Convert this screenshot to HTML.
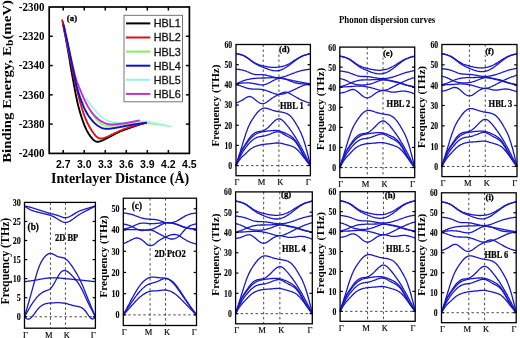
<!DOCTYPE html>
<html><head><meta charset="utf-8"><style>
html,body{margin:0;padding:0;background:#fff;}
body{width:520px;height:338px;overflow:hidden;}
svg{display:block;}
</style></head><body>
<svg width="520" height="338" viewBox="0 0 520 338">
<rect width="520" height="338" fill="#fff"/>
<path d="M91.3,111.7 L91.9,112.7 L92.5,113.7 L93.1,114.6 L93.7,115.6 L94.4,116.6 L95.0,117.5 L95.6,118.3 L96.2,119.2 L96.8,120.0 L97.4,120.7 L98.1,121.4 L98.7,122.0 L99.3,122.6 L99.9,123.1 L100.5,123.6 L101.2,124.0 L101.8,124.3 L102.4,124.6 L103.0,124.9 L103.6,125.1 L104.2,125.3 L104.9,125.5 L105.5,125.6 L106.1,125.7 L106.7,125.8 L107.3,125.9 L108.0,125.9 L108.6,126.0 L109.2,126.0 L109.8,126.0 L110.4,126.0 L111.1,125.9 L111.7,125.9 L112.3,125.9 L112.9,125.8 L113.5,125.8 L114.1,125.8 L114.8,125.7 L115.4,125.7 L116.0,125.6 L116.6,125.6 L117.2,125.5 L117.9,125.5 L118.5,125.4 L119.1,125.4 L119.7,125.3 L120.3,125.2 L120.9,125.2 L121.6,125.1 L122.2,125.1 L122.8,125.0 L123.4,124.9 L124.0,124.9 L124.7,124.8 L125.3,124.7 L125.9,124.7 L126.5,124.6 L127.1,124.5 L127.8,124.5 L128.4,124.4 L129.0,124.3 L129.6,124.2 L130.2,124.2 L130.8,124.1 L131.5,124.0 L132.1,124.0 L132.7,123.9 L133.3,123.8 L133.9,123.8 L134.6,123.7 L135.2,123.6 L135.8,123.6 L136.4,123.5 L137.0,123.4 L137.6,123.4 L138.3,123.3 L138.9,123.3 L139.5,123.2 L140.1,123.2 L140.7,123.2 L141.4,123.1 L142.0,123.1 L142.6,123.1 L143.2,123.1 L143.8,123.1 L144.5,123.1 L145.1,123.1 L145.7,123.1 L146.3,123.2 L146.9,123.2 L147.5,123.2 L148.2,123.3 L148.8,123.3 L149.4,123.4 L150.0,123.5 L150.6,123.5 L151.3,123.6 L151.9,123.6 L152.5,123.7 L153.1,123.8 L153.7,123.9 L154.3,123.9 L155.0,124.0 L155.6,124.1 L156.2,124.2 L156.8,124.3 L157.4,124.4 L158.1,124.4 L158.7,124.5 L159.3,124.6 L159.9,124.7 L160.5,124.8 L161.2,124.9 L161.8,125.0 L162.4,125.1 L163.0,125.2 L163.6,125.3 L164.2,125.3 L164.9,125.4" fill="none" stroke="#a0f070" stroke-width="1.9" stroke-linejoin="round" stroke-linecap="round"/>
<path d="M86.4,98.9 L87.1,99.9 L87.8,100.9 L88.5,101.8 L89.2,102.8 L89.9,103.7 L90.6,104.6 L91.3,105.6 L92.1,106.5 L92.8,107.4 L93.5,108.3 L94.2,109.2 L94.9,110.1 L95.6,110.9 L96.3,111.8 L97.0,112.6 L97.8,113.3 L98.5,114.1 L99.2,114.8 L99.9,115.5 L100.6,116.1 L101.3,116.7 L102.0,117.3 L102.7,117.8 L103.5,118.3 L104.2,118.8 L104.9,119.2 L105.6,119.6 L106.3,120.0 L107.0,120.3 L107.7,120.6 L108.4,120.9 L109.2,121.2 L109.9,121.4 L110.6,121.6 L111.3,121.8 L112.0,122.0 L112.7,122.2 L113.4,122.3 L114.2,122.4 L114.9,122.5 L115.6,122.6 L116.3,122.7 L117.0,122.8 L117.7,122.8 L118.4,122.9 L119.1,122.9 L119.9,122.9 L120.6,123.0 L121.3,123.0 L122.0,123.0 L122.7,123.0 L123.4,122.9 L124.1,122.9 L124.8,122.9 L125.6,122.8 L126.3,122.8 L127.0,122.7 L127.7,122.7 L128.4,122.6 L129.1,122.6 L129.8,122.5 L130.5,122.4 L131.3,122.3 L132.0,122.2 L132.7,122.2 L133.4,122.1 L134.1,122.0 L134.8,121.9 L135.5,121.8 L136.2,121.7 L137.0,121.6 L137.7,121.5 L138.4,121.5 L139.1,121.4 L139.8,121.4 L140.5,121.3 L141.2,121.3 L141.9,121.3 L142.7,121.4 L143.4,121.4 L144.1,121.4 L144.8,121.5 L145.5,121.6 L146.2,121.6 L146.9,121.7 L147.7,121.8 L148.4,121.9 L149.1,122.0 L149.8,122.1 L150.5,122.3 L151.2,122.4 L151.9,122.5 L152.6,122.6 L153.4,122.8 L154.1,122.9 L154.8,123.0 L155.5,123.2 L156.2,123.3 L156.9,123.5 L157.6,123.6 L158.3,123.8 L159.1,123.9 L159.8,124.1 L160.5,124.2 L161.2,124.4 L161.9,124.5 L162.6,124.7 L163.3,124.8 L164.0,125.0 L164.8,125.2 L165.5,125.3 L166.2,125.5 L166.9,125.6 L167.6,125.8 L168.3,126.0 L169.0,126.1 L169.7,126.3 L170.5,126.4 L171.2,126.6" fill="none" stroke="#a8f0f0" stroke-width="1.9" stroke-linejoin="round" stroke-linecap="round"/>
<path d="M62.9,22.4 L63.6,26.2 L64.3,30.0 L65.0,33.8 L65.7,37.6 L66.4,41.5 L67.1,45.4 L67.8,49.3 L68.5,53.3 L69.2,57.4 L69.9,61.4 L70.5,65.5 L71.2,69.5 L71.9,73.4 L72.6,77.3 L73.3,81.2 L74.0,85.0 L74.7,88.8 L75.4,92.5 L76.1,96.1 L76.8,99.5 L77.5,102.7 L78.2,105.6 L78.9,108.3 L79.6,110.8 L80.3,113.2 L81.0,115.5 L81.7,117.7 L82.4,119.8 L83.1,121.8 L83.8,123.7 L84.5,125.5 L85.2,127.1 L85.9,128.7 L86.6,130.1 L87.3,131.4 L88.0,132.6 L88.7,133.8 L89.4,134.9 L90.1,135.9 L90.8,136.8 L91.5,137.7 L92.2,138.6 L92.9,139.3 L93.6,140.0 L94.3,140.5 L95.0,141.0 L95.7,141.4 L96.4,141.6 L97.1,141.7 L97.8,141.8 L98.5,141.7 L99.2,141.6 L99.9,141.4 L100.6,141.1 L101.3,140.9 L102.0,140.6 L102.7,140.3 L103.4,140.0 L104.1,139.6 L104.8,139.3 L105.5,139.0 L106.1,138.6 L106.8,138.3 L107.5,137.9 L108.2,137.6 L108.9,137.2 L109.6,136.8 L110.3,136.5 L111.0,136.1 L111.7,135.7 L112.4,135.4 L113.1,135.0 L113.8,134.6 L114.5,134.2 L115.2,133.9 L115.9,133.5 L116.6,133.2 L117.3,132.8 L118.0,132.5 L118.7,132.1 L119.4,131.8 L120.1,131.5 L120.8,131.2 L121.5,130.9 L122.2,130.7 L122.9,130.4 L123.6,130.1 L124.3,129.9 L125.0,129.6 L125.7,129.4 L126.4,129.1 L127.1,128.9 L127.8,128.6 L128.5,128.4 L129.2,128.1 L129.9,127.9 L130.6,127.7 L131.3,127.4 L132.0,127.2 L132.7,126.9 L133.4,126.7 L134.1,126.5 L134.8,126.2 L135.5,126.0 L136.2,125.7 L136.9,125.5 L137.6,125.3 L138.3,125.1 L139.0,124.8 L139.7,124.6 L140.4,124.4 L141.1,124.2 L141.7,124.0 L142.4,123.8 L143.1,123.6 L143.8,123.4 L144.5,123.2 L145.2,123.0 L145.9,122.8" fill="none" stroke="#000000" stroke-width="1.9" stroke-linejoin="round" stroke-linecap="round"/>
<path d="M62.2,20.2 L62.9,23.4 L63.6,26.7 L64.3,30.0 L65.0,33.3 L65.7,36.6 L66.4,39.9 L67.1,43.3 L67.8,46.6 L68.5,50.0 L69.2,53.5 L69.9,56.9 L70.6,60.3 L71.3,63.8 L72.0,67.3 L72.7,70.7 L73.4,74.2 L74.1,77.5 L74.8,80.8 L75.5,83.9 L76.2,87.0 L77.0,90.0 L77.7,92.9 L78.4,95.6 L79.1,98.3 L79.8,100.9 L80.5,103.4 L81.2,105.8 L81.9,108.2 L82.6,110.4 L83.3,112.6 L84.0,114.6 L84.7,116.5 L85.4,118.3 L86.1,120.0 L86.8,121.5 L87.5,123.0 L88.2,124.4 L88.9,125.7 L89.6,127.0 L90.3,128.2 L91.0,129.3 L91.7,130.4 L92.4,131.5 L93.1,132.5 L93.8,133.5 L94.5,134.4 L95.3,135.3 L96.0,136.1 L96.7,136.7 L97.4,137.3 L98.1,137.8 L98.8,138.1 L99.5,138.4 L100.2,138.5 L100.9,138.5 L101.6,138.5 L102.3,138.4 L103.0,138.3 L103.7,138.1 L104.4,137.9 L105.1,137.6 L105.8,137.4 L106.5,137.1 L107.2,136.8 L107.9,136.5 L108.6,136.1 L109.3,135.8 L110.0,135.5 L110.7,135.1 L111.4,134.8 L112.1,134.4 L112.9,134.1 L113.6,133.8 L114.3,133.4 L115.0,133.1 L115.7,132.8 L116.4,132.5 L117.1,132.1 L117.8,131.8 L118.5,131.5 L119.2,131.2 L119.9,130.9 L120.6,130.6 L121.3,130.3 L122.0,130.0 L122.7,129.7 L123.4,129.4 L124.1,129.2 L124.8,128.9 L125.5,128.6 L126.2,128.3 L126.9,128.1 L127.6,127.8 L128.3,127.5 L129.0,127.3 L129.7,127.1 L130.5,126.8 L131.2,126.6 L131.9,126.4 L132.6,126.2 L133.3,126.0 L134.0,125.8 L134.7,125.6 L135.4,125.5 L136.1,125.3 L136.8,125.1 L137.5,124.9 L138.2,124.7 L138.9,124.6 L139.6,124.4 L140.3,124.2 L141.0,124.0 L141.7,123.9 L142.4,123.7 L143.1,123.5 L143.8,123.3 L144.5,123.2 L145.2,123.0 L145.9,122.8" fill="none" stroke="#dd1111" stroke-width="1.9" stroke-linejoin="round" stroke-linecap="round"/>
<path d="M64.3,27.5 L64.9,30.6 L65.5,33.6 L66.2,36.7 L66.8,39.7 L67.4,42.7 L68.0,45.7 L68.7,48.7 L69.3,51.6 L69.9,54.5 L70.5,57.3 L71.2,60.0 L71.8,62.7 L72.4,65.3 L73.1,67.9 L73.7,70.3 L74.3,72.7 L74.9,75.0 L75.6,77.2 L76.2,79.2 L76.8,81.2 L77.4,83.0 L78.1,84.7 L78.7,86.3 L79.3,87.8 L80.0,89.3 L80.6,90.8 L81.2,92.3 L81.8,93.7 L82.5,95.2 L83.1,96.6 L83.7,98.1 L84.3,99.4 L85.0,100.8 L85.6,102.1 L86.2,103.3 L86.9,104.5 L87.5,105.7 L88.1,106.8 L88.7,107.8 L89.4,108.9 L90.0,109.8 L90.6,110.8 L91.2,111.7 L91.9,112.5 L92.5,113.3 L93.1,114.1 L93.8,114.8 L94.4,115.5 L95.0,116.2 L95.6,116.8 L96.3,117.4 L96.9,118.0 L97.5,118.5 L98.1,119.0 L98.8,119.5 L99.4,120.0 L100.0,120.4 L100.7,120.9 L101.3,121.3 L101.9,121.6 L102.5,122.0 L103.2,122.3 L103.8,122.6 L104.4,122.9 L105.1,123.2 L105.7,123.4 L106.3,123.6 L106.9,123.8 L107.6,124.0 L108.2,124.1 L108.8,124.2 L109.4,124.3 L110.1,124.4 L110.7,124.5 L111.3,124.5 L112.0,124.5 L112.6,124.5 L113.2,124.5 L113.8,124.4 L114.5,124.4 L115.1,124.3 L115.7,124.3 L116.3,124.2 L117.0,124.2 L117.6,124.1 L118.2,124.0 L118.9,124.0 L119.5,123.9 L120.1,123.9 L120.7,123.8 L121.4,123.7 L122.0,123.6 L122.6,123.6 L123.2,123.5 L123.9,123.4 L124.5,123.3 L125.1,123.2 L125.8,123.1 L126.4,123.0 L127.0,122.9 L127.6,122.8 L128.3,122.7 L128.9,122.5 L129.5,122.4 L130.1,122.3 L130.8,122.2 L131.4,122.1 L132.0,121.9 L132.7,121.8 L133.3,121.7 L133.9,121.5 L134.5,121.4 L135.2,121.3 L135.8,121.1 L136.4,121.0 L137.0,120.9 L137.7,120.7 L138.3,120.6 L138.9,120.5" fill="none" stroke="#bb33cc" stroke-width="1.9" stroke-linejoin="round" stroke-linecap="round"/>
<path d="M63.6,25.3 L64.3,28.2 L65.0,31.1 L65.6,34.0 L66.3,37.0 L67.0,40.1 L67.7,43.2 L68.4,46.4 L69.1,49.7 L69.8,53.1 L70.5,56.5 L71.2,60.0 L71.9,63.4 L72.6,66.8 L73.3,70.1 L74.0,73.5 L74.6,76.8 L75.3,80.1 L76.0,83.2 L76.7,86.2 L77.4,88.9 L78.1,91.4 L78.8,93.6 L79.5,95.7 L80.2,97.7 L80.9,99.6 L81.6,101.4 L82.3,103.2 L83.0,105.0 L83.6,106.6 L84.3,108.2 L85.0,109.7 L85.7,111.1 L86.4,112.3 L87.1,113.5 L87.8,114.7 L88.5,115.7 L89.2,116.7 L89.9,117.7 L90.6,118.6 L91.3,119.4 L91.9,120.2 L92.6,121.0 L93.3,121.8 L94.0,122.5 L94.7,123.2 L95.4,123.8 L96.1,124.4 L96.8,125.0 L97.5,125.5 L98.2,126.0 L98.9,126.4 L99.6,126.8 L100.3,127.2 L100.9,127.5 L101.6,127.8 L102.3,128.1 L103.0,128.3 L103.7,128.5 L104.4,128.6 L105.1,128.7 L105.8,128.8 L106.5,128.8 L107.2,128.9 L107.9,128.8 L108.6,128.8 L109.3,128.8 L109.9,128.7 L110.6,128.6 L111.3,128.5 L112.0,128.4 L112.7,128.3 L113.4,128.2 L114.1,128.1 L114.8,128.0 L115.5,127.9 L116.2,127.7 L116.9,127.6 L117.6,127.5 L118.3,127.4 L118.9,127.3 L119.6,127.1 L120.3,127.0 L121.0,126.9 L121.7,126.7 L122.4,126.6 L123.1,126.5 L123.8,126.3 L124.5,126.2 L125.2,126.0 L125.9,125.9 L126.6,125.8 L127.2,125.6 L127.9,125.5 L128.6,125.4 L129.3,125.2 L130.0,125.1 L130.7,125.0 L131.4,124.9 L132.1,124.7 L132.8,124.6 L133.5,124.5 L134.2,124.4 L134.9,124.3 L135.6,124.2 L136.2,124.1 L136.9,124.0 L137.6,123.9 L138.3,123.8 L139.0,123.7 L139.7,123.6 L140.4,123.5 L141.1,123.4 L141.8,123.3 L142.5,123.2 L143.2,123.1 L143.9,123.1 L144.6,123.0 L145.2,122.9 L145.9,122.8" fill="none" stroke="#1111cc" stroke-width="1.9" stroke-linejoin="round" stroke-linecap="round"/>
<rect x="49.20" y="7.00" width="140.20" height="146.40" stroke="#000" stroke-width="1.7" fill="none"/>
<line x1="49.20" y1="36.28" x2="52.70" y2="36.28" stroke="#000" stroke-width="1.5"/>
<line x1="185.90" y1="36.28" x2="189.40" y2="36.28" stroke="#000" stroke-width="1.5"/>
<line x1="49.20" y1="65.56" x2="52.70" y2="65.56" stroke="#000" stroke-width="1.5"/>
<line x1="185.90" y1="65.56" x2="189.40" y2="65.56" stroke="#000" stroke-width="1.5"/>
<line x1="49.20" y1="94.84" x2="52.70" y2="94.84" stroke="#000" stroke-width="1.5"/>
<line x1="185.90" y1="94.84" x2="189.40" y2="94.84" stroke="#000" stroke-width="1.5"/>
<line x1="49.20" y1="124.12" x2="52.70" y2="124.12" stroke="#000" stroke-width="1.5"/>
<line x1="185.90" y1="124.12" x2="189.40" y2="124.12" stroke="#000" stroke-width="1.5"/>
<line x1="63.22" y1="153.40" x2="63.22" y2="149.90" stroke="#000" stroke-width="1.5"/>
<line x1="63.22" y1="7.00" x2="63.22" y2="10.50" stroke="#000" stroke-width="1.5"/>
<line x1="84.25" y1="153.40" x2="84.25" y2="149.90" stroke="#000" stroke-width="1.5"/>
<line x1="84.25" y1="7.00" x2="84.25" y2="10.50" stroke="#000" stroke-width="1.5"/>
<line x1="105.28" y1="153.40" x2="105.28" y2="149.90" stroke="#000" stroke-width="1.5"/>
<line x1="105.28" y1="7.00" x2="105.28" y2="10.50" stroke="#000" stroke-width="1.5"/>
<line x1="126.31" y1="153.40" x2="126.31" y2="149.90" stroke="#000" stroke-width="1.5"/>
<line x1="126.31" y1="7.00" x2="126.31" y2="10.50" stroke="#000" stroke-width="1.5"/>
<line x1="147.34" y1="153.40" x2="147.34" y2="149.90" stroke="#000" stroke-width="1.5"/>
<line x1="147.34" y1="7.00" x2="147.34" y2="10.50" stroke="#000" stroke-width="1.5"/>
<line x1="168.37" y1="153.40" x2="168.37" y2="149.90" stroke="#000" stroke-width="1.5"/>
<line x1="168.37" y1="7.00" x2="168.37" y2="10.50" stroke="#000" stroke-width="1.5"/>
<text transform="translate(44.40,10.90) scale(0.9,1)" font-family="'Liberation Serif', 'Times New Roman', serif" font-size="12.2" font-weight="bold" text-anchor="end" fill="#000">-2300</text>
<text transform="translate(44.40,40.18) scale(0.9,1)" font-family="'Liberation Serif', 'Times New Roman', serif" font-size="12.2" font-weight="bold" text-anchor="end" fill="#000">-2320</text>
<text transform="translate(44.40,69.46) scale(0.9,1)" font-family="'Liberation Serif', 'Times New Roman', serif" font-size="12.2" font-weight="bold" text-anchor="end" fill="#000">-2340</text>
<text transform="translate(44.40,98.74) scale(0.9,1)" font-family="'Liberation Serif', 'Times New Roman', serif" font-size="12.2" font-weight="bold" text-anchor="end" fill="#000">-2360</text>
<text transform="translate(44.40,128.02) scale(0.9,1)" font-family="'Liberation Serif', 'Times New Roman', serif" font-size="12.2" font-weight="bold" text-anchor="end" fill="#000">-2380</text>
<text transform="translate(44.40,157.30) scale(0.9,1)" font-family="'Liberation Serif', 'Times New Roman', serif" font-size="12.2" font-weight="bold" text-anchor="end" fill="#000">-2400</text>
<text transform="translate(63.22,168.30)" font-family="'Liberation Sans', Arial, sans-serif" font-size="10.5" font-weight="bold" text-anchor="middle" fill="#000">2.7</text>
<text transform="translate(84.25,168.30)" font-family="'Liberation Sans', Arial, sans-serif" font-size="10.5" font-weight="bold" text-anchor="middle" fill="#000">3.0</text>
<text transform="translate(105.28,168.30)" font-family="'Liberation Sans', Arial, sans-serif" font-size="10.5" font-weight="bold" text-anchor="middle" fill="#000">3.3</text>
<text transform="translate(126.31,168.30)" font-family="'Liberation Sans', Arial, sans-serif" font-size="10.5" font-weight="bold" text-anchor="middle" fill="#000">3.6</text>
<text transform="translate(147.34,168.30)" font-family="'Liberation Sans', Arial, sans-serif" font-size="10.5" font-weight="bold" text-anchor="middle" fill="#000">3.9</text>
<text transform="translate(168.37,168.30)" font-family="'Liberation Sans', Arial, sans-serif" font-size="10.5" font-weight="bold" text-anchor="middle" fill="#000">4.2</text>
<text transform="translate(189.40,168.30)" font-family="'Liberation Sans', Arial, sans-serif" font-size="10.5" font-weight="bold" text-anchor="middle" fill="#000">4.5</text>
<text transform="translate(51.00,182.50)" font-family="'Liberation Serif', 'Times New Roman', serif" font-size="14" font-weight="bold" text-anchor="start" fill="#000">Interlayer Distance (Å)</text>
<text transform="translate(11.0,162.8) rotate(-90) scale(1.1,1)" font-family="'Liberation Serif', 'Times New Roman', serif" font-size="13.5" font-weight="bold" fill="#000">Binding Energy, E<tspan font-size="10.5" dy="2.3">b</tspan><tspan dy="-2.3">(meV)</tspan></text>
<text transform="translate(66.80,21.20)" font-family="'Liberation Serif', 'Times New Roman', serif" font-size="8.8" font-weight="bold" text-anchor="start" fill="#000" stroke="#000" stroke-width="0.3">(a)</text>
<rect x="124.00" y="15.30" width="58.50" height="86.50" stroke="#666" stroke-width="0.9" fill="#fff"/>
<line x1="126.00" y1="23.40" x2="150.30" y2="23.40" stroke="#000000" stroke-width="2.0"/>
<text transform="translate(153.70,27.30)" font-family="'Liberation Sans', Arial, sans-serif" font-size="10.8" font-weight="normal" text-anchor="start" fill="#111" stroke="#111" stroke-width="0.3">HBL1</text>
<line x1="126.00" y1="37.50" x2="150.30" y2="37.50" stroke="#dd1111" stroke-width="2.0"/>
<text transform="translate(153.70,41.40)" font-family="'Liberation Sans', Arial, sans-serif" font-size="10.8" font-weight="normal" text-anchor="start" fill="#111" stroke="#111" stroke-width="0.3">HBL2</text>
<line x1="126.00" y1="51.60" x2="150.30" y2="51.60" stroke="#88ee55" stroke-width="2.0"/>
<text transform="translate(153.70,55.50)" font-family="'Liberation Sans', Arial, sans-serif" font-size="10.8" font-weight="normal" text-anchor="start" fill="#111" stroke="#111" stroke-width="0.3">HBL3</text>
<line x1="126.00" y1="65.70" x2="150.30" y2="65.70" stroke="#1111cc" stroke-width="2.0"/>
<text transform="translate(153.70,69.60)" font-family="'Liberation Sans', Arial, sans-serif" font-size="10.8" font-weight="normal" text-anchor="start" fill="#111" stroke="#111" stroke-width="0.3">HBL4</text>
<line x1="126.00" y1="79.80" x2="150.30" y2="79.80" stroke="#99eeee" stroke-width="2.0"/>
<text transform="translate(153.70,83.70)" font-family="'Liberation Sans', Arial, sans-serif" font-size="10.8" font-weight="normal" text-anchor="start" fill="#111" stroke="#111" stroke-width="0.3">HBL5</text>
<line x1="126.00" y1="93.90" x2="150.30" y2="93.90" stroke="#bb33cc" stroke-width="2.0"/>
<text transform="translate(153.70,97.80)" font-family="'Liberation Sans', Arial, sans-serif" font-size="10.8" font-weight="normal" text-anchor="start" fill="#111" stroke="#111" stroke-width="0.3">HBL6</text>
<line x1="50.45" y1="202.40" x2="50.45" y2="328.20" stroke="#333" stroke-width="0.9" stroke-dasharray="2.4,2.6"/>
<line x1="65.43" y1="202.40" x2="65.43" y2="328.20" stroke="#333" stroke-width="0.9" stroke-dasharray="2.4,2.6"/>
<line x1="24.50" y1="316.76" x2="95.40" y2="316.76" stroke="#333" stroke-width="0.9" stroke-dasharray="2.4,2.6"/>
<rect x="27.10" y="222.80" width="12.04" height="9.12" fill="#fff"/>
<path d="M24.5,206.0 L25.3,206.2 L26.1,206.3 L26.9,206.5 L27.7,206.7 L28.5,206.9 L29.3,207.0 L30.1,207.2 L30.9,207.4 L31.7,207.6 L32.5,207.8 L33.3,208.1 L34.1,208.3 L34.9,208.6 L35.7,208.8 L36.4,209.1 L37.2,209.3 L38.0,209.6 L38.8,209.8 L39.6,210.1 L40.4,210.4 L41.2,210.7 L42.0,210.9 L42.8,211.2 L43.6,211.5 L44.4,211.7 L45.2,212.0 L46.0,212.2 L46.8,212.5 L47.6,212.8 L48.4,213.0 L49.2,213.2 L50.0,213.4 L50.8,213.7 L51.6,213.8 L52.4,214.0 L53.2,214.2 L54.0,214.4 L54.8,214.6 L55.6,214.8 L56.4,215.0 L57.2,215.3 L58.0,215.5 L58.8,215.8 L59.6,216.1 L60.3,216.4 L61.1,216.7 L61.9,217.0 L62.7,217.3 L63.5,217.5 L64.3,217.6 L65.1,217.6 L65.9,217.6 L66.7,217.5 L67.5,217.3 L68.3,217.1 L69.1,216.8 L69.9,216.4 L70.7,216.0 L71.5,215.6 L72.3,215.1 L73.1,214.6 L73.9,214.1 L74.7,213.6 L75.5,213.1 L76.3,212.7 L77.1,212.2 L77.9,211.8 L78.7,211.4 L79.5,211.0 L80.3,210.7 L81.1,210.4 L81.9,210.1 L82.7,209.8 L83.5,209.5 L84.2,209.3 L85.0,209.0 L85.8,208.8 L86.6,208.6 L87.4,208.3 L88.2,208.1 L89.0,207.9 L89.8,207.6 L90.6,207.4 L91.4,207.2 L92.2,206.9 L93.0,206.7 L93.8,206.5 L94.6,206.3 L95.4,206.0" fill="none" stroke="#1818c8" stroke-width="1.3" stroke-linejoin="round"/>
<path d="M24.5,206.0 L25.3,206.6 L26.1,207.2 L26.9,207.7 L27.7,208.3 L28.5,208.8 L29.3,209.2 L30.1,209.6 L30.9,210.0 L31.7,210.3 L32.5,210.6 L33.3,210.9 L34.1,211.1 L34.9,211.4 L35.7,211.6 L36.4,211.8 L37.2,212.0 L38.0,212.2 L38.8,212.4 L39.6,212.6 L40.4,212.8 L41.2,213.0 L42.0,213.2 L42.8,213.4 L43.6,213.7 L44.4,213.9 L45.2,214.0 L46.0,214.2 L46.8,214.4 L47.6,214.6 L48.4,214.8 L49.2,215.0 L50.0,215.2 L50.8,215.5 L51.6,215.8 L52.4,216.1 L53.2,216.5 L54.0,216.9 L54.8,217.4 L55.6,217.8 L56.4,218.3 L57.2,218.8 L58.0,219.3 L58.8,219.7 L59.6,220.2 L60.3,220.7 L61.1,221.1 L61.9,221.5 L62.7,221.8 L63.5,222.1 L64.3,222.3 L65.1,222.4 L65.9,222.4 L66.7,222.3 L67.5,222.1 L68.3,221.8 L69.1,221.5 L69.9,221.1 L70.7,220.6 L71.5,220.1 L72.3,219.5 L73.1,219.0 L73.9,218.4 L74.7,217.8 L75.5,217.2 L76.3,216.6 L77.1,216.0 L77.9,215.5 L78.7,214.9 L79.5,214.4 L80.3,214.0 L81.1,213.5 L81.9,213.0 L82.7,212.6 L83.5,212.2 L84.2,211.8 L85.0,211.4 L85.8,211.0 L86.6,210.6 L87.4,210.2 L88.2,209.8 L89.0,209.4 L89.8,208.9 L90.6,208.5 L91.4,208.1 L92.2,207.7 L93.0,207.3 L93.8,206.9 L94.6,206.4 L95.4,206.0" fill="none" stroke="#1818c8" stroke-width="1.3" stroke-linejoin="round"/>
<path d="M24.5,316.8 L25.3,314.0 L26.1,311.3 L26.9,308.6 L27.7,305.8 L28.5,303.0 L29.3,300.2 L30.1,297.4 L30.9,294.6 L31.7,291.7 L32.5,288.8 L33.3,285.9 L34.1,283.0 L34.9,280.1 L35.7,277.3 L36.4,274.7 L37.2,272.1 L38.0,269.7 L38.8,267.5 L39.6,265.5 L40.4,263.7 L41.2,262.1 L42.0,260.7 L42.8,259.4 L43.6,258.2 L44.4,257.2 L45.2,256.3 L46.0,255.6 L46.8,254.9 L47.6,254.4 L48.4,253.9 L49.2,253.7 L50.0,253.5 L50.8,253.5 L51.6,253.6 L52.4,253.9 L53.2,254.2 L54.0,254.6 L54.8,255.0 L55.6,255.4 L56.4,255.9 L57.2,256.3 L58.0,256.6 L58.8,256.8 L59.6,257.0 L60.3,257.2 L61.1,257.4 L61.9,257.5 L62.7,257.7 L63.5,257.9 L64.3,258.2 L65.1,258.6 L65.9,259.2 L66.7,259.8 L67.5,260.5 L68.3,261.4 L69.1,262.3 L69.9,263.3 L70.7,264.3 L71.5,265.4 L72.3,266.6 L73.1,267.8 L73.9,269.0 L74.7,270.3 L75.5,271.6 L76.3,272.9 L77.1,274.3 L77.9,275.7 L78.7,277.2 L79.5,278.8 L80.3,280.4 L81.1,282.1 L81.9,283.9 L82.7,285.7 L83.5,287.6 L84.2,289.5 L85.0,291.5 L85.8,293.4 L86.6,295.4 L87.4,297.4 L88.2,299.4 L89.0,301.4 L89.8,303.3 L90.6,305.3 L91.4,307.2 L92.2,309.1 L93.0,311.1 L93.8,313.0 L94.6,314.9 L95.4,316.8" fill="none" stroke="#1818c8" stroke-width="1.3" stroke-linejoin="round"/>
<path d="M24.5,281.7 L25.3,281.6 L26.1,281.5 L26.9,281.4 L27.7,281.3 L28.5,281.2 L29.3,281.1 L30.1,280.9 L30.9,280.8 L31.7,280.7 L32.5,280.6 L33.3,280.5 L34.1,280.3 L34.9,280.2 L35.7,280.1 L36.4,279.9 L37.2,279.8 L38.0,279.7 L38.8,279.5 L39.6,279.4 L40.4,279.2 L41.2,279.1 L42.0,278.9 L42.8,278.8 L43.6,278.7 L44.4,278.5 L45.2,278.4 L46.0,278.3 L46.8,278.2 L47.6,278.1 L48.4,278.0 L49.2,278.0 L50.0,277.9 L50.8,277.9 L51.6,277.8 L52.4,277.8 L53.2,277.8 L54.0,277.8 L54.8,277.8 L55.6,277.8 L56.4,277.9 L57.2,277.9 L58.0,278.0 L58.8,278.0 L59.6,278.1 L60.3,278.2 L61.1,278.2 L61.9,278.3 L62.7,278.4 L63.5,278.5 L64.3,278.5 L65.1,278.6 L65.9,278.7 L66.7,278.8 L67.5,278.8 L68.3,278.9 L69.1,279.0 L69.9,279.1 L70.7,279.2 L71.5,279.2 L72.3,279.3 L73.1,279.4 L73.9,279.5 L74.7,279.5 L75.5,279.6 L76.3,279.7 L77.1,279.8 L77.9,279.8 L78.7,279.9 L79.5,280.0 L80.3,280.1 L81.1,280.2 L81.9,280.2 L82.7,280.3 L83.5,280.4 L84.2,280.5 L85.0,280.6 L85.8,280.6 L86.6,280.7 L87.4,280.8 L88.2,280.9 L89.0,281.0 L89.8,281.1 L90.6,281.2 L91.4,281.3 L92.2,281.3 L93.0,281.4 L93.8,281.5 L94.6,281.6 L95.4,281.7" fill="none" stroke="#1818c8" stroke-width="1.3" stroke-linejoin="round"/>
<path d="M24.5,316.8 L25.3,315.3 L26.1,313.9 L26.9,312.5 L27.7,311.1 L28.5,309.7 L29.3,308.3 L30.1,307.0 L30.9,305.7 L31.7,304.4 L32.5,303.2 L33.3,302.0 L34.1,300.9 L34.9,299.8 L35.7,298.8 L36.4,297.8 L37.2,296.9 L38.0,296.1 L38.8,295.3 L39.6,294.5 L40.4,293.9 L41.2,293.3 L42.0,292.7 L42.8,292.2 L43.6,291.8 L44.4,291.4 L45.2,291.0 L46.0,290.8 L46.8,290.5 L47.6,290.2 L48.4,289.9 L49.2,289.5 L50.0,289.0 L50.8,288.2 L51.6,287.3 L52.4,286.2 L53.2,285.0 L54.0,283.6 L54.8,282.2 L55.6,280.8 L56.4,279.3 L57.2,277.9 L58.0,276.5 L58.8,275.1 L59.6,273.9 L60.3,272.9 L61.1,272.0 L61.9,271.4 L62.7,270.9 L63.5,270.6 L64.3,270.5 L65.1,270.6 L65.9,270.8 L66.7,271.1 L67.5,271.6 L68.3,272.1 L69.1,272.8 L69.9,273.5 L70.7,274.2 L71.5,275.0 L72.3,275.9 L73.1,276.7 L73.9,277.6 L74.7,278.5 L75.5,279.5 L76.3,280.5 L77.1,281.5 L77.9,282.7 L78.7,283.9 L79.5,285.1 L80.3,286.5 L81.1,287.9 L81.9,289.4 L82.7,291.0 L83.5,292.6 L84.2,294.3 L85.0,296.0 L85.8,297.7 L86.6,299.5 L87.4,301.2 L88.2,302.9 L89.0,304.5 L89.8,306.1 L90.6,307.7 L91.4,309.3 L92.2,310.8 L93.0,312.3 L93.8,313.8 L94.6,315.3 L95.4,316.8" fill="none" stroke="#1818c8" stroke-width="1.3" stroke-linejoin="round"/>
<path d="M24.5,316.8 L25.3,317.6 L26.1,318.3 L26.9,318.8 L27.7,319.2 L28.5,319.2 L29.3,319.0 L30.1,318.5 L30.9,317.9 L31.7,317.1 L32.5,316.2 L33.3,315.3 L34.1,314.2 L34.9,313.1 L35.7,312.0 L36.4,310.9 L37.2,309.9 L38.0,309.0 L38.8,308.1 L39.6,307.3 L40.4,306.6 L41.2,306.0 L42.0,305.4 L42.8,304.9 L43.6,304.5 L44.4,304.2 L45.2,303.9 L46.0,303.6 L46.8,303.5 L47.6,303.3 L48.4,303.2 L49.2,303.1 L50.0,303.1 L50.8,303.0 L51.6,303.0 L52.4,302.9 L53.2,302.9 L54.0,302.8 L54.8,302.8 L55.6,302.7 L56.4,302.7 L57.2,302.7 L58.0,302.7 L58.8,302.7 L59.6,302.7 L60.3,302.8 L61.1,302.8 L61.9,302.9 L62.7,303.0 L63.5,303.1 L64.3,303.2 L65.1,303.4 L65.9,303.5 L66.7,303.7 L67.5,303.9 L68.3,304.1 L69.1,304.4 L69.9,304.6 L70.7,304.8 L71.5,305.0 L72.3,305.3 L73.1,305.5 L73.9,305.7 L74.7,305.9 L75.5,306.1 L76.3,306.2 L77.1,306.4 L77.9,306.5 L78.7,306.7 L79.5,306.9 L80.3,307.2 L81.1,307.5 L81.9,307.9 L82.7,308.4 L83.5,309.0 L84.2,309.7 L85.0,310.5 L85.8,311.5 L86.6,312.6 L87.4,313.8 L88.2,315.0 L89.0,316.2 L89.8,317.2 L90.6,318.1 L91.4,318.7 L92.2,319.0 L93.0,318.9 L93.8,318.4 L94.6,317.7 L95.4,316.8" fill="none" stroke="#1818c8" stroke-width="1.3" stroke-linejoin="round"/>
<rect x="24.50" y="202.40" width="70.90" height="125.80" stroke="#000" stroke-width="1.3" fill="none"/>
<line x1="24.50" y1="316.76" x2="27.30" y2="316.76" stroke="#000" stroke-width="1.2"/>
<line x1="92.60" y1="316.76" x2="95.40" y2="316.76" stroke="#000" stroke-width="1.2"/>
<text transform="translate(20.70,320.16) scale(0.85,1)" font-family="'Liberation Serif', 'Times New Roman', serif" font-size="9.5" font-weight="bold" text-anchor="end" fill="#000" stroke="#000" stroke-width="0.1">0</text>
<line x1="24.50" y1="297.70" x2="27.30" y2="297.70" stroke="#000" stroke-width="1.2"/>
<line x1="92.60" y1="297.70" x2="95.40" y2="297.70" stroke="#000" stroke-width="1.2"/>
<text transform="translate(20.70,301.10) scale(0.85,1)" font-family="'Liberation Serif', 'Times New Roman', serif" font-size="9.5" font-weight="bold" text-anchor="end" fill="#000" stroke="#000" stroke-width="0.1">5</text>
<line x1="24.50" y1="278.64" x2="27.30" y2="278.64" stroke="#000" stroke-width="1.2"/>
<line x1="92.60" y1="278.64" x2="95.40" y2="278.64" stroke="#000" stroke-width="1.2"/>
<text transform="translate(20.70,282.04) scale(0.85,1)" font-family="'Liberation Serif', 'Times New Roman', serif" font-size="9.5" font-weight="bold" text-anchor="end" fill="#000" stroke="#000" stroke-width="0.1">10</text>
<line x1="24.50" y1="259.58" x2="27.30" y2="259.58" stroke="#000" stroke-width="1.2"/>
<line x1="92.60" y1="259.58" x2="95.40" y2="259.58" stroke="#000" stroke-width="1.2"/>
<text transform="translate(20.70,262.98) scale(0.85,1)" font-family="'Liberation Serif', 'Times New Roman', serif" font-size="9.5" font-weight="bold" text-anchor="end" fill="#000" stroke="#000" stroke-width="0.1">15</text>
<line x1="24.50" y1="240.52" x2="27.30" y2="240.52" stroke="#000" stroke-width="1.2"/>
<line x1="92.60" y1="240.52" x2="95.40" y2="240.52" stroke="#000" stroke-width="1.2"/>
<text transform="translate(20.70,243.92) scale(0.85,1)" font-family="'Liberation Serif', 'Times New Roman', serif" font-size="9.5" font-weight="bold" text-anchor="end" fill="#000" stroke="#000" stroke-width="0.1">20</text>
<line x1="24.50" y1="221.46" x2="27.30" y2="221.46" stroke="#000" stroke-width="1.2"/>
<line x1="92.60" y1="221.46" x2="95.40" y2="221.46" stroke="#000" stroke-width="1.2"/>
<text transform="translate(20.70,224.86) scale(0.85,1)" font-family="'Liberation Serif', 'Times New Roman', serif" font-size="9.5" font-weight="bold" text-anchor="end" fill="#000" stroke="#000" stroke-width="0.1">25</text>
<text transform="translate(20.70,205.80) scale(0.85,1)" font-family="'Liberation Serif', 'Times New Roman', serif" font-size="9.5" font-weight="bold" text-anchor="end" fill="#000" stroke="#000" stroke-width="0.1">30</text>
<text transform="translate(25.50,337.50) scale(0.95,1)" font-family="'Liberation Serif', 'Times New Roman', serif" font-size="9.0" font-weight="normal" text-anchor="middle" fill="#000" stroke="#000" stroke-width="0.15">Γ</text>
<text transform="translate(48.85,337.50) scale(0.95,1)" font-family="'Liberation Serif', 'Times New Roman', serif" font-size="9.0" font-weight="normal" text-anchor="middle" fill="#000" stroke="#000" stroke-width="0.15">M</text>
<text transform="translate(66.93,337.50) scale(0.95,1)" font-family="'Liberation Serif', 'Times New Roman', serif" font-size="9.0" font-weight="normal" text-anchor="middle" fill="#000" stroke="#000" stroke-width="0.15">K</text>
<text transform="translate(93.10,337.50) scale(0.95,1)" font-family="'Liberation Serif', 'Times New Roman', serif" font-size="9.0" font-weight="normal" text-anchor="middle" fill="#000" stroke="#000" stroke-width="0.15">Γ</text>
<text transform="translate(8.50,261.08) rotate(-90)" font-family="'Liberation Serif', 'Times New Roman', serif" font-size="11.8" font-weight="bold" text-anchor="middle" fill="#000">Frequency (THz)</text>
<text transform="translate(27.60,230.00) scale(0.95,1)" font-family="'Liberation Serif', 'Times New Roman', serif" font-size="9.6" font-weight="bold" text-anchor="start" fill="#000" stroke="#000" stroke-width="0.3">(b)</text>
<text transform="translate(55.00,240.60) scale(0.88,1)" font-family="'Liberation Serif', 'Times New Roman', serif" font-size="9.6" font-weight="bold" text-anchor="start" fill="#000" stroke="#000" stroke-width="0.25">2D BP</text>
<line x1="150.09" y1="198.20" x2="150.09" y2="325.50" stroke="#333" stroke-width="0.9" stroke-dasharray="2.4,2.6"/>
<line x1="165.55" y1="198.20" x2="165.55" y2="325.50" stroke="#333" stroke-width="0.9" stroke-dasharray="2.4,2.6"/>
<line x1="123.30" y1="314.89" x2="196.50" y2="314.89" stroke="#333" stroke-width="0.9" stroke-dasharray="2.4,2.6"/>
<rect x="131.30" y="201.40" width="12.04" height="9.12" fill="#fff"/>
<path d="M123.3,212.8 L124.1,213.0 L124.9,213.1 L125.8,213.2 L126.6,213.3 L127.4,213.5 L128.2,213.6 L129.1,213.8 L129.9,214.0 L130.7,214.2 L131.5,214.4 L132.3,214.6 L133.2,214.9 L134.0,215.2 L134.8,215.5 L135.6,215.8 L136.5,216.1 L137.3,216.4 L138.1,216.7 L138.9,217.0 L139.7,217.3 L140.6,217.6 L141.4,217.9 L142.2,218.1 L143.0,218.3 L143.9,218.5 L144.7,218.6 L145.5,218.8 L146.3,218.9 L147.2,219.0 L148.0,219.1 L148.8,219.1 L149.6,219.2 L150.4,219.2 L151.3,219.3 L152.1,219.3 L152.9,219.3 L153.7,219.4 L154.6,219.5 L155.4,219.6 L156.2,219.7 L157.0,219.8 L157.8,220.0 L158.7,220.2 L159.5,220.5 L160.3,220.8 L161.1,221.1 L162.0,221.4 L162.8,221.7 L163.6,222.0 L164.4,222.3 L165.2,222.5 L166.1,222.7 L166.9,222.8 L167.7,222.9 L168.5,223.0 L169.4,223.0 L170.2,222.9 L171.0,222.8 L171.8,222.7 L172.6,222.5 L173.5,222.3 L174.3,222.0 L175.1,221.7 L175.9,221.4 L176.8,221.0 L177.6,220.6 L178.4,220.1 L179.2,219.6 L180.1,219.1 L180.9,218.6 L181.7,218.1 L182.5,217.6 L183.3,217.1 L184.2,216.6 L185.0,216.1 L185.8,215.7 L186.6,215.3 L187.5,215.0 L188.3,214.6 L189.1,214.4 L189.9,214.1 L190.7,213.9 L191.6,213.7 L192.4,213.6 L193.2,213.4 L194.0,213.3 L194.9,213.2 L195.7,213.1 L196.5,213.1" fill="none" stroke="#1818c8" stroke-width="1.3" stroke-linejoin="round"/>
<path d="M123.3,223.9 L124.1,224.1 L124.9,224.3 L125.8,224.5 L126.6,224.7 L127.4,224.9 L128.2,225.2 L129.1,225.4 L129.9,225.7 L130.7,226.0 L131.5,226.4 L132.3,226.8 L133.2,227.2 L134.0,227.6 L134.8,228.0 L135.6,228.5 L136.5,228.9 L137.3,229.3 L138.1,229.7 L138.9,230.0 L139.7,230.2 L140.6,230.4 L141.4,230.5 L142.2,230.5 L143.0,230.5 L143.9,230.4 L144.7,230.3 L145.5,230.1 L146.3,230.0 L147.2,229.9 L148.0,229.8 L148.8,229.8 L149.6,229.8 L150.4,229.9 L151.3,230.0 L152.1,230.3 L152.9,230.6 L153.7,230.9 L154.6,231.3 L155.4,231.8 L156.2,232.2 L157.0,232.7 L157.8,233.1 L158.7,233.6 L159.5,234.0 L160.3,234.4 L161.1,234.9 L162.0,235.3 L162.8,235.7 L163.6,236.1 L164.4,236.5 L165.2,236.9 L166.1,237.3 L166.9,237.7 L167.7,238.0 L168.5,238.3 L169.4,238.6 L170.2,238.8 L171.0,239.0 L171.8,239.0 L172.6,239.0 L173.5,238.9 L174.3,238.8 L175.1,238.5 L175.9,238.2 L176.8,237.7 L177.6,237.2 L178.4,236.6 L179.2,235.9 L180.1,235.2 L180.9,234.3 L181.7,233.4 L182.5,232.4 L183.3,231.5 L184.2,230.5 L185.0,229.6 L185.8,228.8 L186.6,228.0 L187.5,227.3 L188.3,226.7 L189.1,226.2 L189.9,225.8 L190.7,225.4 L191.6,225.1 L192.4,224.8 L193.2,224.6 L194.0,224.4 L194.9,224.2 L195.7,224.0 L196.5,223.9" fill="none" stroke="#1818c8" stroke-width="1.3" stroke-linejoin="round"/>
<path d="M123.3,229.4 L124.1,229.2 L124.9,229.0 L125.8,228.7 L126.6,228.5 L127.4,228.3 L128.2,228.0 L129.1,227.7 L129.9,227.5 L130.7,227.2 L131.5,226.9 L132.3,226.5 L133.2,226.2 L134.0,225.8 L134.8,225.4 L135.6,225.0 L136.5,224.7 L137.3,224.3 L138.1,224.0 L138.9,223.7 L139.7,223.5 L140.6,223.3 L141.4,223.2 L142.2,223.1 L143.0,223.1 L143.9,223.1 L144.7,223.1 L145.5,223.2 L146.3,223.3 L147.2,223.4 L148.0,223.5 L148.8,223.6 L149.6,223.6 L150.4,223.7 L151.3,223.7 L152.1,223.7 L152.9,223.7 L153.7,223.6 L154.6,223.6 L155.4,223.5 L156.2,223.4 L157.0,223.3 L157.8,223.3 L158.7,223.2 L159.5,223.1 L160.3,223.0 L161.1,222.9 L162.0,222.8 L162.8,222.7 L163.6,222.7 L164.4,222.6 L165.2,222.6 L166.1,222.6 L166.9,222.6 L167.7,222.6 L168.5,222.7 L169.4,222.7 L170.2,222.8 L171.0,222.9 L171.8,223.0 L172.6,223.2 L173.5,223.4 L174.3,223.5 L175.1,223.7 L175.9,224.0 L176.8,224.2 L177.6,224.5 L178.4,224.7 L179.2,225.0 L180.1,225.3 L180.9,225.6 L181.7,226.0 L182.5,226.3 L183.3,226.6 L184.2,226.9 L185.0,227.2 L185.8,227.4 L186.6,227.6 L187.5,227.9 L188.3,228.1 L189.1,228.2 L189.9,228.4 L190.7,228.5 L191.6,228.6 L192.4,228.7 L193.2,228.8 L194.0,228.9 L194.9,229.0 L195.7,229.1 L196.5,229.2" fill="none" stroke="#1818c8" stroke-width="1.3" stroke-linejoin="round"/>
<path d="M123.3,229.4 L124.1,229.4 L124.9,229.4 L125.8,229.5 L126.6,229.5 L127.4,229.5 L128.2,229.5 L129.1,229.5 L129.9,229.6 L130.7,229.6 L131.5,229.6 L132.3,229.6 L133.2,229.6 L134.0,229.6 L134.8,229.6 L135.6,229.6 L136.5,229.6 L137.3,229.7 L138.1,229.7 L138.9,229.7 L139.7,229.7 L140.6,229.8 L141.4,229.9 L142.2,229.9 L143.0,230.0 L143.9,230.0 L144.7,230.1 L145.5,230.1 L146.3,230.2 L147.2,230.2 L148.0,230.1 L148.8,230.0 L149.6,229.9 L150.4,229.7 L151.3,229.5 L152.1,229.2 L152.9,228.9 L153.7,228.6 L154.6,228.2 L155.4,227.8 L156.2,227.4 L157.0,226.9 L157.8,226.5 L158.7,226.1 L159.5,225.6 L160.3,225.2 L161.1,224.7 L162.0,224.3 L162.8,224.0 L163.6,223.6 L164.4,223.3 L165.2,223.1 L166.1,222.9 L166.9,222.8 L167.7,222.7 L168.5,222.7 L169.4,222.7 L170.2,222.8 L171.0,222.9 L171.8,223.1 L172.6,223.3 L173.5,223.5 L174.3,223.7 L175.1,224.0 L175.9,224.3 L176.8,224.6 L177.6,224.9 L178.4,225.2 L179.2,225.5 L180.1,225.8 L180.9,226.2 L181.7,226.5 L182.5,226.8 L183.3,227.1 L184.2,227.3 L185.0,227.6 L185.8,227.8 L186.6,228.1 L187.5,228.2 L188.3,228.4 L189.1,228.5 L189.9,228.7 L190.7,228.8 L191.6,228.8 L192.4,228.9 L193.2,229.0 L194.0,229.0 L194.9,229.1 L195.7,229.1 L196.5,229.2" fill="none" stroke="#1818c8" stroke-width="1.3" stroke-linejoin="round"/>
<path d="M123.3,243.8 L124.1,243.4 L124.9,243.0 L125.8,242.6 L126.6,242.2 L127.4,241.8 L128.2,241.4 L129.1,241.0 L129.9,240.6 L130.7,240.2 L131.5,239.8 L132.3,239.4 L133.2,239.0 L134.0,238.6 L134.8,238.4 L135.6,238.2 L136.5,238.0 L137.3,238.0 L138.1,238.1 L138.9,238.3 L139.7,238.7 L140.6,239.1 L141.4,239.6 L142.2,240.2 L143.0,240.8 L143.9,241.5 L144.7,242.3 L145.5,243.0 L146.3,243.7 L147.2,244.4 L148.0,244.9 L148.8,245.4 L149.6,245.6 L150.4,245.7 L151.3,245.7 L152.1,245.4 L152.9,245.1 L153.7,244.6 L154.6,244.0 L155.4,243.4 L156.2,242.7 L157.0,242.0 L157.8,241.4 L158.7,240.8 L159.5,240.2 L160.3,239.7 L161.1,239.2 L162.0,238.8 L162.8,238.3 L163.6,237.9 L164.4,237.5 L165.2,237.2 L166.1,236.8 L166.9,236.4 L167.7,236.1 L168.5,235.7 L169.4,235.4 L170.2,235.1 L171.0,234.9 L171.8,234.7 L172.6,234.6 L173.5,234.5 L174.3,234.4 L175.1,234.5 L175.9,234.6 L176.8,234.8 L177.6,235.0 L178.4,235.4 L179.2,235.8 L180.1,236.3 L180.9,236.8 L181.7,237.4 L182.5,237.9 L183.3,238.5 L184.2,239.0 L185.0,239.5 L185.8,240.0 L186.6,240.5 L187.5,240.9 L188.3,241.3 L189.1,241.7 L189.9,242.0 L190.7,242.4 L191.6,242.7 L192.4,242.9 L193.2,243.2 L194.0,243.4 L194.9,243.6 L195.7,243.8 L196.5,244.0" fill="none" stroke="#1818c8" stroke-width="1.3" stroke-linejoin="round"/>
<path d="M123.3,314.9 L124.1,313.3 L124.9,311.8 L125.8,310.2 L126.6,308.7 L127.4,307.1 L128.2,305.6 L129.1,304.0 L129.9,302.5 L130.7,300.9 L131.5,299.4 L132.3,297.9 L133.2,296.4 L134.0,294.9 L134.8,293.5 L135.6,292.1 L136.5,290.7 L137.3,289.4 L138.1,288.1 L138.9,286.9 L139.7,285.8 L140.6,284.7 L141.4,283.7 L142.2,282.8 L143.0,281.9 L143.9,281.1 L144.7,280.4 L145.5,279.7 L146.3,279.1 L147.2,278.6 L148.0,278.1 L148.8,277.8 L149.6,277.5 L150.4,277.3 L151.3,277.1 L152.1,277.1 L152.9,277.1 L153.7,277.1 L154.6,277.2 L155.4,277.2 L156.2,277.4 L157.0,277.5 L157.8,277.6 L158.7,277.7 L159.5,277.7 L160.3,277.8 L161.1,277.9 L162.0,277.9 L162.8,278.0 L163.6,278.1 L164.4,278.2 L165.2,278.3 L166.1,278.5 L166.9,278.7 L167.7,278.9 L168.5,279.2 L169.4,279.6 L170.2,280.0 L171.0,280.4 L171.8,281.0 L172.6,281.6 L173.5,282.4 L174.3,283.2 L175.1,284.1 L175.9,285.1 L176.8,286.2 L177.6,287.3 L178.4,288.5 L179.2,289.7 L180.1,290.9 L180.9,292.2 L181.7,293.4 L182.5,294.7 L183.3,296.0 L184.2,297.2 L185.0,298.5 L185.8,299.7 L186.6,300.9 L187.5,302.2 L188.3,303.4 L189.1,304.6 L189.9,305.8 L190.7,306.9 L191.6,308.1 L192.4,309.3 L193.2,310.4 L194.0,311.5 L194.9,312.6 L195.7,313.8 L196.5,314.9" fill="none" stroke="#1818c8" stroke-width="1.3" stroke-linejoin="round"/>
<path d="M123.3,314.9 L124.1,313.6 L124.9,312.4 L125.8,311.1 L126.6,309.9 L127.4,308.7 L128.2,307.4 L129.1,306.2 L129.9,305.0 L130.7,303.7 L131.5,302.5 L132.3,301.3 L133.2,300.1 L134.0,299.0 L134.8,297.8 L135.6,296.7 L136.5,295.6 L137.3,294.5 L138.1,293.5 L138.9,292.5 L139.7,291.5 L140.6,290.6 L141.4,289.7 L142.2,288.9 L143.0,288.1 L143.9,287.4 L144.7,286.7 L145.5,286.1 L146.3,285.5 L147.2,285.0 L148.0,284.6 L148.8,284.2 L149.6,283.9 L150.4,283.6 L151.3,283.3 L152.1,283.1 L152.9,282.9 L153.7,282.6 L154.6,282.4 L155.4,282.2 L156.2,281.9 L157.0,281.6 L157.8,281.3 L158.7,280.9 L159.5,280.5 L160.3,280.1 L161.1,279.7 L162.0,279.3 L162.8,278.9 L163.6,278.7 L164.4,278.5 L165.2,278.4 L166.1,278.4 L166.9,278.6 L167.7,278.9 L168.5,279.3 L169.4,279.8 L170.2,280.4 L171.0,281.0 L171.8,281.8 L172.6,282.6 L173.5,283.5 L174.3,284.4 L175.1,285.4 L175.9,286.4 L176.8,287.5 L177.6,288.6 L178.4,289.8 L179.2,290.9 L180.1,292.1 L180.9,293.3 L181.7,294.5 L182.5,295.7 L183.3,296.9 L184.2,298.1 L185.0,299.3 L185.8,300.5 L186.6,301.7 L187.5,302.9 L188.3,304.1 L189.1,305.2 L189.9,306.4 L190.7,307.5 L191.6,308.6 L192.4,309.6 L193.2,310.7 L194.0,311.8 L194.9,312.8 L195.7,313.9 L196.5,314.9" fill="none" stroke="#1818c8" stroke-width="1.3" stroke-linejoin="round"/>
<path d="M123.3,314.9 L124.1,314.0 L124.9,313.1 L125.8,312.2 L126.6,311.3 L127.4,310.4 L128.2,309.5 L129.1,308.6 L129.9,307.7 L130.7,306.7 L131.5,305.8 L132.3,304.9 L133.2,304.0 L134.0,303.1 L134.8,302.2 L135.6,301.3 L136.5,300.5 L137.3,299.6 L138.1,298.8 L138.9,298.0 L139.7,297.3 L140.6,296.6 L141.4,295.9 L142.2,295.3 L143.0,294.7 L143.9,294.1 L144.7,293.6 L145.5,293.1 L146.3,292.7 L147.2,292.3 L148.0,292.0 L148.8,291.7 L149.6,291.5 L150.4,291.3 L151.3,291.1 L152.1,291.0 L152.9,290.9 L153.7,290.9 L154.6,290.9 L155.4,290.8 L156.2,290.8 L157.0,290.8 L157.8,290.7 L158.7,290.6 L159.5,290.5 L160.3,290.4 L161.1,290.3 L162.0,290.2 L162.8,290.1 L163.6,290.1 L164.4,290.0 L165.2,290.1 L166.1,290.1 L166.9,290.2 L167.7,290.4 L168.5,290.6 L169.4,290.8 L170.2,291.2 L171.0,291.5 L171.8,291.9 L172.6,292.4 L173.5,292.9 L174.3,293.4 L175.1,294.0 L175.9,294.6 L176.8,295.3 L177.6,296.0 L178.4,296.7 L179.2,297.5 L180.1,298.3 L180.9,299.1 L181.7,299.9 L182.5,300.7 L183.3,301.6 L184.2,302.4 L185.0,303.3 L185.8,304.1 L186.6,305.0 L187.5,305.9 L188.3,306.7 L189.1,307.6 L189.9,308.4 L190.7,309.3 L191.6,310.1 L192.4,310.9 L193.2,311.7 L194.0,312.5 L194.9,313.3 L195.7,314.1 L196.5,314.9" fill="none" stroke="#1818c8" stroke-width="1.3" stroke-linejoin="round"/>
<rect x="123.30" y="198.20" width="73.20" height="127.30" stroke="#000" stroke-width="1.3" fill="none"/>
<line x1="123.30" y1="314.89" x2="126.10" y2="314.89" stroke="#000" stroke-width="1.2"/>
<line x1="193.70" y1="314.89" x2="196.50" y2="314.89" stroke="#000" stroke-width="1.2"/>
<text transform="translate(119.50,318.29) scale(0.85,1)" font-family="'Liberation Serif', 'Times New Roman', serif" font-size="9.5" font-weight="bold" text-anchor="end" fill="#000" stroke="#000" stroke-width="0.1">0</text>
<line x1="123.30" y1="293.68" x2="126.10" y2="293.68" stroke="#000" stroke-width="1.2"/>
<line x1="193.70" y1="293.68" x2="196.50" y2="293.68" stroke="#000" stroke-width="1.2"/>
<text transform="translate(119.50,297.07) scale(0.85,1)" font-family="'Liberation Serif', 'Times New Roman', serif" font-size="9.5" font-weight="bold" text-anchor="end" fill="#000" stroke="#000" stroke-width="0.1">10</text>
<line x1="123.30" y1="272.46" x2="126.10" y2="272.46" stroke="#000" stroke-width="1.2"/>
<line x1="193.70" y1="272.46" x2="196.50" y2="272.46" stroke="#000" stroke-width="1.2"/>
<text transform="translate(119.50,275.86) scale(0.85,1)" font-family="'Liberation Serif', 'Times New Roman', serif" font-size="9.5" font-weight="bold" text-anchor="end" fill="#000" stroke="#000" stroke-width="0.1">20</text>
<line x1="123.30" y1="251.24" x2="126.10" y2="251.24" stroke="#000" stroke-width="1.2"/>
<line x1="193.70" y1="251.24" x2="196.50" y2="251.24" stroke="#000" stroke-width="1.2"/>
<text transform="translate(119.50,254.64) scale(0.85,1)" font-family="'Liberation Serif', 'Times New Roman', serif" font-size="9.5" font-weight="bold" text-anchor="end" fill="#000" stroke="#000" stroke-width="0.1">30</text>
<line x1="123.30" y1="230.02" x2="126.10" y2="230.02" stroke="#000" stroke-width="1.2"/>
<line x1="193.70" y1="230.02" x2="196.50" y2="230.02" stroke="#000" stroke-width="1.2"/>
<text transform="translate(119.50,233.42) scale(0.85,1)" font-family="'Liberation Serif', 'Times New Roman', serif" font-size="9.5" font-weight="bold" text-anchor="end" fill="#000" stroke="#000" stroke-width="0.1">40</text>
<line x1="123.30" y1="208.81" x2="126.10" y2="208.81" stroke="#000" stroke-width="1.2"/>
<line x1="193.70" y1="208.81" x2="196.50" y2="208.81" stroke="#000" stroke-width="1.2"/>
<text transform="translate(119.50,212.21) scale(0.85,1)" font-family="'Liberation Serif', 'Times New Roman', serif" font-size="9.5" font-weight="bold" text-anchor="end" fill="#000" stroke="#000" stroke-width="0.1">50</text>
<text transform="translate(124.30,334.80) scale(0.95,1)" font-family="'Liberation Serif', 'Times New Roman', serif" font-size="9.0" font-weight="normal" text-anchor="middle" fill="#000" stroke="#000" stroke-width="0.15">Γ</text>
<text transform="translate(148.49,334.80) scale(0.95,1)" font-family="'Liberation Serif', 'Times New Roman', serif" font-size="9.0" font-weight="normal" text-anchor="middle" fill="#000" stroke="#000" stroke-width="0.15">M</text>
<text transform="translate(167.05,334.80) scale(0.95,1)" font-family="'Liberation Serif', 'Times New Roman', serif" font-size="9.0" font-weight="normal" text-anchor="middle" fill="#000" stroke="#000" stroke-width="0.15">K</text>
<text transform="translate(194.20,334.80) scale(0.95,1)" font-family="'Liberation Serif', 'Times New Roman', serif" font-size="9.0" font-weight="normal" text-anchor="middle" fill="#000" stroke="#000" stroke-width="0.15">Γ</text>
<text transform="translate(107.30,256.55) rotate(-90)" font-family="'Liberation Serif', 'Times New Roman', serif" font-size="11.2" font-weight="bold" text-anchor="middle" fill="#000">Frequency (THz)</text>
<text transform="translate(131.80,208.60) scale(0.95,1)" font-family="'Liberation Serif', 'Times New Roman', serif" font-size="9.6" font-weight="bold" text-anchor="start" fill="#000" stroke="#000" stroke-width="0.3">(c)</text>
<text transform="translate(154.50,257.40) scale(0.88,1)" font-family="'Liberation Serif', 'Times New Roman', serif" font-size="9.6" font-weight="bold" text-anchor="start" fill="#000" stroke="#000" stroke-width="0.25">2D PtO2</text>
<line x1="263.23" y1="44.50" x2="263.23" y2="175.70" stroke="#333" stroke-width="0.9" stroke-dasharray="2.4,2.6"/>
<line x1="278.95" y1="44.50" x2="278.95" y2="175.70" stroke="#333" stroke-width="0.9" stroke-dasharray="2.4,2.6"/>
<line x1="236.00" y1="165.61" x2="310.40" y2="165.61" stroke="#333" stroke-width="0.9" stroke-dasharray="2.4,2.6"/>
<rect x="278.40" y="45.10" width="11.58" height="8.74" fill="#fff"/>
<path d="M236.0,53.6 L236.8,53.7 L237.7,53.9 L238.5,54.1 L239.3,54.2 L240.2,54.4 L241.0,54.7 L241.9,54.9 L242.7,55.2 L243.5,55.5 L244.4,55.9 L245.2,56.3 L246.0,56.8 L246.9,57.4 L247.7,57.9 L248.5,58.5 L249.4,59.1 L250.2,59.7 L251.0,60.3 L251.9,60.9 L252.7,61.5 L253.6,62.0 L254.4,62.5 L255.2,63.0 L256.1,63.5 L256.9,63.8 L257.7,64.2 L258.6,64.5 L259.4,64.8 L260.2,65.1 L261.1,65.3 L261.9,65.6 L262.8,65.8 L263.6,66.0 L264.4,66.2 L265.3,66.4 L266.1,66.5 L266.9,66.7 L267.8,66.8 L268.6,67.0 L269.4,67.1 L270.3,67.2 L271.1,67.3 L271.9,67.3 L272.8,67.4 L273.6,67.4 L274.5,67.4 L275.3,67.4 L276.1,67.4 L277.0,67.3 L277.8,67.2 L278.6,67.1 L279.5,67.0 L280.3,66.9 L281.1,66.7 L282.0,66.5 L282.8,66.3 L283.6,66.0 L284.5,65.8 L285.3,65.5 L286.2,65.1 L287.0,64.8 L287.8,64.4 L288.7,64.0 L289.5,63.5 L290.3,63.0 L291.2,62.5 L292.0,62.0 L292.8,61.5 L293.7,60.9 L294.5,60.4 L295.4,59.8 L296.2,59.3 L297.0,58.7 L297.9,58.2 L298.7,57.7 L299.5,57.3 L300.4,56.8 L301.2,56.4 L302.0,56.1 L302.9,55.7 L303.7,55.4 L304.5,55.1 L305.4,54.9 L306.2,54.6 L307.1,54.4 L307.9,54.2 L308.7,54.0 L309.6,53.8 L310.4,53.6" fill="none" stroke="#1818c8" stroke-width="1.3" stroke-linejoin="round"/>
<path d="M236.0,53.6 L236.8,53.7 L237.7,53.9 L238.5,54.1 L239.3,54.3 L240.2,54.5 L241.0,54.8 L241.9,55.0 L242.7,55.4 L243.5,55.7 L244.4,56.1 L245.2,56.6 L246.0,57.1 L246.9,57.6 L247.7,58.2 L248.5,58.8 L249.4,59.4 L250.2,60.1 L251.0,60.7 L251.9,61.4 L252.7,62.0 L253.6,62.6 L254.4,63.1 L255.2,63.7 L256.1,64.1 L256.9,64.6 L257.7,65.0 L258.6,65.4 L259.4,65.8 L260.2,66.1 L261.1,66.5 L261.9,66.8 L262.8,67.1 L263.6,67.4 L264.4,67.8 L265.3,68.1 L266.1,68.4 L266.9,68.7 L267.8,69.1 L268.6,69.3 L269.4,69.6 L270.3,69.9 L271.1,70.1 L271.9,70.3 L272.8,70.5 L273.6,70.6 L274.5,70.7 L275.3,70.8 L276.1,70.8 L277.0,70.8 L277.8,70.7 L278.6,70.6 L279.5,70.4 L280.3,70.2 L281.1,69.9 L282.0,69.6 L282.8,69.2 L283.6,68.8 L284.5,68.3 L285.3,67.8 L286.2,67.3 L287.0,66.7 L287.8,66.1 L288.7,65.6 L289.5,64.9 L290.3,64.3 L291.2,63.7 L292.0,63.0 L292.8,62.4 L293.7,61.7 L294.5,61.1 L295.4,60.5 L296.2,59.9 L297.0,59.3 L297.9,58.7 L298.7,58.2 L299.5,57.7 L300.4,57.2 L301.2,56.8 L302.0,56.4 L302.9,56.0 L303.7,55.7 L304.5,55.4 L305.4,55.1 L306.2,54.8 L307.1,54.5 L307.9,54.3 L308.7,54.0 L309.6,53.8 L310.4,53.6" fill="none" stroke="#1818c8" stroke-width="1.3" stroke-linejoin="round"/>
<path d="M236.0,69.1 L236.8,69.2 L237.7,69.3 L238.5,69.4 L239.3,69.5 L240.2,69.6 L241.0,69.8 L241.9,69.9 L242.7,70.1 L243.5,70.3 L244.4,70.6 L245.2,70.8 L246.0,71.1 L246.9,71.5 L247.7,71.8 L248.5,72.2 L249.4,72.6 L250.2,72.9 L251.0,73.3 L251.9,73.6 L252.7,73.9 L253.6,74.1 L254.4,74.3 L255.2,74.5 L256.1,74.6 L256.9,74.7 L257.7,74.7 L258.6,74.7 L259.4,74.7 L260.2,74.7 L261.1,74.7 L261.9,74.7 L262.8,74.7 L263.6,74.8 L264.4,74.9 L265.3,75.0 L266.1,75.2 L266.9,75.4 L267.8,75.6 L268.6,75.8 L269.4,76.0 L270.3,76.2 L271.1,76.4 L271.9,76.6 L272.8,76.8 L273.6,77.0 L274.5,77.2 L275.3,77.3 L276.1,77.5 L277.0,77.6 L277.8,77.6 L278.6,77.6 L279.5,77.6 L280.3,77.5 L281.1,77.4 L282.0,77.2 L282.8,77.0 L283.6,76.8 L284.5,76.5 L285.3,76.3 L286.2,76.0 L287.0,75.7 L287.8,75.3 L288.7,75.0 L289.5,74.7 L290.3,74.3 L291.2,74.0 L292.0,73.7 L292.8,73.4 L293.7,73.1 L294.5,72.8 L295.4,72.5 L296.2,72.2 L297.0,71.9 L297.9,71.7 L298.7,71.4 L299.5,71.2 L300.4,70.9 L301.2,70.7 L302.0,70.5 L302.9,70.4 L303.7,70.2 L304.5,70.0 L305.4,69.9 L306.2,69.7 L307.1,69.6 L307.9,69.5 L308.7,69.4 L309.6,69.2 L310.4,69.1" fill="none" stroke="#1818c8" stroke-width="1.3" stroke-linejoin="round"/>
<path d="M236.0,83.9 L236.8,83.5 L237.7,83.1 L238.5,82.7 L239.3,82.4 L240.2,82.0 L241.0,81.7 L241.9,81.3 L242.7,81.0 L243.5,80.7 L244.4,80.4 L245.2,80.1 L246.0,79.9 L246.9,79.7 L247.7,79.5 L248.5,79.3 L249.4,79.1 L250.2,79.0 L251.0,78.8 L251.9,78.7 L252.7,78.6 L253.6,78.5 L254.4,78.4 L255.2,78.4 L256.1,78.3 L256.9,78.2 L257.7,78.2 L258.6,78.2 L259.4,78.1 L260.2,78.1 L261.1,78.1 L261.9,78.0 L262.8,78.0 L263.6,78.0 L264.4,78.0 L265.3,77.9 L266.1,77.9 L266.9,77.9 L267.8,77.8 L268.6,77.8 L269.4,77.8 L270.3,77.8 L271.1,77.7 L271.9,77.7 L272.8,77.7 L273.6,77.7 L274.5,77.8 L275.3,77.8 L276.1,77.8 L277.0,77.9 L277.8,77.9 L278.6,78.0 L279.5,78.1 L280.3,78.2 L281.1,78.3 L282.0,78.4 L282.8,78.5 L283.6,78.7 L284.5,78.8 L285.3,79.0 L286.2,79.1 L287.0,79.3 L287.8,79.5 L288.7,79.7 L289.5,79.8 L290.3,80.0 L291.2,80.2 L292.0,80.4 L292.8,80.6 L293.7,80.8 L294.5,80.9 L295.4,81.1 L296.2,81.3 L297.0,81.4 L297.9,81.6 L298.7,81.8 L299.5,81.9 L300.4,82.1 L301.2,82.2 L302.0,82.4 L302.9,82.6 L303.7,82.7 L304.5,82.8 L305.4,83.0 L306.2,83.1 L307.1,83.3 L307.9,83.4 L308.7,83.6 L309.6,83.7 L310.4,83.9" fill="none" stroke="#1818c8" stroke-width="1.3" stroke-linejoin="round"/>
<path d="M236.0,83.9 L236.8,83.7 L237.7,83.6 L238.5,83.5 L239.3,83.4 L240.2,83.3 L241.0,83.2 L241.9,83.1 L242.7,83.0 L243.5,82.9 L244.4,82.9 L245.2,82.8 L246.0,82.8 L246.9,82.8 L247.7,82.8 L248.5,82.9 L249.4,82.9 L250.2,83.0 L251.0,83.1 L251.9,83.2 L252.7,83.3 L253.6,83.5 L254.4,83.6 L255.2,83.8 L256.1,84.0 L256.9,84.2 L257.7,84.4 L258.6,84.5 L259.4,84.7 L260.2,84.8 L261.1,84.9 L261.9,84.9 L262.8,84.9 L263.6,84.8 L264.4,84.7 L265.3,84.4 L266.1,84.2 L266.9,83.8 L267.8,83.5 L268.6,83.1 L269.4,82.7 L270.3,82.2 L271.1,81.8 L271.9,81.3 L272.8,80.8 L273.6,80.4 L274.5,80.0 L275.3,79.6 L276.1,79.2 L277.0,78.9 L277.8,78.7 L278.6,78.5 L279.5,78.3 L280.3,78.3 L281.1,78.3 L282.0,78.4 L282.8,78.5 L283.6,78.7 L284.5,78.9 L285.3,79.1 L286.2,79.4 L287.0,79.7 L287.8,80.0 L288.7,80.4 L289.5,80.7 L290.3,81.1 L291.2,81.4 L292.0,81.7 L292.8,82.0 L293.7,82.3 L294.5,82.6 L295.4,82.8 L296.2,83.0 L297.0,83.2 L297.9,83.4 L298.7,83.5 L299.5,83.6 L300.4,83.7 L301.2,83.8 L302.0,83.9 L302.9,83.9 L303.7,83.9 L304.5,84.0 L305.4,84.0 L306.2,84.0 L307.1,83.9 L307.9,83.9 L308.7,83.9 L309.6,83.9 L310.4,83.9" fill="none" stroke="#1818c8" stroke-width="1.3" stroke-linejoin="round"/>
<path d="M236.0,83.9 L236.8,84.2 L237.7,84.6 L238.5,84.9 L239.3,85.3 L240.2,85.6 L241.0,86.0 L241.9,86.3 L242.7,86.6 L243.5,86.9 L244.4,87.2 L245.2,87.5 L246.0,87.8 L246.9,88.0 L247.7,88.3 L248.5,88.5 L249.4,88.6 L250.2,88.8 L251.0,88.9 L251.9,89.0 L252.7,89.1 L253.6,89.1 L254.4,89.2 L255.2,89.2 L256.1,89.2 L256.9,89.2 L257.7,89.2 L258.6,89.2 L259.4,89.3 L260.2,89.3 L261.1,89.4 L261.9,89.5 L262.8,89.6 L263.6,89.8 L264.4,90.0 L265.3,90.2 L266.1,90.5 L266.9,90.8 L267.8,91.1 L268.6,91.4 L269.4,91.7 L270.3,92.1 L271.1,92.4 L271.9,92.7 L272.8,93.0 L273.6,93.3 L274.5,93.6 L275.3,93.8 L276.1,94.0 L277.0,94.2 L277.8,94.3 L278.6,94.3 L279.5,94.4 L280.3,94.3 L281.1,94.2 L282.0,94.1 L282.8,94.0 L283.6,93.8 L284.5,93.5 L285.3,93.3 L286.2,93.0 L287.0,92.7 L287.8,92.4 L288.7,92.1 L289.5,91.8 L290.3,91.4 L291.2,91.0 L292.0,90.7 L292.8,90.3 L293.7,89.9 L294.5,89.5 L295.4,89.1 L296.2,88.7 L297.0,88.3 L297.9,87.8 L298.7,87.4 L299.5,87.1 L300.4,86.7 L301.2,86.3 L302.0,86.0 L302.9,85.7 L303.7,85.4 L304.5,85.2 L305.4,84.9 L306.2,84.7 L307.1,84.5 L307.9,84.4 L308.7,84.2 L309.6,84.0 L310.4,83.9" fill="none" stroke="#1818c8" stroke-width="1.3" stroke-linejoin="round"/>
<path d="M236.0,103.0 L236.8,102.7 L237.7,102.3 L238.5,102.0 L239.3,101.6 L240.2,101.2 L241.0,100.8 L241.9,100.3 L242.7,99.9 L243.5,99.4 L244.4,98.8 L245.2,98.3 L246.0,97.8 L246.9,97.3 L247.7,96.9 L248.5,96.7 L249.4,96.5 L250.2,96.6 L251.0,96.8 L251.9,97.2 L252.7,97.7 L253.6,98.3 L254.4,99.0 L255.2,99.7 L256.1,100.4 L256.9,101.1 L257.7,101.7 L258.6,102.3 L259.4,102.8 L260.2,103.2 L261.1,103.5 L261.9,103.6 L262.8,103.7 L263.6,103.6 L264.4,103.4 L265.3,103.0 L266.1,102.5 L266.9,102.0 L267.8,101.4 L268.6,100.8 L269.4,100.2 L270.3,99.5 L271.1,98.9 L271.9,98.3 L272.8,97.8 L273.6,97.2 L274.5,96.8 L275.3,96.3 L276.1,95.8 L277.0,95.4 L277.8,95.0 L278.6,94.5 L279.5,94.1 L280.3,93.7 L281.1,93.3 L282.0,92.9 L282.8,92.6 L283.6,92.3 L284.5,92.2 L285.3,92.1 L286.2,92.2 L287.0,92.4 L287.8,92.6 L288.7,92.9 L289.5,93.3 L290.3,93.7 L291.2,94.2 L292.0,94.7 L292.8,95.2 L293.7,95.7 L294.5,96.2 L295.4,96.7 L296.2,97.2 L297.0,97.7 L297.9,98.1 L298.7,98.6 L299.5,99.1 L300.4,99.5 L301.2,99.9 L302.0,100.3 L302.9,100.6 L303.7,100.9 L304.5,101.2 L305.4,101.5 L306.2,101.8 L307.1,102.1 L307.9,102.3 L308.7,102.6 L309.6,102.8 L310.4,103.0" fill="none" stroke="#1818c8" stroke-width="1.3" stroke-linejoin="round"/>
<path d="M236.0,165.6 L236.8,162.9 L237.7,160.1 L238.5,157.4 L239.3,154.6 L240.2,151.9 L241.0,149.2 L241.9,146.4 L242.7,143.6 L243.5,140.9 L244.4,138.2 L245.2,135.6 L246.0,133.1 L246.9,130.8 L247.7,128.6 L248.5,126.6 L249.4,124.8 L250.2,123.1 L251.0,121.6 L251.9,120.2 L252.7,118.8 L253.6,117.6 L254.4,116.4 L255.2,115.2 L256.1,114.1 L256.9,113.0 L257.7,112.1 L258.6,111.2 L259.4,110.4 L260.2,109.7 L261.1,109.2 L261.9,108.7 L262.8,108.4 L263.6,108.2 L264.4,108.1 L265.3,108.1 L266.1,108.2 L266.9,108.4 L267.8,108.6 L268.6,108.9 L269.4,109.2 L270.3,109.5 L271.1,109.7 L271.9,110.0 L272.8,110.3 L273.6,110.5 L274.5,110.8 L275.3,111.0 L276.1,111.2 L277.0,111.4 L277.8,111.5 L278.6,111.7 L279.5,111.8 L280.3,111.9 L281.1,112.0 L282.0,112.2 L282.8,112.3 L283.6,112.5 L284.5,112.7 L285.3,113.0 L286.2,113.3 L287.0,113.7 L287.8,114.1 L288.7,114.7 L289.5,115.3 L290.3,116.0 L291.2,116.9 L292.0,117.9 L292.8,118.9 L293.7,120.1 L294.5,121.4 L295.4,122.7 L296.2,124.1 L297.0,125.5 L297.9,126.9 L298.7,128.4 L299.5,130.0 L300.4,131.7 L301.2,133.5 L302.0,135.5 L302.9,137.7 L303.7,140.1 L304.5,142.8 L305.4,145.6 L306.2,148.6 L307.1,151.8 L307.9,155.1 L308.7,158.5 L309.6,162.1 L310.4,165.6" fill="none" stroke="#1818c8" stroke-width="1.3" stroke-linejoin="round"/>
<path d="M236.0,165.6 L236.8,163.1 L237.7,160.5 L238.5,158.1 L239.3,155.8 L240.2,153.7 L241.0,151.8 L241.9,150.0 L242.7,148.5 L243.5,147.1 L244.4,145.8 L245.2,144.5 L246.0,143.2 L246.9,141.9 L247.7,140.6 L248.5,139.4 L249.4,138.2 L250.2,137.1 L251.0,136.1 L251.9,135.3 L252.7,134.5 L253.6,133.8 L254.4,133.2 L255.2,132.7 L256.1,132.3 L256.9,132.0 L257.7,131.8 L258.6,131.6 L259.4,131.5 L260.2,131.4 L261.1,131.2 L261.9,131.1 L262.8,130.9 L263.6,130.5 L264.4,130.1 L265.3,129.7 L266.1,129.1 L266.9,128.4 L267.8,127.7 L268.6,127.0 L269.4,126.2 L270.3,125.3 L271.1,124.5 L271.9,123.6 L272.8,122.7 L273.6,121.9 L274.5,121.1 L275.3,120.4 L276.1,119.8 L277.0,119.3 L277.8,119.0 L278.6,118.8 L279.5,118.8 L280.3,119.0 L281.1,119.4 L282.0,120.0 L282.8,120.7 L283.6,121.4 L284.5,122.3 L285.3,123.3 L286.2,124.3 L287.0,125.3 L287.8,126.3 L288.7,127.4 L289.5,128.5 L290.3,129.7 L291.2,130.8 L292.0,132.0 L292.8,133.3 L293.7,134.5 L294.5,135.8 L295.4,137.2 L296.2,138.5 L297.0,139.9 L297.9,141.3 L298.7,142.8 L299.5,144.3 L300.4,145.8 L301.2,147.3 L302.0,148.9 L302.9,150.5 L303.7,152.1 L304.5,153.8 L305.4,155.4 L306.2,157.1 L307.1,158.8 L307.9,160.5 L308.7,162.2 L309.6,163.9 L310.4,165.6" fill="none" stroke="#1818c8" stroke-width="1.3" stroke-linejoin="round"/>
<path d="M236.0,165.6 L236.8,163.2 L237.7,160.8 L238.5,158.5 L239.3,156.3 L240.2,154.2 L241.0,152.4 L241.9,150.8 L242.7,149.3 L243.5,147.9 L244.4,146.7 L245.2,145.5 L246.0,144.3 L246.9,143.1 L247.7,142.0 L248.5,140.9 L249.4,139.9 L250.2,138.9 L251.0,138.0 L251.9,137.1 L252.7,136.4 L253.6,135.7 L254.4,135.0 L255.2,134.5 L256.1,134.0 L256.9,133.5 L257.7,133.2 L258.6,132.8 L259.4,132.6 L260.2,132.3 L261.1,132.1 L261.9,131.9 L262.8,131.8 L263.6,131.6 L264.4,131.5 L265.3,131.4 L266.1,131.2 L266.9,131.1 L267.8,131.0 L268.6,130.9 L269.4,130.8 L270.3,130.8 L271.1,130.7 L271.9,130.6 L272.8,130.6 L273.6,130.5 L274.5,130.5 L275.3,130.5 L276.1,130.5 L277.0,130.6 L277.8,130.7 L278.6,130.8 L279.5,131.0 L280.3,131.2 L281.1,131.5 L282.0,131.8 L282.8,132.1 L283.6,132.4 L284.5,132.8 L285.3,133.2 L286.2,133.6 L287.0,134.0 L287.8,134.4 L288.7,134.8 L289.5,135.3 L290.3,135.8 L291.2,136.4 L292.0,137.1 L292.8,137.8 L293.7,138.6 L294.5,139.5 L295.4,140.6 L296.2,141.7 L297.0,142.9 L297.9,144.3 L298.7,145.7 L299.5,147.2 L300.4,148.8 L301.2,150.3 L302.0,151.9 L302.9,153.5 L303.7,155.0 L304.5,156.5 L305.4,157.9 L306.2,159.3 L307.1,160.6 L307.9,161.9 L308.7,163.1 L309.6,164.4 L310.4,165.6" fill="none" stroke="#1818c8" stroke-width="1.3" stroke-linejoin="round"/>
<path d="M236.0,165.6 L236.8,163.7 L237.7,161.8 L238.5,160.0 L239.3,158.2 L240.2,156.5 L241.0,154.9 L241.9,153.4 L242.7,152.0 L243.5,150.7 L244.4,149.5 L245.2,148.3 L246.0,147.2 L246.9,146.1 L247.7,145.0 L248.5,144.1 L249.4,143.1 L250.2,142.3 L251.0,141.4 L251.9,140.7 L252.7,139.9 L253.6,139.3 L254.4,138.7 L255.2,138.2 L256.1,137.8 L256.9,137.4 L257.7,137.1 L258.6,136.9 L259.4,136.7 L260.2,136.6 L261.1,136.5 L261.9,136.3 L262.8,136.2 L263.6,136.1 L264.4,135.9 L265.3,135.7 L266.1,135.5 L266.9,135.2 L267.8,134.9 L268.6,134.6 L269.4,134.3 L270.3,134.0 L271.1,133.7 L271.9,133.3 L272.8,133.0 L273.6,132.7 L274.5,132.4 L275.3,132.1 L276.1,131.9 L277.0,131.8 L277.8,131.8 L278.6,131.8 L279.5,132.0 L280.3,132.3 L281.1,132.7 L282.0,133.1 L282.8,133.6 L283.6,134.1 L284.5,134.6 L285.3,135.1 L286.2,135.6 L287.0,136.0 L287.8,136.5 L288.7,136.9 L289.5,137.3 L290.3,137.8 L291.2,138.3 L292.0,138.8 L292.8,139.4 L293.7,140.1 L294.5,140.9 L295.4,141.9 L296.2,142.9 L297.0,144.1 L297.9,145.4 L298.7,146.8 L299.5,148.2 L300.4,149.8 L301.2,151.3 L302.0,152.8 L302.9,154.4 L303.7,155.9 L304.5,157.3 L305.4,158.6 L306.2,159.9 L307.1,161.1 L307.9,162.3 L308.7,163.4 L309.6,164.5 L310.4,165.6" fill="none" stroke="#1818c8" stroke-width="1.3" stroke-linejoin="round"/>
<path d="M236.0,165.6 L236.8,164.2 L237.7,162.8 L238.5,161.4 L239.3,160.2 L240.2,159.0 L241.0,157.9 L241.9,157.0 L242.7,156.2 L243.5,155.4 L244.4,154.7 L245.2,153.9 L246.0,153.2 L246.9,152.4 L247.7,151.6 L248.5,150.8 L249.4,150.1 L250.2,149.4 L251.0,148.7 L251.9,148.2 L252.7,147.7 L253.6,147.2 L254.4,146.8 L255.2,146.5 L256.1,146.2 L256.9,145.9 L257.7,145.6 L258.6,145.4 L259.4,145.2 L260.2,145.0 L261.1,144.8 L261.9,144.6 L262.8,144.5 L263.6,144.4 L264.4,144.3 L265.3,144.2 L266.1,144.1 L266.9,144.0 L267.8,143.9 L268.6,143.8 L269.4,143.8 L270.3,143.7 L271.1,143.6 L271.9,143.5 L272.8,143.4 L273.6,143.3 L274.5,143.2 L275.3,143.1 L276.1,143.0 L277.0,143.0 L277.8,142.9 L278.6,143.0 L279.5,143.1 L280.3,143.2 L281.1,143.3 L282.0,143.5 L282.8,143.7 L283.6,144.0 L284.5,144.2 L285.3,144.4 L286.2,144.6 L287.0,144.8 L287.8,145.0 L288.7,145.2 L289.5,145.5 L290.3,145.7 L291.2,146.0 L292.0,146.3 L292.8,146.6 L293.7,147.0 L294.5,147.5 L295.4,148.1 L296.2,148.7 L297.0,149.4 L297.9,150.3 L298.7,151.1 L299.5,152.1 L300.4,153.1 L301.2,154.1 L302.0,155.1 L302.9,156.2 L303.7,157.3 L304.5,158.4 L305.4,159.4 L306.2,160.5 L307.1,161.5 L307.9,162.5 L308.7,163.6 L309.6,164.6 L310.4,165.6" fill="none" stroke="#1818c8" stroke-width="1.3" stroke-linejoin="round"/>
<rect x="236.00" y="44.50" width="74.40" height="131.20" stroke="#000" stroke-width="1.3" fill="none"/>
<line x1="236.00" y1="165.61" x2="238.80" y2="165.61" stroke="#000" stroke-width="1.2"/>
<line x1="307.60" y1="165.61" x2="310.40" y2="165.61" stroke="#000" stroke-width="1.2"/>
<text transform="translate(232.20,169.01) scale(0.82,1)" font-family="'Liberation Serif', 'Times New Roman', serif" font-size="9.4" font-weight="bold" text-anchor="end" fill="#000" stroke="#000" stroke-width="0.1">0</text>
<line x1="236.00" y1="145.42" x2="238.80" y2="145.42" stroke="#000" stroke-width="1.2"/>
<line x1="307.60" y1="145.42" x2="310.40" y2="145.42" stroke="#000" stroke-width="1.2"/>
<text transform="translate(232.20,148.82) scale(0.82,1)" font-family="'Liberation Serif', 'Times New Roman', serif" font-size="9.4" font-weight="bold" text-anchor="end" fill="#000" stroke="#000" stroke-width="0.1">10</text>
<line x1="236.00" y1="125.24" x2="238.80" y2="125.24" stroke="#000" stroke-width="1.2"/>
<line x1="307.60" y1="125.24" x2="310.40" y2="125.24" stroke="#000" stroke-width="1.2"/>
<text transform="translate(232.20,128.64) scale(0.82,1)" font-family="'Liberation Serif', 'Times New Roman', serif" font-size="9.4" font-weight="bold" text-anchor="end" fill="#000" stroke="#000" stroke-width="0.1">20</text>
<line x1="236.00" y1="105.05" x2="238.80" y2="105.05" stroke="#000" stroke-width="1.2"/>
<line x1="307.60" y1="105.05" x2="310.40" y2="105.05" stroke="#000" stroke-width="1.2"/>
<text transform="translate(232.20,108.45) scale(0.82,1)" font-family="'Liberation Serif', 'Times New Roman', serif" font-size="9.4" font-weight="bold" text-anchor="end" fill="#000" stroke="#000" stroke-width="0.1">30</text>
<line x1="236.00" y1="84.87" x2="238.80" y2="84.87" stroke="#000" stroke-width="1.2"/>
<line x1="307.60" y1="84.87" x2="310.40" y2="84.87" stroke="#000" stroke-width="1.2"/>
<text transform="translate(232.20,88.27) scale(0.82,1)" font-family="'Liberation Serif', 'Times New Roman', serif" font-size="9.4" font-weight="bold" text-anchor="end" fill="#000" stroke="#000" stroke-width="0.1">40</text>
<line x1="236.00" y1="64.68" x2="238.80" y2="64.68" stroke="#000" stroke-width="1.2"/>
<line x1="307.60" y1="64.68" x2="310.40" y2="64.68" stroke="#000" stroke-width="1.2"/>
<text transform="translate(232.20,68.08) scale(0.82,1)" font-family="'Liberation Serif', 'Times New Roman', serif" font-size="9.4" font-weight="bold" text-anchor="end" fill="#000" stroke="#000" stroke-width="0.1">50</text>
<text transform="translate(232.20,47.90) scale(0.82,1)" font-family="'Liberation Serif', 'Times New Roman', serif" font-size="9.4" font-weight="bold" text-anchor="end" fill="#000" stroke="#000" stroke-width="0.1">60</text>
<text transform="translate(237.00,185.00) scale(0.95,1)" font-family="'Liberation Serif', 'Times New Roman', serif" font-size="9.0" font-weight="normal" text-anchor="middle" fill="#000" stroke="#000" stroke-width="0.15">Γ</text>
<text transform="translate(261.63,185.00) scale(0.95,1)" font-family="'Liberation Serif', 'Times New Roman', serif" font-size="9.0" font-weight="normal" text-anchor="middle" fill="#000" stroke="#000" stroke-width="0.15">M</text>
<text transform="translate(280.45,185.00) scale(0.95,1)" font-family="'Liberation Serif', 'Times New Roman', serif" font-size="9.0" font-weight="normal" text-anchor="middle" fill="#000" stroke="#000" stroke-width="0.15">K</text>
<text transform="translate(308.10,185.00) scale(0.95,1)" font-family="'Liberation Serif', 'Times New Roman', serif" font-size="9.0" font-weight="normal" text-anchor="middle" fill="#000" stroke="#000" stroke-width="0.15">Γ</text>
<text transform="translate(219.30,105.55) rotate(-90)" font-family="'Liberation Serif', 'Times New Roman', serif" font-size="11.2" font-weight="bold" text-anchor="middle" fill="#000">Frequency (THz)</text>
<text transform="translate(278.90,52.00) scale(0.95,1)" font-family="'Liberation Serif', 'Times New Roman', serif" font-size="9.2" font-weight="bold" text-anchor="start" fill="#000" stroke="#000" stroke-width="0.3">(d)</text>
<text transform="translate(280.00,108.80) scale(0.88,1)" font-family="'Liberation Serif', 'Times New Roman', serif" font-size="9.6" font-weight="bold" text-anchor="start" fill="#000" stroke="#000" stroke-width="0.25">HBL 1</text>
<line x1="367.22" y1="47.10" x2="367.22" y2="177.60" stroke="#333" stroke-width="0.9" stroke-dasharray="2.4,2.6"/>
<line x1="383.03" y1="47.10" x2="383.03" y2="177.60" stroke="#333" stroke-width="0.9" stroke-dasharray="2.4,2.6"/>
<line x1="339.80" y1="167.56" x2="414.70" y2="167.56" stroke="#333" stroke-width="0.9" stroke-dasharray="2.4,2.6"/>
<rect x="382.40" y="49.10" width="11.58" height="8.74" fill="#fff"/>
<path d="M339.8,56.1 L340.6,56.3 L341.5,56.4 L342.3,56.6 L343.2,56.8 L344.0,57.0 L344.8,57.2 L345.7,57.5 L346.5,57.8 L347.4,58.1 L348.2,58.5 L349.1,58.9 L349.9,59.4 L350.7,59.9 L351.6,60.4 L352.4,61.0 L353.3,61.6 L354.1,62.2 L354.9,62.8 L355.8,63.4 L356.6,64.0 L357.5,64.5 L358.3,65.0 L359.2,65.5 L360.0,65.9 L360.8,66.3 L361.7,66.7 L362.5,67.0 L363.4,67.3 L364.2,67.6 L365.0,67.8 L365.9,68.0 L366.7,68.3 L367.6,68.5 L368.4,68.7 L369.3,68.9 L370.1,69.1 L370.9,69.3 L371.8,69.4 L372.6,69.6 L373.5,69.7 L374.3,69.9 L375.1,70.0 L376.0,70.1 L376.8,70.2 L377.7,70.2 L378.5,70.3 L379.4,70.3 L380.2,70.3 L381.0,70.2 L381.9,70.1 L382.7,70.0 L383.6,69.9 L384.4,69.7 L385.2,69.5 L386.1,69.3 L386.9,69.1 L387.8,68.8 L388.6,68.5 L389.5,68.1 L390.3,67.7 L391.1,67.4 L392.0,66.9 L392.8,66.5 L393.7,66.0 L394.5,65.5 L395.3,65.0 L396.2,64.5 L397.0,63.9 L397.9,63.4 L398.7,62.8 L399.6,62.3 L400.4,61.7 L401.2,61.2 L402.1,60.7 L402.9,60.2 L403.8,59.8 L404.6,59.4 L405.4,59.0 L406.3,58.6 L407.1,58.3 L408.0,58.0 L408.8,57.7 L409.7,57.4 L410.5,57.2 L411.3,57.0 L412.2,56.7 L413.0,56.5 L413.9,56.3 L414.7,56.1" fill="none" stroke="#1818c8" stroke-width="1.3" stroke-linejoin="round"/>
<path d="M339.8,56.1 L340.6,56.3 L341.5,56.5 L342.3,56.7 L343.2,56.9 L344.0,57.2 L344.8,57.4 L345.7,57.7 L346.5,58.1 L347.4,58.4 L348.2,58.8 L349.1,59.3 L349.9,59.8 L350.7,60.4 L351.6,61.0 L352.4,61.6 L353.3,62.2 L354.1,62.9 L354.9,63.5 L355.8,64.2 L356.6,64.8 L357.5,65.4 L358.3,66.0 L359.2,66.6 L360.0,67.1 L360.8,67.6 L361.7,68.1 L362.5,68.5 L363.4,68.9 L364.2,69.3 L365.0,69.7 L365.9,70.0 L366.7,70.4 L367.6,70.7 L368.4,71.1 L369.3,71.4 L370.1,71.7 L370.9,72.1 L371.8,72.4 L372.6,72.6 L373.5,72.9 L374.3,73.1 L375.1,73.3 L376.0,73.5 L376.8,73.7 L377.7,73.8 L378.5,73.9 L379.4,73.9 L380.2,73.9 L381.0,73.9 L381.9,73.8 L382.7,73.7 L383.6,73.5 L384.4,73.2 L385.2,73.0 L386.1,72.6 L386.9,72.3 L387.8,71.8 L388.6,71.4 L389.5,70.9 L390.3,70.4 L391.1,69.8 L392.0,69.3 L392.8,68.7 L393.7,68.0 L394.5,67.4 L395.3,66.7 L396.2,66.1 L397.0,65.4 L397.9,64.7 L398.7,64.1 L399.6,63.4 L400.4,62.8 L401.2,62.1 L402.1,61.5 L402.9,61.0 L403.8,60.4 L404.6,59.9 L405.4,59.5 L406.3,59.0 L407.1,58.7 L408.0,58.3 L408.8,58.0 L409.7,57.7 L410.5,57.4 L411.3,57.1 L412.2,56.9 L413.0,56.6 L413.9,56.4 L414.7,56.1" fill="none" stroke="#1818c8" stroke-width="1.3" stroke-linejoin="round"/>
<path d="M339.8,71.0 L340.6,71.1 L341.5,71.2 L342.3,71.3 L343.2,71.4 L344.0,71.5 L344.8,71.7 L345.7,71.8 L346.5,72.0 L347.4,72.2 L348.2,72.4 L349.1,72.7 L349.9,73.0 L350.7,73.3 L351.6,73.6 L352.4,73.9 L353.3,74.3 L354.1,74.6 L354.9,74.9 L355.8,75.2 L356.6,75.5 L357.5,75.8 L358.3,76.0 L359.2,76.1 L360.0,76.3 L360.8,76.3 L361.7,76.4 L362.5,76.5 L363.4,76.5 L364.2,76.5 L365.0,76.5 L365.9,76.5 L366.7,76.6 L367.6,76.6 L368.4,76.7 L369.3,76.8 L370.1,76.9 L370.9,77.0 L371.8,77.2 L372.6,77.3 L373.5,77.5 L374.3,77.6 L375.1,77.8 L376.0,77.9 L376.8,78.0 L377.7,78.2 L378.5,78.3 L379.4,78.4 L380.2,78.5 L381.0,78.6 L381.9,78.6 L382.7,78.6 L383.6,78.6 L384.4,78.6 L385.2,78.5 L386.1,78.4 L386.9,78.3 L387.8,78.2 L388.6,78.0 L389.5,77.9 L390.3,77.7 L391.1,77.5 L392.0,77.3 L392.8,77.0 L393.7,76.8 L394.5,76.5 L395.3,76.2 L396.2,75.9 L397.0,75.6 L397.9,75.4 L398.7,75.0 L399.6,74.7 L400.4,74.4 L401.2,74.1 L402.1,73.8 L402.9,73.5 L403.8,73.3 L404.6,73.0 L405.4,72.7 L406.3,72.5 L407.1,72.2 L408.0,72.0 L408.8,71.8 L409.7,71.6 L410.5,71.4 L411.3,71.2 L412.2,71.1 L413.0,70.9 L413.9,70.7 L414.7,70.6" fill="none" stroke="#1818c8" stroke-width="1.3" stroke-linejoin="round"/>
<path d="M339.8,78.4 L340.6,78.6 L341.5,78.9 L342.3,79.1 L343.2,79.3 L344.0,79.6 L344.8,79.9 L345.7,80.3 L346.5,80.7 L347.4,81.1 L348.2,81.5 L349.1,82.0 L349.9,82.4 L350.7,82.8 L351.6,83.1 L352.4,83.4 L353.3,83.7 L354.1,84.0 L354.9,84.2 L355.8,84.4 L356.6,84.6 L357.5,84.7 L358.3,84.8 L359.2,84.9 L360.0,85.0 L360.8,85.0 L361.7,85.1 L362.5,85.1 L363.4,85.0 L364.2,85.0 L365.0,84.9 L365.9,84.8 L366.7,84.7 L367.6,84.6 L368.4,84.4 L369.3,84.2 L370.1,84.0 L370.9,83.8 L371.8,83.6 L372.6,83.3 L373.5,83.0 L374.3,82.7 L375.1,82.4 L376.0,82.0 L376.8,81.7 L377.7,81.4 L378.5,81.0 L379.4,80.7 L380.2,80.5 L381.0,80.2 L381.9,80.0 L382.7,79.9 L383.6,79.8 L384.4,79.8 L385.2,79.8 L386.1,79.8 L386.9,79.9 L387.8,80.1 L388.6,80.2 L389.5,80.4 L390.3,80.5 L391.1,80.7 L392.0,80.9 L392.8,81.0 L393.7,81.2 L394.5,81.3 L395.3,81.5 L396.2,81.7 L397.0,81.9 L397.9,82.1 L398.7,82.3 L399.6,82.6 L400.4,82.8 L401.2,83.1 L402.1,83.4 L402.9,83.7 L403.8,84.0 L404.6,84.3 L405.4,84.6 L406.3,84.8 L407.1,85.1 L408.0,85.3 L408.8,85.5 L409.7,85.7 L410.5,85.9 L411.3,86.1 L412.2,86.3 L413.0,86.5 L413.9,86.7 L414.7,86.9" fill="none" stroke="#1818c8" stroke-width="1.3" stroke-linejoin="round"/>
<path d="M339.8,86.9 L340.6,86.6 L341.5,86.4 L342.3,86.1 L343.2,85.9 L344.0,85.6 L344.8,85.3 L345.7,85.0 L346.5,84.7 L347.4,84.3 L348.2,84.0 L349.1,83.6 L349.9,83.2 L350.7,82.9 L351.6,82.6 L352.4,82.2 L353.3,81.9 L354.1,81.6 L354.9,81.3 L355.8,81.1 L356.6,80.9 L357.5,80.6 L358.3,80.5 L359.2,80.3 L360.0,80.2 L360.8,80.1 L361.7,80.0 L362.5,80.0 L363.4,79.9 L364.2,79.9 L365.0,79.9 L365.9,79.8 L366.7,79.8 L367.6,79.8 L368.4,79.8 L369.3,79.8 L370.1,79.8 L370.9,79.8 L371.8,79.7 L372.6,79.7 L373.5,79.7 L374.3,79.7 L375.1,79.6 L376.0,79.6 L376.8,79.6 L377.7,79.5 L378.5,79.5 L379.4,79.5 L380.2,79.5 L381.0,79.5 L381.9,79.5 L382.7,79.6 L383.6,79.7 L384.4,79.8 L385.2,79.9 L386.1,80.1 L386.9,80.2 L387.8,80.4 L388.6,80.6 L389.5,80.7 L390.3,80.9 L391.1,81.1 L392.0,81.3 L392.8,81.5 L393.7,81.7 L394.5,81.8 L395.3,82.0 L396.2,82.2 L397.0,82.5 L397.9,82.7 L398.7,82.9 L399.6,83.2 L400.4,83.4 L401.2,83.7 L402.1,84.0 L402.9,84.2 L403.8,84.5 L404.6,84.7 L405.4,85.0 L406.3,85.2 L407.1,85.4 L408.0,85.6 L408.8,85.8 L409.7,86.0 L410.5,86.1 L411.3,86.3 L412.2,86.4 L413.0,86.6 L413.9,86.7 L414.7,86.9" fill="none" stroke="#1818c8" stroke-width="1.3" stroke-linejoin="round"/>
<path d="M339.8,86.9 L340.6,86.8 L341.5,86.8 L342.3,86.8 L343.2,86.8 L344.0,86.8 L344.8,86.8 L345.7,86.8 L346.5,86.8 L347.4,86.7 L348.2,86.7 L349.1,86.6 L349.9,86.6 L350.7,86.5 L351.6,86.5 L352.4,86.4 L353.3,86.3 L354.1,86.3 L354.9,86.2 L355.8,86.1 L356.6,86.1 L357.5,86.1 L358.3,86.1 L359.2,86.0 L360.0,86.1 L360.8,86.1 L361.7,86.1 L362.5,86.2 L363.4,86.3 L364.2,86.4 L365.0,86.5 L365.9,86.6 L366.7,86.8 L367.6,86.9 L368.4,87.1 L369.3,87.3 L370.1,87.5 L370.9,87.7 L371.8,87.9 L372.6,88.2 L373.5,88.4 L374.3,88.6 L375.1,88.9 L376.0,89.2 L376.8,89.4 L377.7,89.7 L378.5,89.9 L379.4,90.1 L380.2,90.3 L381.0,90.4 L381.9,90.5 L382.7,90.5 L383.6,90.4 L384.4,90.3 L385.2,90.1 L386.1,89.9 L386.9,89.6 L387.8,89.3 L388.6,89.0 L389.5,88.6 L390.3,88.2 L391.1,87.8 L392.0,87.4 L392.8,86.9 L393.7,86.5 L394.5,86.1 L395.3,85.6 L396.2,85.2 L397.0,84.8 L397.9,84.4 L398.7,83.9 L399.6,83.5 L400.4,83.1 L401.2,82.7 L402.1,82.3 L402.9,81.9 L403.8,81.5 L404.6,81.1 L405.4,80.8 L406.3,80.4 L407.1,80.1 L408.0,79.7 L408.8,79.4 L409.7,79.1 L410.5,78.8 L411.3,78.5 L412.2,78.2 L413.0,78.0 L413.9,77.7 L414.7,77.4" fill="none" stroke="#1818c8" stroke-width="1.3" stroke-linejoin="round"/>
<path d="M339.8,93.3 L340.6,93.1 L341.5,92.9 L342.3,92.7 L343.2,92.5 L344.0,92.3 L344.8,92.1 L345.7,91.8 L346.5,91.5 L347.4,91.1 L348.2,90.8 L349.1,90.4 L349.9,90.1 L350.7,89.8 L351.6,89.6 L352.4,89.5 L353.3,89.5 L354.1,89.7 L354.9,90.0 L355.8,90.4 L356.6,91.0 L357.5,91.6 L358.3,92.3 L359.2,93.0 L360.0,93.8 L360.8,94.5 L361.7,95.3 L362.5,95.9 L363.4,96.5 L364.2,97.0 L365.0,97.4 L365.9,97.7 L366.7,97.9 L367.6,97.9 L368.4,97.7 L369.3,97.4 L370.1,97.0 L370.9,96.6 L371.8,96.0 L372.6,95.4 L373.5,94.8 L374.3,94.2 L375.1,93.6 L376.0,93.0 L376.8,92.5 L377.7,92.0 L378.5,91.6 L379.4,91.3 L380.2,91.0 L381.0,90.7 L381.9,90.6 L382.7,90.5 L383.6,90.5 L384.4,90.5 L385.2,90.6 L386.1,90.8 L386.9,91.0 L387.8,91.2 L388.6,91.4 L389.5,91.6 L390.3,91.8 L391.1,92.0 L392.0,92.1 L392.8,92.1 L393.7,92.1 L394.5,92.1 L395.3,92.0 L396.2,91.9 L397.0,91.8 L397.9,91.7 L398.7,91.6 L399.6,91.4 L400.4,91.3 L401.2,91.2 L402.1,91.1 L402.9,91.1 L403.8,91.1 L404.6,91.1 L405.4,91.2 L406.3,91.3 L407.1,91.5 L408.0,91.7 L408.8,91.9 L409.7,92.1 L410.5,92.4 L411.3,92.7 L412.2,92.9 L413.0,93.3 L413.9,93.6 L414.7,93.9" fill="none" stroke="#1818c8" stroke-width="1.3" stroke-linejoin="round"/>
<path d="M339.8,167.6 L340.6,164.8 L341.5,162.1 L342.3,159.4 L343.2,156.7 L344.0,153.9 L344.8,151.2 L345.7,148.5 L346.5,145.7 L347.4,143.0 L348.2,140.3 L349.1,137.7 L349.9,135.3 L350.7,132.9 L351.6,130.7 L352.4,128.7 L353.3,126.9 L354.1,125.3 L354.9,123.8 L355.8,122.4 L356.6,121.0 L357.5,119.8 L358.3,118.6 L359.2,117.4 L360.0,116.3 L360.8,115.3 L361.7,114.3 L362.5,113.4 L363.4,112.6 L364.2,112.0 L365.0,111.4 L365.9,111.0 L366.7,110.7 L367.6,110.5 L368.4,110.4 L369.3,110.4 L370.1,110.5 L370.9,110.6 L371.8,110.9 L372.6,111.1 L373.5,111.4 L374.3,111.7 L375.1,112.0 L376.0,112.3 L376.8,112.5 L377.7,112.8 L378.5,113.0 L379.4,113.2 L380.2,113.4 L381.0,113.6 L381.9,113.8 L382.7,113.9 L383.6,114.0 L384.4,114.2 L385.2,114.3 L386.1,114.4 L386.9,114.6 L387.8,114.7 L388.6,114.9 L389.5,115.2 L390.3,115.5 L391.1,115.9 L392.0,116.3 L392.8,116.9 L393.7,117.5 L394.5,118.3 L395.3,119.1 L396.2,120.1 L397.0,121.1 L397.9,122.3 L398.7,123.6 L399.6,124.9 L400.4,126.2 L401.2,127.7 L402.1,129.1 L402.9,130.6 L403.8,132.2 L404.6,133.8 L405.4,135.6 L406.3,137.6 L407.1,139.8 L408.0,142.2 L408.8,144.8 L409.7,147.6 L410.5,150.6 L411.3,153.8 L412.2,157.1 L413.0,160.5 L413.9,164.0 L414.7,167.6" fill="none" stroke="#1818c8" stroke-width="1.3" stroke-linejoin="round"/>
<path d="M339.8,167.6 L340.6,165.0 L341.5,162.5 L342.3,160.1 L343.2,157.8 L344.0,155.7 L344.8,153.8 L345.7,152.1 L346.5,150.5 L347.4,149.1 L348.2,147.8 L349.1,146.5 L349.9,145.2 L350.7,144.0 L351.6,142.7 L352.4,141.5 L353.3,140.3 L354.1,139.3 L354.9,138.3 L355.8,137.4 L356.6,136.6 L357.5,135.9 L358.3,135.3 L359.2,134.8 L360.0,134.4 L360.8,134.1 L361.7,133.9 L362.5,133.7 L363.4,133.6 L364.2,133.5 L365.0,133.4 L365.9,133.2 L366.7,133.0 L367.6,132.7 L368.4,132.3 L369.3,131.8 L370.1,131.2 L370.9,130.6 L371.8,129.9 L372.6,129.1 L373.5,128.3 L374.3,127.5 L375.1,126.7 L376.0,125.8 L376.8,124.9 L377.7,124.1 L378.5,123.3 L379.4,122.6 L380.2,122.0 L381.0,121.5 L381.9,121.2 L382.7,121.0 L383.6,121.0 L384.4,121.2 L385.2,121.6 L386.1,122.2 L386.9,122.9 L387.8,123.6 L388.6,124.5 L389.5,125.4 L390.3,126.4 L391.1,127.5 L392.0,128.5 L392.8,129.6 L393.7,130.7 L394.5,131.8 L395.3,133.0 L396.2,134.2 L397.0,135.4 L397.9,136.6 L398.7,137.9 L399.6,139.3 L400.4,140.6 L401.2,142.0 L402.1,143.4 L402.9,144.9 L403.8,146.3 L404.6,147.9 L405.4,149.4 L406.3,150.9 L407.1,152.5 L408.0,154.1 L408.8,155.8 L409.7,157.4 L410.5,159.1 L411.3,160.8 L412.2,162.5 L413.0,164.2 L413.9,165.9 L414.7,167.6" fill="none" stroke="#1818c8" stroke-width="1.3" stroke-linejoin="round"/>
<path d="M339.8,167.6 L340.6,165.1 L341.5,162.8 L342.3,160.5 L343.2,158.3 L344.0,156.3 L344.8,154.4 L345.7,152.8 L346.5,151.3 L347.4,150.0 L348.2,148.7 L349.1,147.5 L349.9,146.4 L350.7,145.2 L351.6,144.1 L352.4,143.0 L353.3,142.0 L354.1,141.0 L354.9,140.1 L355.8,139.2 L356.6,138.5 L357.5,137.8 L358.3,137.2 L359.2,136.6 L360.0,136.1 L360.8,135.7 L361.7,135.3 L362.5,135.0 L363.4,134.7 L364.2,134.5 L365.0,134.3 L365.9,134.1 L366.7,133.9 L367.6,133.8 L368.4,133.6 L369.3,133.5 L370.1,133.4 L370.9,133.3 L371.8,133.2 L372.6,133.1 L373.5,133.0 L374.3,132.9 L375.1,132.8 L376.0,132.7 L376.8,132.7 L377.7,132.7 L378.5,132.6 L379.4,132.6 L380.2,132.7 L381.0,132.7 L381.9,132.8 L382.7,133.0 L383.6,133.1 L384.4,133.4 L385.2,133.6 L386.1,133.9 L386.9,134.2 L387.8,134.6 L388.6,134.9 L389.5,135.3 L390.3,135.7 L391.1,136.1 L392.0,136.5 L392.8,136.9 L393.7,137.4 L394.5,137.9 L395.3,138.5 L396.2,139.2 L397.0,139.9 L397.9,140.7 L398.7,141.6 L399.6,142.6 L400.4,143.8 L401.2,145.0 L402.1,146.4 L402.9,147.8 L403.8,149.3 L404.6,150.8 L405.4,152.4 L406.3,153.9 L407.1,155.5 L408.0,157.0 L408.8,158.5 L409.7,159.9 L410.5,161.3 L411.3,162.6 L412.2,163.8 L413.0,165.1 L413.9,166.3 L414.7,167.6" fill="none" stroke="#1818c8" stroke-width="1.3" stroke-linejoin="round"/>
<path d="M339.8,167.6 L340.6,165.7 L341.5,163.8 L342.3,162.0 L343.2,160.2 L344.0,158.5 L344.8,156.9 L345.7,155.4 L346.5,154.0 L347.4,152.7 L348.2,151.5 L349.1,150.3 L349.9,149.2 L350.7,148.1 L351.6,147.1 L352.4,146.1 L353.3,145.2 L354.1,144.3 L354.9,143.5 L355.8,142.7 L356.6,142.0 L357.5,141.4 L358.3,140.8 L359.2,140.3 L360.0,139.9 L360.8,139.5 L361.7,139.2 L362.5,139.0 L363.4,138.8 L364.2,138.7 L365.0,138.6 L365.9,138.5 L366.7,138.3 L367.6,138.2 L368.4,138.0 L369.3,137.8 L370.1,137.6 L370.9,137.3 L371.8,137.0 L372.6,136.8 L373.5,136.4 L374.3,136.1 L375.1,135.8 L376.0,135.4 L376.8,135.1 L377.7,134.8 L378.5,134.5 L379.4,134.3 L380.2,134.1 L381.0,134.0 L381.9,133.9 L382.7,134.0 L383.6,134.2 L384.4,134.4 L385.2,134.8 L386.1,135.2 L386.9,135.7 L387.8,136.2 L388.6,136.7 L389.5,137.2 L390.3,137.7 L391.1,138.1 L392.0,138.6 L392.8,139.0 L393.7,139.4 L394.5,139.9 L395.3,140.4 L396.2,140.9 L397.0,141.5 L397.9,142.2 L398.7,143.0 L399.6,143.9 L400.4,145.0 L401.2,146.1 L402.1,147.4 L402.9,148.8 L403.8,150.3 L404.6,151.8 L405.4,153.3 L406.3,154.9 L407.1,156.4 L408.0,157.9 L408.8,159.3 L409.7,160.6 L410.5,161.9 L411.3,163.1 L412.2,164.2 L413.0,165.4 L413.9,166.5 L414.7,167.6" fill="none" stroke="#1818c8" stroke-width="1.3" stroke-linejoin="round"/>
<path d="M339.8,167.6 L340.6,166.1 L341.5,164.6 L342.3,163.1 L343.2,161.7 L344.0,160.5 L344.8,159.3 L345.7,158.2 L346.5,157.2 L347.4,156.3 L348.2,155.4 L349.1,154.5 L349.9,153.6 L350.7,152.7 L351.6,151.8 L352.4,150.9 L353.3,150.1 L354.1,149.3 L354.9,148.5 L355.8,147.9 L356.6,147.3 L357.5,146.7 L358.3,146.3 L359.2,145.8 L360.0,145.5 L360.8,145.1 L361.7,144.8 L362.5,144.6 L363.4,144.4 L364.2,144.2 L365.0,144.0 L365.9,143.9 L366.7,143.7 L367.6,143.6 L368.4,143.5 L369.3,143.5 L370.1,143.4 L370.9,143.4 L371.8,143.3 L372.6,143.2 L373.5,143.2 L374.3,143.1 L375.1,143.1 L376.0,143.0 L376.8,142.9 L377.7,142.8 L378.5,142.7 L379.4,142.6 L380.2,142.6 L381.0,142.6 L381.9,142.6 L382.7,142.6 L383.6,142.7 L384.4,142.9 L385.2,143.1 L386.1,143.3 L386.9,143.5 L387.8,143.7 L388.6,144.0 L389.5,144.2 L390.3,144.5 L391.1,144.7 L392.0,145.0 L392.8,145.2 L393.7,145.5 L394.5,145.8 L395.3,146.1 L396.2,146.4 L397.0,146.8 L397.9,147.3 L398.7,147.8 L399.6,148.5 L400.4,149.2 L401.2,150.0 L402.1,150.8 L402.9,151.8 L403.8,152.8 L404.6,153.9 L405.4,155.0 L406.3,156.1 L407.1,157.3 L408.0,158.4 L408.8,159.6 L409.7,160.7 L410.5,161.9 L411.3,163.0 L412.2,164.2 L413.0,165.3 L413.9,166.4 L414.7,167.6" fill="none" stroke="#1818c8" stroke-width="1.3" stroke-linejoin="round"/>
<rect x="339.80" y="47.10" width="74.90" height="130.50" stroke="#000" stroke-width="1.3" fill="none"/>
<line x1="339.80" y1="167.56" x2="342.60" y2="167.56" stroke="#000" stroke-width="1.2"/>
<line x1="411.90" y1="167.56" x2="414.70" y2="167.56" stroke="#000" stroke-width="1.2"/>
<text transform="translate(336.00,170.96) scale(0.82,1)" font-family="'Liberation Serif', 'Times New Roman', serif" font-size="9.4" font-weight="bold" text-anchor="end" fill="#000" stroke="#000" stroke-width="0.1">0</text>
<line x1="339.80" y1="147.48" x2="342.60" y2="147.48" stroke="#000" stroke-width="1.2"/>
<line x1="411.90" y1="147.48" x2="414.70" y2="147.48" stroke="#000" stroke-width="1.2"/>
<text transform="translate(336.00,150.88) scale(0.82,1)" font-family="'Liberation Serif', 'Times New Roman', serif" font-size="9.4" font-weight="bold" text-anchor="end" fill="#000" stroke="#000" stroke-width="0.1">10</text>
<line x1="339.80" y1="127.41" x2="342.60" y2="127.41" stroke="#000" stroke-width="1.2"/>
<line x1="411.90" y1="127.41" x2="414.70" y2="127.41" stroke="#000" stroke-width="1.2"/>
<text transform="translate(336.00,130.81) scale(0.82,1)" font-family="'Liberation Serif', 'Times New Roman', serif" font-size="9.4" font-weight="bold" text-anchor="end" fill="#000" stroke="#000" stroke-width="0.1">20</text>
<line x1="339.80" y1="107.33" x2="342.60" y2="107.33" stroke="#000" stroke-width="1.2"/>
<line x1="411.90" y1="107.33" x2="414.70" y2="107.33" stroke="#000" stroke-width="1.2"/>
<text transform="translate(336.00,110.73) scale(0.82,1)" font-family="'Liberation Serif', 'Times New Roman', serif" font-size="9.4" font-weight="bold" text-anchor="end" fill="#000" stroke="#000" stroke-width="0.1">30</text>
<line x1="339.80" y1="87.25" x2="342.60" y2="87.25" stroke="#000" stroke-width="1.2"/>
<line x1="411.90" y1="87.25" x2="414.70" y2="87.25" stroke="#000" stroke-width="1.2"/>
<text transform="translate(336.00,90.65) scale(0.82,1)" font-family="'Liberation Serif', 'Times New Roman', serif" font-size="9.4" font-weight="bold" text-anchor="end" fill="#000" stroke="#000" stroke-width="0.1">40</text>
<line x1="339.80" y1="67.18" x2="342.60" y2="67.18" stroke="#000" stroke-width="1.2"/>
<line x1="411.90" y1="67.18" x2="414.70" y2="67.18" stroke="#000" stroke-width="1.2"/>
<text transform="translate(336.00,70.58) scale(0.82,1)" font-family="'Liberation Serif', 'Times New Roman', serif" font-size="9.4" font-weight="bold" text-anchor="end" fill="#000" stroke="#000" stroke-width="0.1">50</text>
<text transform="translate(336.00,50.50) scale(0.82,1)" font-family="'Liberation Serif', 'Times New Roman', serif" font-size="9.4" font-weight="bold" text-anchor="end" fill="#000" stroke="#000" stroke-width="0.1">60</text>
<text transform="translate(340.80,186.90) scale(0.95,1)" font-family="'Liberation Serif', 'Times New Roman', serif" font-size="9.0" font-weight="normal" text-anchor="middle" fill="#000" stroke="#000" stroke-width="0.15">Γ</text>
<text transform="translate(365.62,186.90) scale(0.95,1)" font-family="'Liberation Serif', 'Times New Roman', serif" font-size="9.0" font-weight="normal" text-anchor="middle" fill="#000" stroke="#000" stroke-width="0.15">M</text>
<text transform="translate(384.53,186.90) scale(0.95,1)" font-family="'Liberation Serif', 'Times New Roman', serif" font-size="9.0" font-weight="normal" text-anchor="middle" fill="#000" stroke="#000" stroke-width="0.15">K</text>
<text transform="translate(412.40,186.90) scale(0.95,1)" font-family="'Liberation Serif', 'Times New Roman', serif" font-size="9.0" font-weight="normal" text-anchor="middle" fill="#000" stroke="#000" stroke-width="0.15">Γ</text>
<text transform="translate(323.80,108.83) rotate(-90)" font-family="'Liberation Serif', 'Times New Roman', serif" font-size="11.2" font-weight="bold" text-anchor="middle" fill="#000">Frequency (THz)</text>
<text transform="translate(382.90,56.00) scale(0.95,1)" font-family="'Liberation Serif', 'Times New Roman', serif" font-size="9.2" font-weight="bold" text-anchor="start" fill="#000" stroke="#000" stroke-width="0.3">(e)</text>
<text transform="translate(386.60,106.60) scale(0.88,1)" font-family="'Liberation Serif', 'Times New Roman', serif" font-size="9.6" font-weight="bold" text-anchor="start" fill="#000" stroke="#000" stroke-width="0.25">HBL 2</text>
<line x1="469.39" y1="44.50" x2="469.39" y2="176.60" stroke="#333" stroke-width="0.9" stroke-dasharray="2.4,2.6"/>
<line x1="485.25" y1="44.50" x2="485.25" y2="176.60" stroke="#333" stroke-width="0.9" stroke-dasharray="2.4,2.6"/>
<line x1="441.90" y1="166.44" x2="517.00" y2="166.44" stroke="#333" stroke-width="0.9" stroke-dasharray="2.4,2.6"/>
<rect x="484.70" y="46.60" width="11.58" height="8.74" fill="#fff"/>
<path d="M441.9,53.6 L442.7,53.8 L443.6,54.0 L444.4,54.1 L445.3,54.3 L446.1,54.5 L447.0,54.7 L447.8,55.0 L448.7,55.3 L449.5,55.6 L450.3,56.0 L451.2,56.4 L452.0,56.9 L452.9,57.4 L453.7,58.0 L454.6,58.6 L455.4,59.2 L456.2,59.8 L457.1,60.4 L457.9,61.0 L458.8,61.6 L459.6,62.1 L460.5,62.7 L461.3,63.1 L462.2,63.6 L463.0,64.0 L463.8,64.3 L464.7,64.6 L465.5,64.9 L466.4,65.2 L467.2,65.5 L468.1,65.7 L468.9,65.9 L469.7,66.1 L470.6,66.3 L471.4,66.6 L472.3,66.7 L473.1,66.9 L474.0,67.1 L474.8,67.3 L475.7,67.4 L476.5,67.6 L477.3,67.7 L478.2,67.8 L479.0,67.9 L479.9,67.9 L480.7,67.9 L481.6,68.0 L482.4,67.9 L483.2,67.9 L484.1,67.8 L484.9,67.7 L485.8,67.6 L486.6,67.4 L487.5,67.2 L488.3,67.0 L489.2,66.7 L490.0,66.4 L490.8,66.1 L491.7,65.8 L492.5,65.4 L493.4,65.0 L494.2,64.6 L495.1,64.1 L495.9,63.6 L496.7,63.1 L497.6,62.6 L498.4,62.1 L499.3,61.5 L500.1,61.0 L501.0,60.4 L501.8,59.9 L502.7,59.3 L503.5,58.8 L504.3,58.3 L505.2,57.8 L506.0,57.3 L506.9,56.9 L507.7,56.5 L508.6,56.2 L509.4,55.8 L510.2,55.5 L511.1,55.2 L511.9,55.0 L512.8,54.7 L513.6,54.5 L514.5,54.3 L515.3,54.1 L516.2,53.8 L517.0,53.6" fill="none" stroke="#1818c8" stroke-width="1.3" stroke-linejoin="round"/>
<path d="M441.9,53.6 L442.7,53.8 L443.6,54.0 L444.4,54.2 L445.3,54.5 L446.1,54.7 L447.0,55.0 L447.8,55.3 L448.7,55.6 L449.5,56.0 L450.3,56.4 L451.2,56.8 L452.0,57.4 L452.9,57.9 L453.7,58.5 L454.6,59.2 L455.4,59.8 L456.2,60.5 L457.1,61.1 L457.9,61.8 L458.8,62.4 L459.6,63.1 L460.5,63.7 L461.3,64.2 L462.2,64.8 L463.0,65.2 L463.8,65.7 L464.7,66.1 L465.5,66.6 L466.4,67.0 L467.2,67.3 L468.1,67.7 L468.9,68.1 L469.7,68.4 L470.6,68.8 L471.4,69.1 L472.3,69.4 L473.1,69.8 L474.0,70.1 L474.8,70.3 L475.7,70.6 L476.5,70.9 L477.3,71.1 L478.2,71.3 L479.0,71.4 L479.9,71.5 L480.7,71.6 L481.6,71.7 L482.4,71.7 L483.2,71.6 L484.1,71.5 L484.9,71.4 L485.8,71.2 L486.6,71.0 L487.5,70.7 L488.3,70.3 L489.2,70.0 L490.0,69.5 L490.8,69.1 L491.7,68.6 L492.5,68.1 L493.4,67.5 L494.2,66.9 L495.1,66.3 L495.9,65.7 L496.7,65.0 L497.6,64.4 L498.4,63.7 L499.3,63.0 L500.1,62.3 L501.0,61.7 L501.8,61.0 L502.7,60.3 L503.5,59.7 L504.3,59.1 L505.2,58.5 L506.0,58.0 L506.9,57.5 L507.7,57.0 L508.6,56.6 L509.4,56.2 L510.2,55.8 L511.1,55.5 L511.9,55.2 L512.8,54.9 L513.6,54.6 L514.5,54.4 L515.3,54.1 L516.2,53.9 L517.0,53.6" fill="none" stroke="#1818c8" stroke-width="1.3" stroke-linejoin="round"/>
<path d="M441.9,68.7 L442.7,68.8 L443.6,68.9 L444.4,69.0 L445.3,69.1 L446.1,69.2 L447.0,69.4 L447.8,69.5 L448.7,69.7 L449.5,69.9 L450.3,70.1 L451.2,70.4 L452.0,70.7 L452.9,71.0 L453.7,71.3 L454.6,71.7 L455.4,72.0 L456.2,72.3 L457.1,72.7 L457.9,73.0 L458.8,73.3 L459.6,73.5 L460.5,73.7 L461.3,73.9 L462.2,74.0 L463.0,74.1 L463.8,74.2 L464.7,74.2 L465.5,74.2 L466.4,74.3 L467.2,74.3 L468.1,74.3 L468.9,74.3 L469.7,74.4 L470.6,74.5 L471.4,74.6 L472.3,74.7 L473.1,74.8 L474.0,74.9 L474.8,75.1 L475.7,75.2 L476.5,75.4 L477.3,75.5 L478.2,75.7 L479.0,75.8 L479.9,76.0 L480.7,76.1 L481.6,76.2 L482.4,76.3 L483.2,76.3 L484.1,76.4 L484.9,76.4 L485.8,76.4 L486.6,76.4 L487.5,76.3 L488.3,76.2 L489.2,76.1 L490.0,76.0 L490.8,75.8 L491.7,75.6 L492.5,75.5 L493.4,75.2 L494.2,75.0 L495.1,74.8 L495.9,74.5 L496.7,74.3 L497.6,74.0 L498.4,73.7 L499.3,73.4 L500.1,73.1 L501.0,72.8 L501.8,72.5 L502.7,72.2 L503.5,71.9 L504.3,71.6 L505.2,71.3 L506.0,71.0 L506.9,70.7 L507.7,70.4 L508.6,70.2 L509.4,69.9 L510.2,69.7 L511.1,69.5 L511.9,69.3 L512.8,69.1 L513.6,68.9 L514.5,68.8 L515.3,68.6 L516.2,68.4 L517.0,68.3" fill="none" stroke="#1818c8" stroke-width="1.3" stroke-linejoin="round"/>
<path d="M441.9,76.2 L442.7,76.4 L443.6,76.6 L444.4,76.9 L445.3,77.1 L446.1,77.4 L447.0,77.7 L447.8,78.1 L448.7,78.5 L449.5,78.9 L450.3,79.4 L451.2,79.8 L452.0,80.2 L452.9,80.6 L453.7,81.0 L454.6,81.3 L455.4,81.6 L456.2,81.8 L457.1,82.1 L457.9,82.3 L458.8,82.4 L459.6,82.6 L460.5,82.7 L461.3,82.8 L462.2,82.8 L463.0,82.9 L463.8,82.9 L464.7,82.9 L465.5,82.9 L466.4,82.9 L467.2,82.8 L468.1,82.7 L468.9,82.6 L469.7,82.4 L470.6,82.3 L471.4,82.1 L472.3,81.9 L473.1,81.7 L474.0,81.4 L474.8,81.1 L475.7,80.8 L476.5,80.5 L477.3,80.2 L478.2,79.9 L479.0,79.5 L479.9,79.2 L480.7,78.9 L481.6,78.5 L482.4,78.3 L483.2,78.0 L484.1,77.8 L484.9,77.7 L485.8,77.6 L486.6,77.6 L487.5,77.6 L488.3,77.6 L489.2,77.7 L490.0,77.9 L490.8,78.0 L491.7,78.2 L492.5,78.4 L493.4,78.5 L494.2,78.7 L495.1,78.8 L495.9,79.0 L496.7,79.1 L497.6,79.3 L498.4,79.5 L499.3,79.7 L500.1,79.9 L501.0,80.2 L501.8,80.4 L502.7,80.7 L503.5,81.0 L504.3,81.3 L505.2,81.6 L506.0,81.9 L506.9,82.1 L507.7,82.4 L508.6,82.7 L509.4,82.9 L510.2,83.2 L511.1,83.4 L511.9,83.6 L512.8,83.8 L513.6,84.0 L514.5,84.2 L515.3,84.4 L516.2,84.6 L517.0,84.7" fill="none" stroke="#1818c8" stroke-width="1.3" stroke-linejoin="round"/>
<path d="M441.9,84.7 L442.7,84.5 L443.6,84.3 L444.4,84.0 L445.3,83.8 L446.1,83.5 L447.0,83.2 L447.8,82.9 L448.7,82.5 L449.5,82.2 L450.3,81.8 L451.2,81.5 L452.0,81.1 L452.9,80.7 L453.7,80.4 L454.6,80.1 L455.4,79.7 L456.2,79.4 L457.1,79.2 L457.9,78.9 L458.8,78.7 L459.6,78.5 L460.5,78.3 L461.3,78.1 L462.2,78.0 L463.0,77.9 L463.8,77.8 L464.7,77.8 L465.5,77.7 L466.4,77.7 L467.2,77.7 L468.1,77.6 L468.9,77.6 L469.7,77.6 L470.6,77.6 L471.4,77.6 L472.3,77.6 L473.1,77.6 L474.0,77.5 L474.8,77.5 L475.7,77.5 L476.5,77.4 L477.3,77.4 L478.2,77.4 L479.0,77.3 L479.9,77.3 L480.7,77.3 L481.6,77.3 L482.4,77.3 L483.2,77.3 L484.1,77.3 L484.9,77.4 L485.8,77.5 L486.6,77.6 L487.5,77.7 L488.3,77.9 L489.2,78.0 L490.0,78.2 L490.8,78.4 L491.7,78.6 L492.5,78.7 L493.4,78.9 L494.2,79.1 L495.1,79.3 L495.9,79.5 L496.7,79.7 L497.6,79.9 L498.4,80.1 L499.3,80.3 L500.1,80.5 L501.0,80.8 L501.8,81.0 L502.7,81.3 L503.5,81.5 L504.3,81.8 L505.2,82.1 L506.0,82.3 L506.9,82.6 L507.7,82.8 L508.6,83.1 L509.4,83.3 L510.2,83.5 L511.1,83.7 L511.9,83.8 L512.8,84.0 L513.6,84.2 L514.5,84.3 L515.3,84.5 L516.2,84.6 L517.0,84.7" fill="none" stroke="#1818c8" stroke-width="1.3" stroke-linejoin="round"/>
<path d="M441.9,84.7 L442.7,84.7 L443.6,84.7 L444.4,84.7 L445.3,84.7 L446.1,84.7 L447.0,84.7 L447.8,84.7 L448.7,84.6 L449.5,84.6 L450.3,84.6 L451.2,84.5 L452.0,84.5 L452.9,84.4 L453.7,84.3 L454.6,84.3 L455.4,84.2 L456.2,84.1 L457.1,84.1 L457.9,84.0 L458.8,84.0 L459.6,83.9 L460.5,83.9 L461.3,83.9 L462.2,83.9 L463.0,84.0 L463.8,84.0 L464.7,84.1 L465.5,84.2 L466.4,84.3 L467.2,84.4 L468.1,84.5 L468.9,84.6 L469.7,84.8 L470.6,85.0 L471.4,85.2 L472.3,85.4 L473.1,85.6 L474.0,85.8 L474.8,86.1 L475.7,86.3 L476.5,86.6 L477.3,86.8 L478.2,87.1 L479.0,87.3 L479.9,87.6 L480.7,87.8 L481.6,88.0 L482.4,88.2 L483.2,88.3 L484.1,88.4 L484.9,88.4 L485.8,88.4 L486.6,88.2 L487.5,88.1 L488.3,87.8 L489.2,87.5 L490.0,87.2 L490.8,86.9 L491.7,86.5 L492.5,86.1 L493.4,85.7 L494.2,85.2 L495.1,84.8 L495.9,84.4 L496.7,84.0 L497.6,83.5 L498.4,83.1 L499.3,82.7 L500.1,82.2 L501.0,81.8 L501.8,81.4 L502.7,80.9 L503.5,80.5 L504.3,80.1 L505.2,79.7 L506.0,79.3 L506.9,78.9 L507.7,78.6 L508.6,78.2 L509.4,77.9 L510.2,77.5 L511.1,77.2 L511.9,76.9 L512.8,76.6 L513.6,76.3 L514.5,76.0 L515.3,75.7 L516.2,75.5 L517.0,75.2" fill="none" stroke="#1818c8" stroke-width="1.3" stroke-linejoin="round"/>
<path d="M441.9,91.2 L442.7,91.1 L443.6,90.9 L444.4,90.7 L445.3,90.5 L446.1,90.3 L447.0,90.0 L447.8,89.7 L448.7,89.4 L449.5,89.1 L450.3,88.7 L451.2,88.4 L452.0,88.0 L452.9,87.7 L453.7,87.5 L454.6,87.4 L455.4,87.5 L456.2,87.6 L457.1,87.9 L457.9,88.4 L458.8,88.9 L459.6,89.6 L460.5,90.3 L461.3,91.0 L462.2,91.8 L463.0,92.5 L463.8,93.2 L464.7,93.9 L465.5,94.5 L466.4,95.0 L467.2,95.4 L468.1,95.7 L468.9,95.9 L469.7,95.9 L470.6,95.7 L471.4,95.5 L472.3,95.1 L473.1,94.6 L474.0,94.0 L474.8,93.4 L475.7,92.8 L476.5,92.2 L477.3,91.5 L478.2,91.0 L479.0,90.5 L479.9,90.0 L480.7,89.6 L481.6,89.2 L482.4,88.9 L483.2,88.7 L484.1,88.5 L484.9,88.4 L485.8,88.4 L486.6,88.5 L487.5,88.6 L488.3,88.7 L489.2,88.9 L490.0,89.2 L490.8,89.4 L491.7,89.6 L492.5,89.8 L493.4,89.9 L494.2,90.0 L495.1,90.1 L495.9,90.1 L496.7,90.1 L497.6,90.0 L498.4,89.9 L499.3,89.8 L500.1,89.6 L501.0,89.5 L501.8,89.4 L502.7,89.2 L503.5,89.1 L504.3,89.1 L505.2,89.0 L506.0,89.0 L506.9,89.1 L507.7,89.1 L508.6,89.3 L509.4,89.4 L510.2,89.6 L511.1,89.8 L511.9,90.1 L512.8,90.3 L513.6,90.6 L514.5,90.9 L515.3,91.2 L516.2,91.5 L517.0,91.9" fill="none" stroke="#1818c8" stroke-width="1.3" stroke-linejoin="round"/>
<path d="M441.9,166.4 L442.7,163.7 L443.6,160.9 L444.4,158.2 L445.3,155.4 L446.1,152.6 L447.0,149.9 L447.8,147.1 L448.7,144.3 L449.5,141.6 L450.3,138.9 L451.2,136.3 L452.0,133.7 L452.9,131.4 L453.7,129.2 L454.6,127.1 L455.4,125.3 L456.2,123.6 L457.1,122.1 L457.9,120.7 L458.8,119.3 L459.6,118.1 L460.5,116.8 L461.3,115.7 L462.2,114.5 L463.0,113.5 L463.8,112.5 L464.7,111.6 L465.5,110.9 L466.4,110.2 L467.2,109.6 L468.1,109.2 L468.9,108.9 L469.7,108.6 L470.6,108.6 L471.4,108.6 L472.3,108.7 L473.1,108.8 L474.0,109.0 L474.8,109.3 L475.7,109.6 L476.5,109.9 L477.3,110.2 L478.2,110.5 L479.0,110.7 L479.9,111.0 L480.7,111.2 L481.6,111.4 L482.4,111.6 L483.2,111.8 L484.1,112.0 L484.9,112.1 L485.8,112.3 L486.6,112.4 L487.5,112.5 L488.3,112.6 L489.2,112.8 L490.0,113.0 L490.8,113.2 L491.7,113.4 L492.5,113.8 L493.4,114.1 L494.2,114.6 L495.1,115.1 L495.9,115.8 L496.7,116.5 L497.6,117.4 L498.4,118.4 L499.3,119.5 L500.1,120.6 L501.0,121.9 L501.8,123.2 L502.7,124.6 L503.5,126.0 L504.3,127.5 L505.2,129.0 L506.0,130.6 L506.9,132.3 L507.7,134.1 L508.6,136.1 L509.4,138.4 L510.2,140.8 L511.1,143.4 L511.9,146.3 L512.8,149.3 L513.6,152.5 L514.5,155.8 L515.3,159.3 L516.2,162.9 L517.0,166.4" fill="none" stroke="#1818c8" stroke-width="1.3" stroke-linejoin="round"/>
<path d="M441.9,166.4 L442.7,163.9 L443.6,161.3 L444.4,158.9 L445.3,156.6 L446.1,154.4 L447.0,152.5 L447.8,150.8 L448.7,149.2 L449.5,147.8 L450.3,146.4 L451.2,145.1 L452.0,143.8 L452.9,142.5 L453.7,141.3 L454.6,140.1 L455.4,138.9 L456.2,137.8 L457.1,136.8 L457.9,135.9 L458.8,135.1 L459.6,134.4 L460.5,133.8 L461.3,133.3 L462.2,132.9 L463.0,132.6 L463.8,132.4 L464.7,132.2 L465.5,132.1 L466.4,132.0 L467.2,131.8 L468.1,131.7 L468.9,131.4 L469.7,131.1 L470.6,130.7 L471.4,130.2 L472.3,129.7 L473.1,129.0 L474.0,128.3 L474.8,127.6 L475.7,126.7 L476.5,125.9 L477.3,125.0 L478.2,124.1 L479.0,123.3 L479.9,122.4 L480.7,121.6 L481.6,120.9 L482.4,120.3 L483.2,119.8 L484.1,119.5 L484.9,119.3 L485.8,119.3 L486.6,119.6 L487.5,120.0 L488.3,120.5 L489.2,121.2 L490.0,122.0 L490.8,122.9 L491.7,123.8 L492.5,124.8 L493.4,125.8 L494.2,126.9 L495.1,128.0 L495.9,129.1 L496.7,130.3 L497.6,131.4 L498.4,132.6 L499.3,133.9 L500.1,135.1 L501.0,136.5 L501.8,137.8 L502.7,139.2 L503.5,140.6 L504.3,142.0 L505.2,143.5 L506.0,145.0 L506.9,146.5 L507.7,148.0 L508.6,149.6 L509.4,151.2 L510.2,152.9 L511.1,154.5 L511.9,156.2 L512.8,157.9 L513.6,159.6 L514.5,161.3 L515.3,163.0 L516.2,164.7 L517.0,166.4" fill="none" stroke="#1818c8" stroke-width="1.3" stroke-linejoin="round"/>
<path d="M441.9,166.4 L442.7,164.0 L443.6,161.6 L444.4,159.3 L445.3,157.0 L446.1,155.0 L447.0,153.1 L447.8,151.5 L448.7,150.0 L449.5,148.6 L450.3,147.4 L451.2,146.2 L452.0,145.0 L452.9,143.8 L453.7,142.7 L454.6,141.6 L455.4,140.5 L456.2,139.5 L457.1,138.6 L457.9,137.8 L458.8,137.0 L459.6,136.3 L460.5,135.7 L461.3,135.1 L462.2,134.6 L463.0,134.1 L463.8,133.8 L464.7,133.4 L465.5,133.2 L466.4,132.9 L467.2,132.7 L468.1,132.5 L468.9,132.4 L469.7,132.2 L470.6,132.1 L471.4,132.0 L472.3,131.8 L473.1,131.7 L474.0,131.6 L474.8,131.5 L475.7,131.4 L476.5,131.3 L477.3,131.3 L478.2,131.2 L479.0,131.1 L479.9,131.1 L480.7,131.1 L481.6,131.1 L482.4,131.1 L483.2,131.2 L484.1,131.3 L484.9,131.4 L485.8,131.6 L486.6,131.8 L487.5,132.1 L488.3,132.4 L489.2,132.7 L490.0,133.0 L490.8,133.4 L491.7,133.8 L492.5,134.2 L493.4,134.6 L494.2,135.0 L495.1,135.4 L495.9,135.9 L496.7,136.5 L497.6,137.1 L498.4,137.7 L499.3,138.5 L500.1,139.3 L501.0,140.2 L501.8,141.2 L502.7,142.4 L503.5,143.6 L504.3,145.0 L505.2,146.4 L506.0,147.9 L506.9,149.5 L507.7,151.1 L508.6,152.7 L509.4,154.2 L510.2,155.8 L511.1,157.3 L511.9,158.7 L512.8,160.1 L513.6,161.4 L514.5,162.7 L515.3,163.9 L516.2,165.2 L517.0,166.4" fill="none" stroke="#1818c8" stroke-width="1.3" stroke-linejoin="round"/>
<path d="M441.9,166.4 L442.7,164.5 L443.6,162.6 L444.4,160.8 L445.3,159.0 L446.1,157.3 L447.0,155.7 L447.8,154.2 L448.7,152.8 L449.5,151.4 L450.3,150.2 L451.2,149.0 L452.0,147.9 L452.9,146.8 L453.7,145.7 L454.6,144.7 L455.4,143.8 L456.2,142.9 L457.1,142.1 L457.9,141.3 L458.8,140.6 L459.6,139.9 L460.5,139.4 L461.3,138.8 L462.2,138.4 L463.0,138.0 L463.8,137.8 L464.7,137.5 L465.5,137.4 L466.4,137.2 L467.2,137.1 L468.1,137.0 L468.9,136.8 L469.7,136.7 L470.6,136.5 L471.4,136.3 L472.3,136.1 L473.1,135.8 L474.0,135.5 L474.8,135.2 L475.7,134.9 L476.5,134.6 L477.3,134.3 L478.2,133.9 L479.0,133.6 L479.9,133.3 L480.7,133.0 L481.6,132.7 L482.4,132.5 L483.2,132.4 L484.1,132.4 L484.9,132.4 L485.8,132.6 L486.6,132.9 L487.5,133.3 L488.3,133.7 L489.2,134.2 L490.0,134.7 L490.8,135.2 L491.7,135.7 L492.5,136.2 L493.4,136.7 L494.2,137.1 L495.1,137.5 L495.9,138.0 L496.7,138.4 L497.6,138.9 L498.4,139.5 L499.3,140.1 L500.1,140.8 L501.0,141.6 L501.8,142.5 L502.7,143.6 L503.5,144.8 L504.3,146.1 L505.2,147.5 L506.0,149.0 L506.9,150.5 L507.7,152.0 L508.6,153.6 L509.4,155.1 L510.2,156.6 L511.1,158.0 L511.9,159.4 L512.8,160.7 L513.6,161.9 L514.5,163.1 L515.3,164.2 L516.2,165.3 L517.0,166.4" fill="none" stroke="#1818c8" stroke-width="1.3" stroke-linejoin="round"/>
<path d="M441.9,166.4 L442.7,164.9 L443.6,163.4 L444.4,161.9 L445.3,160.6 L446.1,159.3 L447.0,158.1 L447.8,157.0 L448.7,156.0 L449.5,155.1 L450.3,154.2 L451.2,153.3 L452.0,152.3 L452.9,151.4 L453.7,150.5 L454.6,149.6 L455.4,148.8 L456.2,147.9 L457.1,147.2 L457.9,146.5 L458.8,145.9 L459.6,145.4 L460.5,144.9 L461.3,144.5 L462.2,144.1 L463.0,143.7 L463.8,143.4 L464.7,143.2 L465.5,142.9 L466.4,142.8 L467.2,142.6 L468.1,142.4 L468.9,142.3 L469.7,142.2 L470.6,142.1 L471.4,142.1 L472.3,142.0 L473.1,141.9 L474.0,141.9 L474.8,141.8 L475.7,141.8 L476.5,141.7 L477.3,141.6 L478.2,141.5 L479.0,141.5 L479.9,141.4 L480.7,141.3 L481.6,141.2 L482.4,141.2 L483.2,141.1 L484.1,141.2 L484.9,141.2 L485.8,141.3 L486.6,141.4 L487.5,141.6 L488.3,141.8 L489.2,142.1 L490.0,142.3 L490.8,142.6 L491.7,142.8 L492.5,143.1 L493.4,143.3 L494.2,143.6 L495.1,143.8 L495.9,144.1 L496.7,144.4 L497.6,144.7 L498.4,145.0 L499.3,145.5 L500.1,145.9 L501.0,146.5 L501.8,147.1 L502.7,147.8 L503.5,148.6 L504.3,149.5 L505.2,150.5 L506.0,151.5 L506.9,152.6 L507.7,153.7 L508.6,154.8 L509.4,156.0 L510.2,157.2 L511.1,158.4 L511.9,159.5 L512.8,160.7 L513.6,161.8 L514.5,163.0 L515.3,164.1 L516.2,165.3 L517.0,166.4" fill="none" stroke="#1818c8" stroke-width="1.3" stroke-linejoin="round"/>
<rect x="441.90" y="44.50" width="75.10" height="132.10" stroke="#000" stroke-width="1.3" fill="none"/>
<line x1="441.90" y1="166.44" x2="444.70" y2="166.44" stroke="#000" stroke-width="1.2"/>
<line x1="514.20" y1="166.44" x2="517.00" y2="166.44" stroke="#000" stroke-width="1.2"/>
<text transform="translate(438.10,169.84) scale(0.82,1)" font-family="'Liberation Serif', 'Times New Roman', serif" font-size="9.4" font-weight="bold" text-anchor="end" fill="#000" stroke="#000" stroke-width="0.1">0</text>
<line x1="441.90" y1="146.12" x2="444.70" y2="146.12" stroke="#000" stroke-width="1.2"/>
<line x1="514.20" y1="146.12" x2="517.00" y2="146.12" stroke="#000" stroke-width="1.2"/>
<text transform="translate(438.10,149.52) scale(0.82,1)" font-family="'Liberation Serif', 'Times New Roman', serif" font-size="9.4" font-weight="bold" text-anchor="end" fill="#000" stroke="#000" stroke-width="0.1">10</text>
<line x1="441.90" y1="125.79" x2="444.70" y2="125.79" stroke="#000" stroke-width="1.2"/>
<line x1="514.20" y1="125.79" x2="517.00" y2="125.79" stroke="#000" stroke-width="1.2"/>
<text transform="translate(438.10,129.19) scale(0.82,1)" font-family="'Liberation Serif', 'Times New Roman', serif" font-size="9.4" font-weight="bold" text-anchor="end" fill="#000" stroke="#000" stroke-width="0.1">20</text>
<line x1="441.90" y1="105.47" x2="444.70" y2="105.47" stroke="#000" stroke-width="1.2"/>
<line x1="514.20" y1="105.47" x2="517.00" y2="105.47" stroke="#000" stroke-width="1.2"/>
<text transform="translate(438.10,108.87) scale(0.82,1)" font-family="'Liberation Serif', 'Times New Roman', serif" font-size="9.4" font-weight="bold" text-anchor="end" fill="#000" stroke="#000" stroke-width="0.1">30</text>
<line x1="441.90" y1="85.15" x2="444.70" y2="85.15" stroke="#000" stroke-width="1.2"/>
<line x1="514.20" y1="85.15" x2="517.00" y2="85.15" stroke="#000" stroke-width="1.2"/>
<text transform="translate(438.10,88.55) scale(0.82,1)" font-family="'Liberation Serif', 'Times New Roman', serif" font-size="9.4" font-weight="bold" text-anchor="end" fill="#000" stroke="#000" stroke-width="0.1">40</text>
<line x1="441.90" y1="64.82" x2="444.70" y2="64.82" stroke="#000" stroke-width="1.2"/>
<line x1="514.20" y1="64.82" x2="517.00" y2="64.82" stroke="#000" stroke-width="1.2"/>
<text transform="translate(438.10,68.22) scale(0.82,1)" font-family="'Liberation Serif', 'Times New Roman', serif" font-size="9.4" font-weight="bold" text-anchor="end" fill="#000" stroke="#000" stroke-width="0.1">50</text>
<text transform="translate(438.10,47.90) scale(0.82,1)" font-family="'Liberation Serif', 'Times New Roman', serif" font-size="9.4" font-weight="bold" text-anchor="end" fill="#000" stroke="#000" stroke-width="0.1">60</text>
<text transform="translate(442.90,185.90) scale(0.95,1)" font-family="'Liberation Serif', 'Times New Roman', serif" font-size="9.0" font-weight="normal" text-anchor="middle" fill="#000" stroke="#000" stroke-width="0.15">Γ</text>
<text transform="translate(467.79,185.90) scale(0.95,1)" font-family="'Liberation Serif', 'Times New Roman', serif" font-size="9.0" font-weight="normal" text-anchor="middle" fill="#000" stroke="#000" stroke-width="0.15">M</text>
<text transform="translate(486.75,185.90) scale(0.95,1)" font-family="'Liberation Serif', 'Times New Roman', serif" font-size="9.0" font-weight="normal" text-anchor="middle" fill="#000" stroke="#000" stroke-width="0.15">K</text>
<text transform="translate(514.70,185.90) scale(0.95,1)" font-family="'Liberation Serif', 'Times New Roman', serif" font-size="9.0" font-weight="normal" text-anchor="middle" fill="#000" stroke="#000" stroke-width="0.15">Γ</text>
<text transform="translate(425.20,106.97) rotate(-90)" font-family="'Liberation Serif', 'Times New Roman', serif" font-size="11.2" font-weight="bold" text-anchor="middle" fill="#000">Frequency (THz)</text>
<text transform="translate(485.20,53.50) scale(0.95,1)" font-family="'Liberation Serif', 'Times New Roman', serif" font-size="9.2" font-weight="bold" text-anchor="start" fill="#000" stroke="#000" stroke-width="0.3">(f)</text>
<text transform="translate(488.60,106.50) scale(0.88,1)" font-family="'Liberation Serif', 'Times New Roman', serif" font-size="9.6" font-weight="bold" text-anchor="start" fill="#000" stroke="#000" stroke-width="0.25">HBL 3</text>
<line x1="263.67" y1="191.90" x2="263.67" y2="323.80" stroke="#333" stroke-width="0.9" stroke-dasharray="2.4,2.6"/>
<line x1="279.87" y1="191.90" x2="279.87" y2="323.80" stroke="#333" stroke-width="0.9" stroke-dasharray="2.4,2.6"/>
<line x1="235.60" y1="313.65" x2="312.30" y2="313.65" stroke="#333" stroke-width="0.9" stroke-dasharray="2.4,2.6"/>
<rect x="280.50" y="190.50" width="11.58" height="8.74" fill="#fff"/>
<path d="M235.6,201.0 L236.5,201.2 L237.3,201.3 L238.2,201.5 L239.0,201.7 L239.9,201.9 L240.8,202.1 L241.6,202.4 L242.5,202.7 L243.4,203.0 L244.2,203.4 L245.1,203.8 L245.9,204.3 L246.8,204.8 L247.7,205.4 L248.5,206.0 L249.4,206.6 L250.3,207.2 L251.1,207.8 L252.0,208.4 L252.8,209.0 L253.7,209.5 L254.6,210.0 L255.4,210.5 L256.3,210.9 L257.1,211.3 L258.0,211.7 L258.9,212.0 L259.7,212.3 L260.6,212.6 L261.5,212.8 L262.3,213.1 L263.2,213.3 L264.0,213.5 L264.9,213.7 L265.8,213.9 L266.6,214.1 L267.5,214.3 L268.3,214.5 L269.2,214.6 L270.1,214.8 L270.9,214.9 L271.8,215.0 L272.7,215.1 L273.5,215.2 L274.4,215.3 L275.2,215.3 L276.1,215.3 L277.0,215.3 L277.8,215.3 L278.7,215.2 L279.6,215.1 L280.4,214.9 L281.3,214.8 L282.1,214.6 L283.0,214.4 L283.9,214.1 L284.7,213.8 L285.6,213.5 L286.4,213.1 L287.3,212.8 L288.2,212.4 L289.0,211.9 L289.9,211.5 L290.8,211.0 L291.6,210.5 L292.5,210.0 L293.3,209.5 L294.2,208.9 L295.1,208.3 L295.9,207.8 L296.8,207.2 L297.6,206.7 L298.5,206.2 L299.4,205.7 L300.2,205.2 L301.1,204.7 L302.0,204.3 L302.8,203.9 L303.7,203.5 L304.5,203.2 L305.4,202.9 L306.3,202.6 L307.1,202.4 L308.0,202.1 L308.9,201.9 L309.7,201.7 L310.6,201.4 L311.4,201.2 L312.3,201.0" fill="none" stroke="#1818c8" stroke-width="1.3" stroke-linejoin="round"/>
<path d="M235.6,201.0 L236.5,201.2 L237.3,201.4 L238.2,201.6 L239.0,201.8 L239.9,202.1 L240.8,202.3 L241.6,202.6 L242.5,203.0 L243.4,203.3 L244.2,203.8 L245.1,204.2 L245.9,204.8 L246.8,205.3 L247.7,205.9 L248.5,206.5 L249.4,207.2 L250.3,207.8 L251.1,208.5 L252.0,209.2 L252.8,209.8 L253.7,210.4 L254.6,211.0 L255.4,211.6 L256.3,212.1 L257.1,212.6 L258.0,213.1 L258.9,213.5 L259.7,213.9 L260.6,214.3 L261.5,214.7 L262.3,215.1 L263.2,215.4 L264.0,215.8 L264.9,216.1 L265.8,216.5 L266.6,216.8 L267.5,217.1 L268.3,217.4 L269.2,217.7 L270.1,218.0 L270.9,218.2 L271.8,218.4 L272.7,218.6 L273.5,218.8 L274.4,218.9 L275.2,219.0 L276.1,219.0 L277.0,219.0 L277.8,219.0 L278.7,218.9 L279.6,218.8 L280.4,218.6 L281.3,218.3 L282.1,218.0 L283.0,217.7 L283.9,217.3 L284.7,216.9 L285.6,216.4 L286.4,216.0 L287.3,215.4 L288.2,214.9 L289.0,214.3 L289.9,213.7 L290.8,213.1 L291.6,212.4 L292.5,211.7 L293.3,211.1 L294.2,210.4 L295.1,209.7 L295.9,209.0 L296.8,208.4 L297.6,207.7 L298.5,207.1 L299.4,206.5 L300.2,205.9 L301.1,205.4 L302.0,204.9 L302.8,204.4 L303.7,204.0 L304.5,203.6 L305.4,203.2 L306.3,202.9 L307.1,202.6 L308.0,202.3 L308.9,202.0 L309.7,201.8 L310.6,201.5 L311.4,201.3 L312.3,201.0" fill="none" stroke="#1818c8" stroke-width="1.3" stroke-linejoin="round"/>
<path d="M235.6,216.0 L236.5,216.1 L237.3,216.2 L238.2,216.3 L239.0,216.5 L239.9,216.6 L240.8,216.7 L241.6,216.9 L242.5,217.1 L243.4,217.3 L244.2,217.5 L245.1,217.8 L245.9,218.0 L246.8,218.4 L247.7,218.7 L248.5,219.0 L249.4,219.4 L250.3,219.7 L251.1,220.0 L252.0,220.3 L252.8,220.6 L253.7,220.9 L254.6,221.1 L255.4,221.2 L256.3,221.4 L257.1,221.5 L258.0,221.5 L258.9,221.6 L259.7,221.6 L260.6,221.6 L261.5,221.6 L262.3,221.7 L263.2,221.7 L264.0,221.8 L264.9,221.8 L265.8,221.9 L266.6,222.0 L267.5,222.2 L268.3,222.3 L269.2,222.4 L270.1,222.6 L270.9,222.7 L271.8,222.9 L272.7,223.0 L273.5,223.2 L274.4,223.3 L275.2,223.4 L276.1,223.5 L277.0,223.6 L277.8,223.7 L278.7,223.7 L279.6,223.8 L280.4,223.8 L281.3,223.7 L282.1,223.7 L283.0,223.6 L283.9,223.5 L284.7,223.3 L285.6,223.2 L286.4,223.0 L287.3,222.8 L288.2,222.6 L289.0,222.4 L289.9,222.1 L290.8,221.9 L291.6,221.6 L292.5,221.3 L293.3,221.0 L294.2,220.8 L295.1,220.5 L295.9,220.1 L296.8,219.8 L297.6,219.5 L298.5,219.2 L299.4,218.9 L300.2,218.6 L301.1,218.3 L302.0,218.1 L302.8,217.8 L303.7,217.5 L304.5,217.3 L305.4,217.1 L306.3,216.9 L307.1,216.7 L308.0,216.5 L308.9,216.3 L309.7,216.1 L310.6,216.0 L311.4,215.8 L312.3,215.6" fill="none" stroke="#1818c8" stroke-width="1.3" stroke-linejoin="round"/>
<path d="M235.6,223.6 L236.5,223.8 L237.3,224.0 L238.2,224.2 L239.0,224.5 L239.9,224.8 L240.8,225.1 L241.6,225.5 L242.5,225.9 L243.4,226.3 L244.2,226.7 L245.1,227.1 L245.9,227.6 L246.8,228.0 L247.7,228.3 L248.5,228.6 L249.4,228.9 L250.3,229.2 L251.1,229.4 L252.0,229.6 L252.8,229.8 L253.7,229.9 L254.6,230.0 L255.4,230.1 L256.3,230.2 L257.1,230.2 L258.0,230.3 L258.9,230.3 L259.7,230.2 L260.6,230.2 L261.5,230.1 L262.3,230.0 L263.2,229.9 L264.0,229.8 L264.9,229.6 L265.8,229.4 L266.6,229.2 L267.5,229.0 L268.3,228.7 L269.2,228.5 L270.1,228.2 L270.9,227.9 L271.8,227.6 L272.7,227.2 L273.5,226.9 L274.4,226.5 L275.2,226.2 L276.1,225.9 L277.0,225.6 L277.8,225.4 L278.7,225.2 L279.6,225.0 L280.4,224.9 L281.3,224.9 L282.1,224.9 L283.0,225.0 L283.9,225.1 L284.7,225.2 L285.6,225.4 L286.4,225.5 L287.3,225.7 L288.2,225.9 L289.0,226.0 L289.9,226.2 L290.8,226.3 L291.6,226.5 L292.5,226.7 L293.3,226.8 L294.2,227.0 L295.1,227.3 L295.9,227.5 L296.8,227.8 L297.6,228.0 L298.5,228.3 L299.4,228.6 L300.2,228.9 L301.1,229.2 L302.0,229.5 L302.8,229.8 L303.7,230.0 L304.5,230.3 L305.4,230.5 L306.3,230.7 L307.1,230.9 L308.0,231.1 L308.9,231.3 L309.7,231.5 L310.6,231.7 L311.4,231.9 L312.3,232.1" fill="none" stroke="#1818c8" stroke-width="1.3" stroke-linejoin="round"/>
<path d="M235.6,232.1 L236.5,231.8 L237.3,231.6 L238.2,231.4 L239.0,231.1 L239.9,230.8 L240.8,230.5 L241.6,230.2 L242.5,229.9 L243.4,229.5 L244.2,229.2 L245.1,228.8 L245.9,228.4 L246.8,228.1 L247.7,227.7 L248.5,227.4 L249.4,227.1 L250.3,226.8 L251.1,226.5 L252.0,226.2 L252.8,226.0 L253.7,225.8 L254.6,225.6 L255.4,225.5 L256.3,225.3 L257.1,225.2 L258.0,225.2 L258.9,225.1 L259.7,225.1 L260.6,225.0 L261.5,225.0 L262.3,225.0 L263.2,225.0 L264.0,225.0 L264.9,225.0 L265.8,224.9 L266.6,224.9 L267.5,224.9 L268.3,224.9 L269.2,224.9 L270.1,224.8 L270.9,224.8 L271.8,224.8 L272.7,224.7 L273.5,224.7 L274.4,224.7 L275.2,224.6 L276.1,224.6 L277.0,224.6 L277.8,224.7 L278.7,224.7 L279.6,224.7 L280.4,224.8 L281.3,224.9 L282.1,225.1 L283.0,225.2 L283.9,225.4 L284.7,225.5 L285.6,225.7 L286.4,225.9 L287.3,226.1 L288.2,226.3 L289.0,226.5 L289.9,226.6 L290.8,226.8 L291.6,227.0 L292.5,227.2 L293.3,227.4 L294.2,227.6 L295.1,227.9 L295.9,228.1 L296.8,228.4 L297.6,228.6 L298.5,228.9 L299.4,229.2 L300.2,229.4 L301.1,229.7 L302.0,229.9 L302.8,230.2 L303.7,230.4 L304.5,230.6 L305.4,230.8 L306.3,231.0 L307.1,231.2 L308.0,231.3 L308.9,231.5 L309.7,231.6 L310.6,231.8 L311.4,231.9 L312.3,232.1" fill="none" stroke="#1818c8" stroke-width="1.3" stroke-linejoin="round"/>
<path d="M235.6,232.1 L236.5,232.1 L237.3,232.1 L238.2,232.1 L239.0,232.1 L239.9,232.0 L240.8,232.0 L241.6,232.0 L242.5,232.0 L243.4,231.9 L244.2,231.9 L245.1,231.9 L245.9,231.8 L246.8,231.7 L247.7,231.7 L248.5,231.6 L249.4,231.5 L250.3,231.5 L251.1,231.4 L252.0,231.4 L252.8,231.3 L253.7,231.3 L254.6,231.3 L255.4,231.3 L256.3,231.3 L257.1,231.3 L258.0,231.4 L258.9,231.4 L259.7,231.5 L260.6,231.6 L261.5,231.7 L262.3,231.8 L263.2,232.0 L264.0,232.1 L264.9,232.3 L265.8,232.5 L266.6,232.7 L267.5,232.9 L268.3,233.2 L269.2,233.4 L270.1,233.6 L270.9,233.9 L271.8,234.2 L272.7,234.4 L273.5,234.7 L274.4,234.9 L275.2,235.2 L276.1,235.4 L277.0,235.5 L277.8,235.7 L278.7,235.7 L279.6,235.7 L280.4,235.7 L281.3,235.6 L282.1,235.4 L283.0,235.2 L283.9,234.9 L284.7,234.6 L285.6,234.2 L286.4,233.8 L287.3,233.4 L288.2,233.0 L289.0,232.6 L289.9,232.2 L290.8,231.7 L291.6,231.3 L292.5,230.9 L293.3,230.4 L294.2,230.0 L295.1,229.6 L295.9,229.1 L296.8,228.7 L297.6,228.3 L298.5,227.9 L299.4,227.5 L300.2,227.1 L301.1,226.7 L302.0,226.3 L302.8,225.9 L303.7,225.6 L304.5,225.2 L305.4,224.9 L306.3,224.6 L307.1,224.3 L308.0,224.0 L308.9,223.7 L309.7,223.4 L310.6,223.1 L311.4,222.8 L312.3,222.5" fill="none" stroke="#1818c8" stroke-width="1.3" stroke-linejoin="round"/>
<path d="M235.6,238.6 L236.5,238.4 L237.3,238.2 L238.2,238.0 L239.0,237.8 L239.9,237.6 L240.8,237.3 L241.6,237.1 L242.5,236.7 L243.4,236.4 L244.2,236.0 L245.1,235.7 L245.9,235.4 L246.8,235.1 L247.7,234.9 L248.5,234.8 L249.4,234.8 L250.3,234.9 L251.1,235.2 L252.0,235.7 L252.8,236.2 L253.7,236.9 L254.6,237.6 L255.4,238.3 L256.3,239.1 L257.1,239.8 L258.0,240.6 L258.9,241.2 L259.7,241.8 L260.6,242.4 L261.5,242.8 L262.3,243.1 L263.2,243.2 L264.0,243.2 L264.9,243.1 L265.8,242.8 L266.6,242.4 L267.5,241.9 L268.3,241.3 L269.2,240.7 L270.1,240.1 L270.9,239.5 L271.8,238.9 L272.7,238.3 L273.5,237.8 L274.4,237.3 L275.2,236.9 L276.1,236.5 L277.0,236.2 L277.8,236.0 L278.7,235.8 L279.6,235.7 L280.4,235.7 L281.3,235.8 L282.1,235.9 L283.0,236.1 L283.9,236.3 L284.7,236.5 L285.6,236.7 L286.4,236.9 L287.3,237.1 L288.2,237.3 L289.0,237.4 L289.9,237.4 L290.8,237.4 L291.6,237.4 L292.5,237.3 L293.3,237.2 L294.2,237.1 L295.1,237.0 L295.9,236.8 L296.8,236.7 L297.6,236.6 L298.5,236.5 L299.4,236.4 L300.2,236.3 L301.1,236.3 L302.0,236.4 L302.8,236.5 L303.7,236.6 L304.5,236.7 L305.4,236.9 L306.3,237.2 L307.1,237.4 L308.0,237.7 L308.9,237.9 L309.7,238.2 L310.6,238.5 L311.4,238.9 L312.3,239.2" fill="none" stroke="#1818c8" stroke-width="1.3" stroke-linejoin="round"/>
<path d="M235.6,313.7 L236.5,310.9 L237.3,308.1 L238.2,305.4 L239.0,302.6 L239.9,299.9 L240.8,297.1 L241.6,294.3 L242.5,291.6 L243.4,288.8 L244.2,286.1 L245.1,283.5 L245.9,281.0 L246.8,278.6 L247.7,276.4 L248.5,274.4 L249.4,272.6 L250.3,270.9 L251.1,269.4 L252.0,268.0 L252.8,266.6 L253.7,265.4 L254.6,264.1 L255.4,263.0 L256.3,261.8 L257.1,260.8 L258.0,259.8 L258.9,258.9 L259.7,258.2 L260.6,257.5 L261.5,256.9 L262.3,256.5 L263.2,256.2 L264.0,256.0 L264.9,255.9 L265.8,255.9 L266.6,256.0 L267.5,256.1 L268.3,256.4 L269.2,256.6 L270.1,256.9 L270.9,257.2 L271.8,257.5 L272.7,257.8 L273.5,258.0 L274.4,258.3 L275.2,258.5 L276.1,258.7 L277.0,258.9 L277.8,259.1 L278.7,259.3 L279.6,259.4 L280.4,259.6 L281.3,259.7 L282.1,259.8 L283.0,259.9 L283.9,260.1 L284.7,260.3 L285.6,260.5 L286.4,260.7 L287.3,261.0 L288.2,261.4 L289.0,261.9 L289.9,262.4 L290.8,263.1 L291.6,263.8 L292.5,264.7 L293.3,265.7 L294.2,266.7 L295.1,267.9 L295.9,269.2 L296.8,270.5 L297.6,271.9 L298.5,273.3 L299.4,274.8 L300.2,276.3 L301.1,277.9 L302.0,279.6 L302.8,281.4 L303.7,283.4 L304.5,285.6 L305.4,288.0 L306.3,290.7 L307.1,293.5 L308.0,296.5 L308.9,299.7 L309.7,303.1 L310.6,306.5 L311.4,310.1 L312.3,313.7" fill="none" stroke="#1818c8" stroke-width="1.3" stroke-linejoin="round"/>
<path d="M235.6,313.7 L236.5,311.1 L237.3,308.6 L238.2,306.1 L239.0,303.8 L239.9,301.7 L240.8,299.7 L241.6,298.0 L242.5,296.5 L243.4,295.0 L244.2,293.7 L245.1,292.4 L245.9,291.1 L246.8,289.8 L247.7,288.5 L248.5,287.3 L249.4,286.1 L250.3,285.0 L251.1,284.0 L252.0,283.1 L252.8,282.3 L253.7,281.6 L254.6,281.0 L255.4,280.6 L256.3,280.2 L257.1,279.8 L258.0,279.6 L258.9,279.5 L259.7,279.3 L260.6,279.2 L261.5,279.1 L262.3,278.9 L263.2,278.7 L264.0,278.4 L264.9,278.0 L265.8,277.5 L266.6,276.9 L267.5,276.3 L268.3,275.6 L269.2,274.8 L270.1,274.0 L270.9,273.2 L271.8,272.3 L272.7,271.4 L273.5,270.5 L274.4,269.7 L275.2,268.9 L276.1,268.2 L277.0,267.6 L277.8,267.1 L278.7,266.8 L279.6,266.6 L280.4,266.6 L281.3,266.8 L282.1,267.2 L283.0,267.8 L283.9,268.5 L284.7,269.3 L285.6,270.1 L286.4,271.1 L287.3,272.1 L288.2,273.1 L289.0,274.2 L289.9,275.3 L290.8,276.4 L291.6,277.5 L292.5,278.7 L293.3,279.9 L294.2,281.1 L295.1,282.4 L295.9,283.7 L296.8,285.0 L297.6,286.4 L298.5,287.8 L299.4,289.3 L300.2,290.7 L301.1,292.2 L302.0,293.7 L302.8,295.3 L303.7,296.9 L304.5,298.5 L305.4,300.1 L306.3,301.7 L307.1,303.4 L308.0,305.1 L308.9,306.8 L309.7,308.5 L310.6,310.2 L311.4,311.9 L312.3,313.7" fill="none" stroke="#1818c8" stroke-width="1.3" stroke-linejoin="round"/>
<path d="M235.6,313.7 L236.5,311.2 L237.3,308.8 L238.2,306.5 L239.0,304.3 L239.9,302.2 L240.8,300.4 L241.6,298.7 L242.5,297.2 L243.4,295.9 L244.2,294.6 L245.1,293.4 L245.9,292.2 L246.8,291.1 L247.7,289.9 L248.5,288.8 L249.4,287.8 L250.3,286.8 L251.1,285.9 L252.0,285.0 L252.8,284.3 L253.7,283.6 L254.6,282.9 L255.4,282.3 L256.3,281.8 L257.1,281.4 L258.0,281.0 L258.9,280.7 L259.7,280.4 L260.6,280.2 L261.5,280.0 L262.3,279.8 L263.2,279.6 L264.0,279.5 L264.9,279.4 L265.8,279.2 L266.6,279.1 L267.5,279.0 L268.3,278.9 L269.2,278.8 L270.1,278.7 L270.9,278.6 L271.8,278.5 L272.7,278.5 L273.5,278.4 L274.4,278.4 L275.2,278.4 L276.1,278.4 L277.0,278.4 L277.8,278.5 L278.7,278.6 L279.6,278.7 L280.4,278.9 L281.3,279.1 L282.1,279.3 L283.0,279.6 L283.9,280.0 L284.7,280.3 L285.6,280.7 L286.4,281.0 L287.3,281.4 L288.2,281.8 L289.0,282.3 L289.9,282.7 L290.8,283.2 L291.6,283.7 L292.5,284.3 L293.3,285.0 L294.2,285.7 L295.1,286.5 L295.9,287.4 L296.8,288.5 L297.6,289.6 L298.5,290.9 L299.4,292.2 L300.2,293.7 L301.1,295.2 L302.0,296.7 L302.8,298.3 L303.7,299.9 L304.5,301.5 L305.4,303.0 L306.3,304.5 L307.1,305.9 L308.0,307.3 L308.9,308.6 L309.7,309.9 L310.6,311.2 L311.4,312.4 L312.3,313.7" fill="none" stroke="#1818c8" stroke-width="1.3" stroke-linejoin="round"/>
<path d="M235.6,313.7 L236.5,311.7 L237.3,309.8 L238.2,308.0 L239.0,306.2 L239.9,304.5 L240.8,302.9 L241.6,301.4 L242.5,300.0 L243.4,298.7 L244.2,297.4 L245.1,296.2 L245.9,295.1 L246.8,294.0 L247.7,293.0 L248.5,292.0 L249.4,291.1 L250.3,290.2 L251.1,289.3 L252.0,288.6 L252.8,287.9 L253.7,287.2 L254.6,286.6 L255.4,286.1 L256.3,285.7 L257.1,285.3 L258.0,285.0 L258.9,284.8 L259.7,284.6 L260.6,284.5 L261.5,284.4 L262.3,284.2 L263.2,284.1 L264.0,284.0 L264.9,283.8 L265.8,283.6 L266.6,283.3 L267.5,283.1 L268.3,282.8 L269.2,282.5 L270.1,282.2 L270.9,281.9 L271.8,281.5 L272.7,281.2 L273.5,280.8 L274.4,280.5 L275.2,280.2 L276.1,280.0 L277.0,279.8 L277.8,279.7 L278.7,279.7 L279.6,279.7 L280.4,279.9 L281.3,280.2 L282.1,280.5 L283.0,281.0 L283.9,281.4 L284.7,281.9 L285.6,282.5 L286.4,283.0 L287.3,283.5 L288.2,283.9 L289.0,284.4 L289.9,284.8 L290.8,285.2 L291.6,285.7 L292.5,286.2 L293.3,286.7 L294.2,287.3 L295.1,288.0 L295.9,288.9 L296.8,289.8 L297.6,290.8 L298.5,292.0 L299.4,293.3 L300.2,294.7 L301.1,296.2 L302.0,297.7 L302.8,299.3 L303.7,300.8 L304.5,302.4 L305.4,303.8 L306.3,305.3 L307.1,306.6 L308.0,307.9 L308.9,309.1 L309.7,310.3 L310.6,311.4 L311.4,312.5 L312.3,313.7" fill="none" stroke="#1818c8" stroke-width="1.3" stroke-linejoin="round"/>
<path d="M235.6,313.7 L236.5,312.1 L237.3,310.6 L238.2,309.2 L239.0,307.8 L239.9,306.5 L240.8,305.3 L241.6,304.2 L242.5,303.2 L243.4,302.3 L244.2,301.4 L245.1,300.5 L245.9,299.6 L246.8,298.7 L247.7,297.8 L248.5,296.9 L249.4,296.0 L250.3,295.2 L251.1,294.4 L252.0,293.8 L252.8,293.2 L253.7,292.6 L254.6,292.1 L255.4,291.7 L256.3,291.3 L257.1,291.0 L258.0,290.7 L258.9,290.4 L259.7,290.2 L260.6,290.0 L261.5,289.8 L262.3,289.7 L263.2,289.6 L264.0,289.5 L264.9,289.4 L265.8,289.3 L266.6,289.2 L267.5,289.2 L268.3,289.1 L269.2,289.1 L270.1,289.0 L270.9,289.0 L271.8,288.9 L272.7,288.8 L273.5,288.7 L274.4,288.6 L275.2,288.5 L276.1,288.5 L277.0,288.4 L277.8,288.4 L278.7,288.4 L279.6,288.5 L280.4,288.6 L281.3,288.7 L282.1,288.9 L283.0,289.1 L283.9,289.3 L284.7,289.6 L285.6,289.8 L286.4,290.1 L287.3,290.3 L288.2,290.6 L289.0,290.8 L289.9,291.1 L290.8,291.3 L291.6,291.6 L292.5,291.9 L293.3,292.3 L294.2,292.7 L295.1,293.2 L295.9,293.7 L296.8,294.3 L297.6,295.1 L298.5,295.9 L299.4,296.7 L300.2,297.7 L301.1,298.7 L302.0,299.8 L302.8,300.9 L303.7,302.1 L304.5,303.2 L305.4,304.4 L306.3,305.6 L307.1,306.8 L308.0,307.9 L308.9,309.1 L309.7,310.2 L310.6,311.4 L311.4,312.5 L312.3,313.7" fill="none" stroke="#1818c8" stroke-width="1.3" stroke-linejoin="round"/>
<rect x="235.60" y="191.90" width="76.70" height="131.90" stroke="#000" stroke-width="1.3" fill="none"/>
<line x1="235.60" y1="313.65" x2="238.40" y2="313.65" stroke="#000" stroke-width="1.2"/>
<line x1="309.50" y1="313.65" x2="312.30" y2="313.65" stroke="#000" stroke-width="1.2"/>
<text transform="translate(231.80,317.05) scale(0.82,1)" font-family="'Liberation Serif', 'Times New Roman', serif" font-size="9.4" font-weight="bold" text-anchor="end" fill="#000" stroke="#000" stroke-width="0.1">0</text>
<line x1="235.60" y1="293.36" x2="238.40" y2="293.36" stroke="#000" stroke-width="1.2"/>
<line x1="309.50" y1="293.36" x2="312.30" y2="293.36" stroke="#000" stroke-width="1.2"/>
<text transform="translate(231.80,296.76) scale(0.82,1)" font-family="'Liberation Serif', 'Times New Roman', serif" font-size="9.4" font-weight="bold" text-anchor="end" fill="#000" stroke="#000" stroke-width="0.1">10</text>
<line x1="235.60" y1="273.07" x2="238.40" y2="273.07" stroke="#000" stroke-width="1.2"/>
<line x1="309.50" y1="273.07" x2="312.30" y2="273.07" stroke="#000" stroke-width="1.2"/>
<text transform="translate(231.80,276.47) scale(0.82,1)" font-family="'Liberation Serif', 'Times New Roman', serif" font-size="9.4" font-weight="bold" text-anchor="end" fill="#000" stroke="#000" stroke-width="0.1">20</text>
<line x1="235.60" y1="252.78" x2="238.40" y2="252.78" stroke="#000" stroke-width="1.2"/>
<line x1="309.50" y1="252.78" x2="312.30" y2="252.78" stroke="#000" stroke-width="1.2"/>
<text transform="translate(231.80,256.18) scale(0.82,1)" font-family="'Liberation Serif', 'Times New Roman', serif" font-size="9.4" font-weight="bold" text-anchor="end" fill="#000" stroke="#000" stroke-width="0.1">30</text>
<line x1="235.60" y1="232.48" x2="238.40" y2="232.48" stroke="#000" stroke-width="1.2"/>
<line x1="309.50" y1="232.48" x2="312.30" y2="232.48" stroke="#000" stroke-width="1.2"/>
<text transform="translate(231.80,235.88) scale(0.82,1)" font-family="'Liberation Serif', 'Times New Roman', serif" font-size="9.4" font-weight="bold" text-anchor="end" fill="#000" stroke="#000" stroke-width="0.1">40</text>
<line x1="235.60" y1="212.19" x2="238.40" y2="212.19" stroke="#000" stroke-width="1.2"/>
<line x1="309.50" y1="212.19" x2="312.30" y2="212.19" stroke="#000" stroke-width="1.2"/>
<text transform="translate(231.80,215.59) scale(0.82,1)" font-family="'Liberation Serif', 'Times New Roman', serif" font-size="9.4" font-weight="bold" text-anchor="end" fill="#000" stroke="#000" stroke-width="0.1">50</text>
<text transform="translate(231.80,195.30) scale(0.82,1)" font-family="'Liberation Serif', 'Times New Roman', serif" font-size="9.4" font-weight="bold" text-anchor="end" fill="#000" stroke="#000" stroke-width="0.1">60</text>
<text transform="translate(236.60,333.10) scale(0.95,1)" font-family="'Liberation Serif', 'Times New Roman', serif" font-size="9.0" font-weight="normal" text-anchor="middle" fill="#000" stroke="#000" stroke-width="0.15">Γ</text>
<text transform="translate(262.07,333.10) scale(0.95,1)" font-family="'Liberation Serif', 'Times New Roman', serif" font-size="9.0" font-weight="normal" text-anchor="middle" fill="#000" stroke="#000" stroke-width="0.15">M</text>
<text transform="translate(281.37,333.10) scale(0.95,1)" font-family="'Liberation Serif', 'Times New Roman', serif" font-size="9.0" font-weight="normal" text-anchor="middle" fill="#000" stroke="#000" stroke-width="0.15">K</text>
<text transform="translate(310.00,333.10) scale(0.95,1)" font-family="'Liberation Serif', 'Times New Roman', serif" font-size="9.0" font-weight="normal" text-anchor="middle" fill="#000" stroke="#000" stroke-width="0.15">Γ</text>
<text transform="translate(218.60,254.58) rotate(-90)" font-family="'Liberation Serif', 'Times New Roman', serif" font-size="11.2" font-weight="bold" text-anchor="middle" fill="#000">Frequency (THz)</text>
<text transform="translate(281.00,197.40) scale(0.95,1)" font-family="'Liberation Serif', 'Times New Roman', serif" font-size="9.2" font-weight="bold" text-anchor="start" fill="#000" stroke="#000" stroke-width="0.3">(g)</text>
<text transform="translate(282.00,251.90) scale(0.88,1)" font-family="'Liberation Serif', 'Times New Roman', serif" font-size="9.6" font-weight="bold" text-anchor="start" fill="#000" stroke="#000" stroke-width="0.25">HBL 4</text>
<line x1="367.59" y1="191.70" x2="367.59" y2="321.30" stroke="#333" stroke-width="0.9" stroke-dasharray="2.4,2.6"/>
<line x1="383.45" y1="191.70" x2="383.45" y2="321.30" stroke="#333" stroke-width="0.9" stroke-dasharray="2.4,2.6"/>
<line x1="340.10" y1="311.33" x2="415.20" y2="311.33" stroke="#333" stroke-width="0.9" stroke-dasharray="2.4,2.6"/>
<rect x="384.30" y="191.40" width="11.58" height="8.74" fill="#fff"/>
<path d="M340.1,200.7 L340.9,200.8 L341.8,201.0 L342.6,201.1 L343.5,201.3 L344.3,201.5 L345.2,201.7 L346.0,202.0 L346.9,202.3 L347.7,202.6 L348.5,203.0 L349.4,203.4 L350.2,203.9 L351.1,204.4 L351.9,204.9 L352.8,205.5 L353.6,206.1 L354.4,206.7 L355.3,207.3 L356.1,207.9 L357.0,208.5 L357.8,209.0 L358.7,209.5 L359.5,210.0 L360.4,210.4 L361.2,210.8 L362.0,211.1 L362.9,211.5 L363.7,211.7 L364.6,212.0 L365.4,212.3 L366.3,212.5 L367.1,212.7 L367.9,212.9 L368.8,213.1 L369.6,213.3 L370.5,213.5 L371.3,213.7 L372.2,213.9 L373.0,214.0 L373.9,214.2 L374.7,214.3 L375.5,214.4 L376.4,214.5 L377.2,214.6 L378.1,214.7 L378.9,214.7 L379.8,214.7 L380.6,214.7 L381.4,214.6 L382.3,214.6 L383.1,214.5 L384.0,214.3 L384.8,214.2 L385.7,214.0 L386.5,213.8 L387.4,213.5 L388.2,213.2 L389.0,212.9 L389.9,212.6 L390.7,212.2 L391.6,211.8 L392.4,211.4 L393.3,211.0 L394.1,210.5 L394.9,210.0 L395.8,209.5 L396.6,208.9 L397.5,208.4 L398.3,207.9 L399.2,207.3 L400.0,206.8 L400.9,206.2 L401.7,205.7 L402.5,205.2 L403.4,204.7 L404.2,204.3 L405.1,203.9 L405.9,203.5 L406.8,203.1 L407.6,202.8 L408.4,202.5 L409.3,202.2 L410.1,202.0 L411.0,201.7 L411.8,201.5 L412.7,201.3 L413.5,201.1 L414.4,200.9 L415.2,200.7" fill="none" stroke="#1818c8" stroke-width="1.3" stroke-linejoin="round"/>
<path d="M340.1,200.7 L340.9,200.9 L341.8,201.0 L342.6,201.3 L343.5,201.5 L344.3,201.7 L345.2,202.0 L346.0,202.3 L346.9,202.6 L347.7,202.9 L348.5,203.4 L349.4,203.8 L350.2,204.3 L351.1,204.9 L351.9,205.5 L352.8,206.1 L353.6,206.7 L354.4,207.4 L355.3,208.0 L356.1,208.7 L357.0,209.3 L357.8,209.9 L358.7,210.5 L359.5,211.1 L360.4,211.6 L361.2,212.1 L362.0,212.5 L362.9,212.9 L363.7,213.3 L364.6,213.7 L365.4,214.1 L366.3,214.5 L367.1,214.8 L367.9,215.2 L368.8,215.5 L369.6,215.9 L370.5,216.2 L371.3,216.5 L372.2,216.8 L373.0,217.1 L373.9,217.3 L374.7,217.6 L375.5,217.8 L376.4,217.9 L377.2,218.1 L378.1,218.2 L378.9,218.3 L379.8,218.3 L380.6,218.3 L381.4,218.3 L382.3,218.2 L383.1,218.1 L384.0,217.9 L384.8,217.7 L385.7,217.4 L386.5,217.0 L387.4,216.7 L388.2,216.3 L389.0,215.8 L389.9,215.3 L390.7,214.8 L391.6,214.3 L392.4,213.7 L393.3,213.1 L394.1,212.5 L394.9,211.8 L395.8,211.2 L396.6,210.5 L397.5,209.9 L398.3,209.2 L399.2,208.5 L400.0,207.9 L400.9,207.2 L401.7,206.6 L402.5,206.0 L403.4,205.5 L404.2,204.9 L405.1,204.4 L405.9,204.0 L406.8,203.6 L407.6,203.2 L408.4,202.8 L409.3,202.5 L410.1,202.2 L411.0,201.9 L411.8,201.6 L412.7,201.4 L413.5,201.1 L414.4,200.9 L415.2,200.7" fill="none" stroke="#1818c8" stroke-width="1.3" stroke-linejoin="round"/>
<path d="M340.1,215.4 L340.9,215.5 L341.8,215.6 L342.6,215.7 L343.5,215.8 L344.3,216.0 L345.2,216.1 L346.0,216.3 L346.9,216.4 L347.7,216.6 L348.5,216.9 L349.4,217.1 L350.2,217.4 L351.1,217.7 L351.9,218.0 L352.8,218.3 L353.6,218.7 L354.4,219.0 L355.3,219.3 L356.1,219.6 L357.0,219.9 L357.8,220.2 L358.7,220.4 L359.5,220.5 L360.4,220.7 L361.2,220.7 L362.0,220.8 L362.9,220.9 L363.7,220.9 L364.6,220.9 L365.4,220.9 L366.3,220.9 L367.1,221.0 L367.9,221.0 L368.8,221.1 L369.6,221.2 L370.5,221.3 L371.3,221.4 L372.2,221.6 L373.0,221.7 L373.9,221.9 L374.7,222.0 L375.5,222.1 L376.4,222.3 L377.2,222.4 L378.1,222.6 L378.9,222.7 L379.8,222.8 L380.6,222.9 L381.4,222.9 L382.3,223.0 L383.1,223.0 L384.0,223.0 L384.8,223.0 L385.7,222.9 L386.5,222.8 L387.4,222.7 L388.2,222.6 L389.0,222.4 L389.9,222.3 L390.7,222.1 L391.6,221.9 L392.4,221.6 L393.3,221.4 L394.1,221.2 L394.9,220.9 L395.8,220.6 L396.6,220.3 L397.5,220.1 L398.3,219.8 L399.2,219.5 L400.0,219.2 L400.9,218.9 L401.7,218.6 L402.5,218.3 L403.4,218.0 L404.2,217.7 L405.1,217.4 L405.9,217.1 L406.8,216.9 L407.6,216.6 L408.4,216.4 L409.3,216.2 L410.1,216.0 L411.0,215.8 L411.8,215.7 L412.7,215.5 L413.5,215.3 L414.4,215.2 L415.2,215.0" fill="none" stroke="#1818c8" stroke-width="1.3" stroke-linejoin="round"/>
<path d="M340.1,222.8 L340.9,223.0 L341.8,223.2 L342.6,223.5 L343.5,223.7 L344.3,224.0 L345.2,224.3 L346.0,224.7 L346.9,225.1 L347.7,225.5 L348.5,225.9 L349.4,226.3 L350.2,226.7 L351.1,227.1 L351.9,227.5 L352.8,227.8 L353.6,228.1 L354.4,228.3 L355.3,228.6 L356.1,228.7 L357.0,228.9 L357.8,229.0 L358.7,229.2 L359.5,229.3 L360.4,229.3 L361.2,229.4 L362.0,229.4 L362.9,229.4 L363.7,229.4 L364.6,229.3 L365.4,229.3 L366.3,229.2 L367.1,229.1 L367.9,228.9 L368.8,228.8 L369.6,228.6 L370.5,228.4 L371.3,228.1 L372.2,227.9 L373.0,227.6 L373.9,227.4 L374.7,227.1 L375.5,226.7 L376.4,226.4 L377.2,226.1 L378.1,225.7 L378.9,225.4 L379.8,225.1 L380.6,224.8 L381.4,224.6 L382.3,224.4 L383.1,224.2 L384.0,224.2 L384.8,224.1 L385.7,224.1 L386.5,224.2 L387.4,224.3 L388.2,224.4 L389.0,224.6 L389.9,224.8 L390.7,224.9 L391.6,225.1 L392.4,225.2 L393.3,225.4 L394.1,225.5 L394.9,225.7 L395.8,225.8 L396.6,226.0 L397.5,226.2 L398.3,226.4 L399.2,226.7 L400.0,226.9 L400.9,227.2 L401.7,227.5 L402.5,227.8 L403.4,228.1 L404.2,228.3 L405.1,228.6 L405.9,228.9 L406.8,229.2 L407.6,229.4 L408.4,229.6 L409.3,229.9 L410.1,230.1 L411.0,230.3 L411.8,230.5 L412.7,230.6 L413.5,230.8 L414.4,231.0 L415.2,231.2" fill="none" stroke="#1818c8" stroke-width="1.3" stroke-linejoin="round"/>
<path d="M340.1,231.2 L340.9,230.9 L341.8,230.7 L342.6,230.5 L343.5,230.2 L344.3,229.9 L345.2,229.7 L346.0,229.3 L346.9,229.0 L347.7,228.7 L348.5,228.3 L349.4,228.0 L350.2,227.6 L351.1,227.2 L351.9,226.9 L352.8,226.6 L353.6,226.3 L354.4,226.0 L355.3,225.7 L356.1,225.5 L357.0,225.2 L357.8,225.0 L358.7,224.8 L359.5,224.7 L360.4,224.6 L361.2,224.5 L362.0,224.4 L362.9,224.3 L363.7,224.3 L364.6,224.3 L365.4,224.2 L366.3,224.2 L367.1,224.2 L367.9,224.2 L368.8,224.2 L369.6,224.2 L370.5,224.1 L371.3,224.1 L372.2,224.1 L373.0,224.1 L373.9,224.1 L374.7,224.0 L375.5,224.0 L376.4,224.0 L377.2,223.9 L378.1,223.9 L378.9,223.9 L379.8,223.9 L380.6,223.9 L381.4,223.9 L382.3,223.9 L383.1,224.0 L384.0,224.1 L384.8,224.2 L385.7,224.3 L386.5,224.4 L387.4,224.6 L388.2,224.8 L389.0,224.9 L389.9,225.1 L390.7,225.3 L391.6,225.5 L392.4,225.7 L393.3,225.8 L394.1,226.0 L394.9,226.2 L395.8,226.4 L396.6,226.6 L397.5,226.8 L398.3,227.0 L399.2,227.3 L400.0,227.5 L400.9,227.8 L401.7,228.0 L402.5,228.3 L403.4,228.6 L404.2,228.8 L405.1,229.1 L405.9,229.3 L406.8,229.5 L407.6,229.7 L408.4,229.9 L409.3,230.1 L410.1,230.3 L411.0,230.4 L411.8,230.6 L412.7,230.8 L413.5,230.9 L414.4,231.0 L415.2,231.2" fill="none" stroke="#1818c8" stroke-width="1.3" stroke-linejoin="round"/>
<path d="M340.1,231.2 L340.9,231.2 L341.8,231.2 L342.6,231.2 L343.5,231.2 L344.3,231.1 L345.2,231.1 L346.0,231.1 L346.9,231.1 L347.7,231.1 L348.5,231.0 L349.4,231.0 L350.2,230.9 L351.1,230.8 L351.9,230.8 L352.8,230.7 L353.6,230.6 L354.4,230.6 L355.3,230.5 L356.1,230.5 L357.0,230.4 L357.8,230.4 L358.7,230.4 L359.5,230.4 L360.4,230.4 L361.2,230.4 L362.0,230.5 L362.9,230.5 L363.7,230.6 L364.6,230.7 L365.4,230.8 L366.3,230.9 L367.1,231.1 L367.9,231.2 L368.8,231.4 L369.6,231.6 L370.5,231.8 L371.3,232.0 L372.2,232.2 L373.0,232.5 L373.9,232.7 L374.7,233.0 L375.5,233.2 L376.4,233.5 L377.2,233.7 L378.1,234.0 L378.9,234.2 L379.8,234.4 L380.6,234.6 L381.4,234.7 L382.3,234.8 L383.1,234.8 L384.0,234.7 L384.8,234.6 L385.7,234.4 L386.5,234.2 L387.4,233.9 L388.2,233.6 L389.0,233.3 L389.9,232.9 L390.7,232.5 L391.6,232.1 L392.4,231.7 L393.3,231.3 L394.1,230.8 L394.9,230.4 L395.8,230.0 L396.6,229.6 L397.5,229.1 L398.3,228.7 L399.2,228.3 L400.0,227.9 L400.9,227.5 L401.7,227.1 L402.5,226.6 L403.4,226.3 L404.2,225.9 L405.1,225.5 L405.9,225.1 L406.8,224.8 L407.6,224.4 L408.4,224.1 L409.3,223.8 L410.1,223.5 L411.0,223.2 L411.8,222.9 L412.7,222.6 L413.5,222.4 L414.4,222.1 L415.2,221.8" fill="none" stroke="#1818c8" stroke-width="1.3" stroke-linejoin="round"/>
<path d="M340.1,237.6 L340.9,237.4 L341.8,237.2 L342.6,237.0 L343.5,236.8 L344.3,236.6 L345.2,236.3 L346.0,236.1 L346.9,235.8 L347.7,235.4 L348.5,235.1 L349.4,234.7 L350.2,234.4 L351.1,234.1 L351.9,233.9 L352.8,233.8 L353.6,233.8 L354.4,234.0 L355.3,234.3 L356.1,234.7 L357.0,235.3 L357.8,235.9 L358.7,236.6 L359.5,237.3 L360.4,238.1 L361.2,238.8 L362.0,239.5 L362.9,240.2 L363.7,240.8 L364.6,241.3 L365.4,241.7 L366.3,242.0 L367.1,242.1 L367.9,242.1 L368.8,242.0 L369.6,241.7 L370.5,241.3 L371.3,240.8 L372.2,240.3 L373.0,239.7 L373.9,239.1 L374.7,238.5 L375.5,237.9 L376.4,237.3 L377.2,236.8 L378.1,236.3 L378.9,235.9 L379.8,235.6 L380.6,235.3 L381.4,235.0 L382.3,234.9 L383.1,234.8 L384.0,234.8 L384.8,234.8 L385.7,234.9 L386.5,235.1 L387.4,235.3 L388.2,235.5 L389.0,235.7 L389.9,235.9 L390.7,236.1 L391.6,236.3 L392.4,236.4 L393.3,236.4 L394.1,236.4 L394.9,236.4 L395.8,236.3 L396.6,236.2 L397.5,236.1 L398.3,236.0 L399.2,235.8 L400.0,235.7 L400.9,235.6 L401.7,235.5 L402.5,235.4 L403.4,235.4 L404.2,235.4 L405.1,235.4 L405.9,235.5 L406.8,235.6 L407.6,235.8 L408.4,236.0 L409.3,236.2 L410.1,236.4 L411.0,236.7 L411.8,236.9 L412.7,237.2 L413.5,237.5 L414.4,237.8 L415.2,238.2" fill="none" stroke="#1818c8" stroke-width="1.3" stroke-linejoin="round"/>
<path d="M340.1,311.3 L340.9,308.6 L341.8,305.9 L342.6,303.2 L343.5,300.5 L344.3,297.8 L345.2,295.1 L346.0,292.4 L346.9,289.6 L347.7,286.9 L348.5,284.3 L349.4,281.7 L350.2,279.2 L351.1,276.9 L351.9,274.8 L352.8,272.8 L353.6,271.0 L354.4,269.3 L355.3,267.8 L356.1,266.4 L357.0,265.1 L357.8,263.9 L358.7,262.7 L359.5,261.5 L360.4,260.4 L361.2,259.4 L362.0,258.4 L362.9,257.6 L363.7,256.8 L364.6,256.1 L365.4,255.6 L366.3,255.2 L367.1,254.8 L367.9,254.6 L368.8,254.5 L369.6,254.6 L370.5,254.6 L371.3,254.8 L372.2,255.0 L373.0,255.3 L373.9,255.6 L374.7,255.9 L375.5,256.1 L376.4,256.4 L377.2,256.7 L378.1,256.9 L378.9,257.2 L379.8,257.4 L380.6,257.6 L381.4,257.7 L382.3,257.9 L383.1,258.0 L384.0,258.2 L384.8,258.3 L385.7,258.4 L386.5,258.5 L387.4,258.7 L388.2,258.9 L389.0,259.1 L389.9,259.3 L390.7,259.6 L391.6,260.0 L392.4,260.5 L393.3,261.0 L394.1,261.6 L394.9,262.4 L395.8,263.2 L396.6,264.2 L397.5,265.2 L398.3,266.4 L399.2,267.6 L400.0,268.9 L400.9,270.3 L401.7,271.7 L402.5,273.1 L403.4,274.6 L404.2,276.2 L405.1,277.8 L405.9,279.6 L406.8,281.6 L407.6,283.8 L408.4,286.2 L409.3,288.8 L410.1,291.5 L411.0,294.5 L411.8,297.7 L412.7,300.9 L413.5,304.3 L414.4,307.8 L415.2,311.3" fill="none" stroke="#1818c8" stroke-width="1.3" stroke-linejoin="round"/>
<path d="M340.1,311.3 L340.9,308.8 L341.8,306.3 L342.6,303.9 L343.5,301.7 L344.3,299.6 L345.2,297.6 L346.0,296.0 L346.9,294.4 L347.7,293.0 L348.5,291.7 L349.4,290.4 L350.2,289.2 L351.1,287.9 L351.9,286.6 L352.8,285.4 L353.6,284.3 L354.4,283.2 L355.3,282.2 L356.1,281.3 L357.0,280.6 L357.8,279.9 L358.7,279.3 L359.5,278.8 L360.4,278.4 L361.2,278.1 L362.0,277.9 L362.9,277.7 L363.7,277.6 L364.6,277.5 L365.4,277.4 L366.3,277.2 L367.1,277.0 L367.9,276.7 L368.8,276.3 L369.6,275.8 L370.5,275.3 L371.3,274.6 L372.2,273.9 L373.0,273.2 L373.9,272.4 L374.7,271.6 L375.5,270.7 L376.4,269.8 L377.2,269.0 L378.1,268.1 L378.9,267.4 L379.8,266.7 L380.6,266.1 L381.4,265.6 L382.3,265.2 L383.1,265.1 L384.0,265.1 L384.8,265.3 L385.7,265.7 L386.5,266.3 L387.4,266.9 L388.2,267.7 L389.0,268.6 L389.9,269.5 L390.7,270.5 L391.6,271.5 L392.4,272.5 L393.3,273.6 L394.1,274.7 L394.9,275.8 L395.8,277.0 L396.6,278.2 L397.5,279.4 L398.3,280.6 L399.2,281.9 L400.0,283.2 L400.9,284.6 L401.7,285.9 L402.5,287.4 L403.4,288.8 L404.2,290.3 L405.1,291.8 L405.9,293.3 L406.8,294.8 L407.6,296.4 L408.4,298.0 L409.3,299.6 L410.1,301.3 L411.0,302.9 L411.8,304.6 L412.7,306.3 L413.5,307.9 L414.4,309.6 L415.2,311.3" fill="none" stroke="#1818c8" stroke-width="1.3" stroke-linejoin="round"/>
<path d="M340.1,311.3 L340.9,308.9 L341.8,306.6 L342.6,304.3 L343.5,302.1 L344.3,300.1 L345.2,298.3 L346.0,296.7 L346.9,295.2 L347.7,293.9 L348.5,292.6 L349.4,291.4 L350.2,290.3 L351.1,289.1 L351.9,288.0 L352.8,286.9 L353.6,285.9 L354.4,284.9 L355.3,284.0 L356.1,283.2 L357.0,282.4 L357.8,281.8 L358.7,281.1 L359.5,280.6 L360.4,280.1 L361.2,279.6 L362.0,279.3 L362.9,279.0 L363.7,278.7 L364.6,278.5 L365.4,278.3 L366.3,278.1 L367.1,277.9 L367.9,277.8 L368.8,277.6 L369.6,277.5 L370.5,277.4 L371.3,277.3 L372.2,277.2 L373.0,277.1 L373.9,277.0 L374.7,276.9 L375.5,276.8 L376.4,276.8 L377.2,276.7 L378.1,276.7 L378.9,276.6 L379.8,276.7 L380.6,276.7 L381.4,276.7 L382.3,276.8 L383.1,277.0 L384.0,277.2 L384.8,277.4 L385.7,277.6 L386.5,277.9 L387.4,278.2 L388.2,278.6 L389.0,278.9 L389.9,279.3 L390.7,279.7 L391.6,280.1 L392.4,280.5 L393.3,280.9 L394.1,281.4 L394.9,281.9 L395.8,282.5 L396.6,283.2 L397.5,283.9 L398.3,284.7 L399.2,285.6 L400.0,286.6 L400.9,287.7 L401.7,288.9 L402.5,290.3 L403.4,291.7 L404.2,293.2 L405.1,294.7 L405.9,296.3 L406.8,297.8 L407.6,299.4 L408.4,300.9 L409.3,302.3 L410.1,303.7 L411.0,305.1 L411.8,306.4 L412.7,307.6 L413.5,308.9 L414.4,310.1 L415.2,311.3" fill="none" stroke="#1818c8" stroke-width="1.3" stroke-linejoin="round"/>
<path d="M340.1,311.3 L340.9,309.5 L341.8,307.6 L342.6,305.8 L343.5,304.0 L344.3,302.3 L345.2,300.8 L346.0,299.3 L346.9,297.9 L347.7,296.6 L348.5,295.4 L349.4,294.2 L350.2,293.1 L351.1,292.0 L351.9,291.0 L352.8,290.1 L353.6,289.1 L354.4,288.3 L355.3,287.4 L356.1,286.7 L357.0,286.0 L357.8,285.3 L358.7,284.8 L359.5,284.3 L360.4,283.8 L361.2,283.5 L362.0,283.2 L362.9,283.0 L363.7,282.8 L364.6,282.7 L365.4,282.5 L366.3,282.4 L367.1,282.3 L367.9,282.2 L368.8,282.0 L369.6,281.8 L370.5,281.5 L371.3,281.3 L372.2,281.0 L373.0,280.7 L373.9,280.4 L374.7,280.1 L375.5,279.8 L376.4,279.4 L377.2,279.1 L378.1,278.8 L378.9,278.5 L379.8,278.3 L380.6,278.1 L381.4,278.0 L382.3,277.9 L383.1,278.0 L384.0,278.2 L384.8,278.4 L385.7,278.8 L386.5,279.2 L387.4,279.7 L388.2,280.2 L389.0,280.7 L389.9,281.2 L390.7,281.7 L391.6,282.1 L392.4,282.5 L393.3,283.0 L394.1,283.4 L394.9,283.8 L395.8,284.3 L396.6,284.9 L397.5,285.5 L398.3,286.2 L399.2,287.0 L400.0,287.9 L400.9,288.9 L401.7,290.1 L402.5,291.3 L403.4,292.7 L404.2,294.2 L405.1,295.7 L405.9,297.2 L406.8,298.7 L407.6,300.2 L408.4,301.7 L409.3,303.1 L410.1,304.4 L411.0,305.7 L411.8,306.9 L412.7,308.0 L413.5,309.1 L414.4,310.2 L415.2,311.3" fill="none" stroke="#1818c8" stroke-width="1.3" stroke-linejoin="round"/>
<path d="M340.1,311.3 L340.9,309.8 L341.8,308.4 L342.6,306.9 L343.5,305.6 L344.3,304.3 L345.2,303.1 L346.0,302.1 L346.9,301.1 L347.7,300.2 L348.5,299.3 L349.4,298.4 L350.2,297.5 L351.1,296.6 L351.9,295.7 L352.8,294.8 L353.6,294.0 L354.4,293.2 L355.3,292.4 L356.1,291.8 L357.0,291.2 L357.8,290.7 L358.7,290.2 L359.5,289.8 L360.4,289.4 L361.2,289.1 L362.0,288.8 L362.9,288.5 L363.7,288.3 L364.6,288.1 L365.4,287.9 L366.3,287.8 L367.1,287.7 L367.9,287.6 L368.8,287.5 L369.6,287.4 L370.5,287.3 L371.3,287.3 L372.2,287.2 L373.0,287.2 L373.9,287.1 L374.7,287.1 L375.5,287.0 L376.4,286.9 L377.2,286.8 L378.1,286.7 L378.9,286.6 L379.8,286.6 L380.6,286.5 L381.4,286.5 L382.3,286.5 L383.1,286.6 L384.0,286.7 L384.8,286.8 L385.7,287.0 L386.5,287.2 L387.4,287.4 L388.2,287.7 L389.0,287.9 L389.9,288.2 L390.7,288.4 L391.6,288.7 L392.4,288.9 L393.3,289.1 L394.1,289.4 L394.9,289.7 L395.8,290.0 L396.6,290.3 L397.5,290.7 L398.3,291.2 L399.2,291.7 L400.0,292.4 L400.9,293.1 L401.7,293.8 L402.5,294.7 L403.4,295.7 L404.2,296.7 L405.1,297.7 L405.9,298.8 L406.8,299.9 L407.6,301.1 L408.4,302.2 L409.3,303.4 L410.1,304.5 L411.0,305.7 L411.8,306.8 L412.7,308.0 L413.5,309.1 L414.4,310.2 L415.2,311.3" fill="none" stroke="#1818c8" stroke-width="1.3" stroke-linejoin="round"/>
<rect x="340.10" y="191.70" width="75.10" height="129.60" stroke="#000" stroke-width="1.3" fill="none"/>
<line x1="340.10" y1="311.33" x2="342.90" y2="311.33" stroke="#000" stroke-width="1.2"/>
<line x1="412.40" y1="311.33" x2="415.20" y2="311.33" stroke="#000" stroke-width="1.2"/>
<text transform="translate(336.30,314.73) scale(0.82,1)" font-family="'Liberation Serif', 'Times New Roman', serif" font-size="9.4" font-weight="bold" text-anchor="end" fill="#000" stroke="#000" stroke-width="0.1">0</text>
<line x1="340.10" y1="291.39" x2="342.90" y2="291.39" stroke="#000" stroke-width="1.2"/>
<line x1="412.40" y1="291.39" x2="415.20" y2="291.39" stroke="#000" stroke-width="1.2"/>
<text transform="translate(336.30,294.79) scale(0.82,1)" font-family="'Liberation Serif', 'Times New Roman', serif" font-size="9.4" font-weight="bold" text-anchor="end" fill="#000" stroke="#000" stroke-width="0.1">10</text>
<line x1="340.10" y1="271.45" x2="342.90" y2="271.45" stroke="#000" stroke-width="1.2"/>
<line x1="412.40" y1="271.45" x2="415.20" y2="271.45" stroke="#000" stroke-width="1.2"/>
<text transform="translate(336.30,274.85) scale(0.82,1)" font-family="'Liberation Serif', 'Times New Roman', serif" font-size="9.4" font-weight="bold" text-anchor="end" fill="#000" stroke="#000" stroke-width="0.1">20</text>
<line x1="340.10" y1="251.52" x2="342.90" y2="251.52" stroke="#000" stroke-width="1.2"/>
<line x1="412.40" y1="251.52" x2="415.20" y2="251.52" stroke="#000" stroke-width="1.2"/>
<text transform="translate(336.30,254.92) scale(0.82,1)" font-family="'Liberation Serif', 'Times New Roman', serif" font-size="9.4" font-weight="bold" text-anchor="end" fill="#000" stroke="#000" stroke-width="0.1">30</text>
<line x1="340.10" y1="231.58" x2="342.90" y2="231.58" stroke="#000" stroke-width="1.2"/>
<line x1="412.40" y1="231.58" x2="415.20" y2="231.58" stroke="#000" stroke-width="1.2"/>
<text transform="translate(336.30,234.98) scale(0.82,1)" font-family="'Liberation Serif', 'Times New Roman', serif" font-size="9.4" font-weight="bold" text-anchor="end" fill="#000" stroke="#000" stroke-width="0.1">40</text>
<line x1="340.10" y1="211.64" x2="342.90" y2="211.64" stroke="#000" stroke-width="1.2"/>
<line x1="412.40" y1="211.64" x2="415.20" y2="211.64" stroke="#000" stroke-width="1.2"/>
<text transform="translate(336.30,215.04) scale(0.82,1)" font-family="'Liberation Serif', 'Times New Roman', serif" font-size="9.4" font-weight="bold" text-anchor="end" fill="#000" stroke="#000" stroke-width="0.1">50</text>
<text transform="translate(336.30,195.10) scale(0.82,1)" font-family="'Liberation Serif', 'Times New Roman', serif" font-size="9.4" font-weight="bold" text-anchor="end" fill="#000" stroke="#000" stroke-width="0.1">60</text>
<text transform="translate(341.10,330.60) scale(0.95,1)" font-family="'Liberation Serif', 'Times New Roman', serif" font-size="9.0" font-weight="normal" text-anchor="middle" fill="#000" stroke="#000" stroke-width="0.15">Γ</text>
<text transform="translate(365.99,330.60) scale(0.95,1)" font-family="'Liberation Serif', 'Times New Roman', serif" font-size="9.0" font-weight="normal" text-anchor="middle" fill="#000" stroke="#000" stroke-width="0.15">M</text>
<text transform="translate(384.95,330.60) scale(0.95,1)" font-family="'Liberation Serif', 'Times New Roman', serif" font-size="9.0" font-weight="normal" text-anchor="middle" fill="#000" stroke="#000" stroke-width="0.15">K</text>
<text transform="translate(412.90,330.60) scale(0.95,1)" font-family="'Liberation Serif', 'Times New Roman', serif" font-size="9.0" font-weight="normal" text-anchor="middle" fill="#000" stroke="#000" stroke-width="0.15">Γ</text>
<text transform="translate(323.60,253.02) rotate(-90)" font-family="'Liberation Serif', 'Times New Roman', serif" font-size="11.2" font-weight="bold" text-anchor="middle" fill="#000">Frequency (THz)</text>
<text transform="translate(384.80,198.30) scale(0.95,1)" font-family="'Liberation Serif', 'Times New Roman', serif" font-size="9.2" font-weight="bold" text-anchor="start" fill="#000" stroke="#000" stroke-width="0.3">(h)</text>
<text transform="translate(386.10,251.50) scale(0.88,1)" font-family="'Liberation Serif', 'Times New Roman', serif" font-size="9.6" font-weight="bold" text-anchor="start" fill="#000" stroke="#000" stroke-width="0.25">HBL 5</text>
<line x1="468.84" y1="192.80" x2="468.84" y2="322.70" stroke="#333" stroke-width="0.9" stroke-dasharray="2.4,2.6"/>
<line x1="484.62" y1="192.80" x2="484.62" y2="322.70" stroke="#333" stroke-width="0.9" stroke-dasharray="2.4,2.6"/>
<line x1="441.50" y1="312.71" x2="516.20" y2="312.71" stroke="#333" stroke-width="0.9" stroke-dasharray="2.4,2.6"/>
<rect x="485.00" y="192.80" width="11.58" height="8.74" fill="#fff"/>
<path d="M441.5,201.8 L442.3,201.9 L443.2,202.1 L444.0,202.3 L444.9,202.4 L445.7,202.6 L446.5,202.9 L447.4,203.1 L448.2,203.4 L449.1,203.7 L449.9,204.1 L450.7,204.5 L451.6,205.0 L452.4,205.5 L453.3,206.1 L454.1,206.6 L454.9,207.2 L455.8,207.8 L456.6,208.4 L457.4,209.0 L458.3,209.6 L459.1,210.2 L460.0,210.7 L460.8,211.1 L461.6,211.6 L462.5,212.0 L463.3,212.3 L464.2,212.6 L465.0,212.9 L465.8,213.2 L466.7,213.4 L467.5,213.7 L468.4,213.9 L469.2,214.1 L470.0,214.3 L470.9,214.4 L471.7,214.6 L472.6,214.8 L473.4,214.9 L474.2,215.0 L475.1,215.1 L475.9,215.2 L476.8,215.3 L477.6,215.4 L478.4,215.4 L479.3,215.5 L480.1,215.5 L480.9,215.5 L481.8,215.4 L482.6,215.4 L483.5,215.3 L484.3,215.2 L485.1,215.1 L486.0,215.0 L486.8,214.8 L487.7,214.6 L488.5,214.4 L489.3,214.1 L490.2,213.9 L491.0,213.6 L491.9,213.2 L492.7,212.9 L493.5,212.5 L494.4,212.1 L495.2,211.6 L496.1,211.1 L496.9,210.6 L497.7,210.1 L498.6,209.6 L499.4,209.0 L500.3,208.5 L501.1,208.0 L501.9,207.4 L502.8,206.9 L503.6,206.4 L504.4,205.9 L505.3,205.4 L506.1,205.0 L507.0,204.6 L507.8,204.2 L508.6,203.9 L509.5,203.6 L510.3,203.3 L511.2,203.1 L512.0,202.8 L512.8,202.6 L513.7,202.4 L514.5,202.2 L515.4,202.0 L516.2,201.8" fill="none" stroke="#1818c8" stroke-width="1.3" stroke-linejoin="round"/>
<path d="M441.5,201.8 L442.3,202.0 L443.2,202.1 L444.0,202.3 L444.9,202.5 L445.7,202.7 L446.5,203.0 L447.4,203.2 L448.2,203.5 L449.1,203.9 L449.9,204.3 L450.7,204.7 L451.6,205.2 L452.4,205.8 L453.3,206.4 L454.1,207.0 L454.9,207.6 L455.8,208.2 L456.6,208.9 L457.4,209.5 L458.3,210.1 L459.1,210.7 L460.0,211.3 L460.8,211.8 L461.6,212.2 L462.5,212.7 L463.3,213.1 L464.2,213.5 L465.0,213.9 L465.8,214.2 L466.7,214.5 L467.5,214.9 L468.4,215.2 L469.2,215.5 L470.0,215.8 L470.9,216.2 L471.7,216.5 L472.6,216.8 L473.4,217.1 L474.2,217.4 L475.1,217.7 L475.9,217.9 L476.8,218.2 L477.6,218.4 L478.4,218.5 L479.3,218.7 L480.1,218.8 L480.9,218.8 L481.8,218.9 L482.6,218.8 L483.5,218.8 L484.3,218.6 L485.1,218.5 L486.0,218.2 L486.8,217.9 L487.7,217.6 L488.5,217.2 L489.3,216.8 L490.2,216.4 L491.0,215.9 L491.9,215.4 L492.7,214.8 L493.5,214.2 L494.4,213.6 L495.2,213.0 L496.1,212.4 L496.9,211.8 L497.7,211.1 L498.6,210.5 L499.4,209.9 L500.3,209.2 L501.1,208.6 L501.9,208.0 L502.8,207.4 L503.6,206.9 L504.4,206.3 L505.3,205.8 L506.1,205.4 L507.0,205.0 L507.8,204.6 L508.6,204.2 L509.5,203.9 L510.3,203.5 L511.2,203.3 L512.0,203.0 L512.8,202.7 L513.7,202.5 L514.5,202.2 L515.4,202.0 L516.2,201.8" fill="none" stroke="#1818c8" stroke-width="1.3" stroke-linejoin="round"/>
<path d="M441.5,217.2 L442.3,217.3 L443.2,217.4 L444.0,217.5 L444.9,217.6 L445.7,217.7 L446.5,217.8 L447.4,218.0 L448.2,218.2 L449.1,218.4 L449.9,218.6 L450.7,218.9 L451.6,219.2 L452.4,219.5 L453.3,219.9 L454.1,220.2 L454.9,220.6 L455.8,220.9 L456.6,221.3 L457.4,221.6 L458.3,221.9 L459.1,222.1 L460.0,222.3 L460.8,222.5 L461.6,222.6 L462.5,222.7 L463.3,222.7 L464.2,222.7 L465.0,222.7 L465.8,222.7 L466.7,222.7 L467.5,222.7 L468.4,222.7 L469.2,222.8 L470.0,222.9 L470.9,223.0 L471.7,223.2 L472.6,223.4 L473.4,223.6 L474.2,223.8 L475.1,224.0 L475.9,224.2 L476.8,224.4 L477.6,224.6 L478.4,224.8 L479.3,225.0 L480.1,225.2 L480.9,225.3 L481.8,225.4 L482.6,225.5 L483.5,225.6 L484.3,225.6 L485.1,225.5 L486.0,225.5 L486.8,225.3 L487.7,225.2 L488.5,225.0 L489.3,224.8 L490.2,224.5 L491.0,224.3 L491.9,224.0 L492.7,223.7 L493.5,223.3 L494.4,223.0 L495.2,222.7 L496.1,222.4 L496.9,222.0 L497.7,221.7 L498.6,221.4 L499.4,221.1 L500.3,220.8 L501.1,220.5 L501.9,220.2 L502.8,219.9 L503.6,219.7 L504.4,219.4 L505.3,219.2 L506.1,219.0 L507.0,218.8 L507.8,218.6 L508.6,218.4 L509.5,218.2 L510.3,218.1 L511.2,217.9 L512.0,217.8 L512.8,217.7 L513.7,217.5 L514.5,217.4 L515.4,217.3 L516.2,217.2" fill="none" stroke="#1818c8" stroke-width="1.3" stroke-linejoin="round"/>
<path d="M441.5,231.8 L442.3,231.4 L443.2,231.0 L444.0,230.7 L444.9,230.3 L445.7,229.9 L446.5,229.6 L447.4,229.3 L448.2,228.9 L449.1,228.6 L449.9,228.4 L450.7,228.1 L451.6,227.8 L452.4,227.6 L453.3,227.4 L454.1,227.2 L454.9,227.1 L455.8,226.9 L456.6,226.8 L457.4,226.7 L458.3,226.6 L459.1,226.5 L460.0,226.4 L460.8,226.3 L461.6,226.3 L462.5,226.2 L463.3,226.2 L464.2,226.1 L465.0,226.1 L465.8,226.1 L466.7,226.0 L467.5,226.0 L468.4,226.0 L469.2,226.0 L470.0,225.9 L470.9,225.9 L471.7,225.9 L472.6,225.8 L473.4,225.8 L474.2,225.8 L475.1,225.8 L475.9,225.7 L476.8,225.7 L477.6,225.7 L478.4,225.7 L479.3,225.7 L480.1,225.7 L480.9,225.7 L481.8,225.8 L482.6,225.8 L483.5,225.9 L484.3,225.9 L485.1,226.0 L486.0,226.1 L486.8,226.2 L487.7,226.4 L488.5,226.5 L489.3,226.6 L490.2,226.8 L491.0,226.9 L491.9,227.1 L492.7,227.3 L493.5,227.4 L494.4,227.6 L495.2,227.8 L496.1,228.0 L496.9,228.2 L497.7,228.3 L498.6,228.5 L499.4,228.7 L500.3,228.9 L501.1,229.0 L501.9,229.2 L502.8,229.4 L503.6,229.5 L504.4,229.7 L505.3,229.9 L506.1,230.0 L507.0,230.2 L507.8,230.3 L508.6,230.5 L509.5,230.6 L510.3,230.8 L511.2,230.9 L512.0,231.1 L512.8,231.2 L513.7,231.3 L514.5,231.5 L515.4,231.6 L516.2,231.8" fill="none" stroke="#1818c8" stroke-width="1.3" stroke-linejoin="round"/>
<path d="M441.5,231.8 L442.3,231.6 L443.2,231.5 L444.0,231.4 L444.9,231.3 L445.7,231.2 L446.5,231.1 L447.4,231.0 L448.2,230.9 L449.1,230.8 L449.9,230.8 L450.7,230.8 L451.6,230.7 L452.4,230.7 L453.3,230.8 L454.1,230.8 L454.9,230.8 L455.8,230.9 L456.6,231.0 L457.4,231.1 L458.3,231.2 L459.1,231.4 L460.0,231.5 L460.8,231.7 L461.6,231.9 L462.5,232.1 L463.3,232.3 L464.2,232.5 L465.0,232.6 L465.8,232.7 L466.7,232.8 L467.5,232.8 L468.4,232.8 L469.2,232.7 L470.0,232.6 L470.9,232.3 L471.7,232.1 L472.6,231.8 L473.4,231.4 L474.2,231.0 L475.1,230.6 L475.9,230.1 L476.8,229.7 L477.6,229.2 L478.4,228.8 L479.3,228.3 L480.1,227.9 L480.9,227.5 L481.8,227.2 L482.6,226.9 L483.5,226.6 L484.3,226.4 L485.1,226.3 L486.0,226.3 L486.8,226.3 L487.7,226.3 L488.5,226.5 L489.3,226.6 L490.2,226.8 L491.0,227.1 L491.9,227.4 L492.7,227.7 L493.5,228.0 L494.4,228.3 L495.2,228.7 L496.1,229.0 L496.9,229.3 L497.7,229.7 L498.6,230.0 L499.4,230.3 L500.3,230.5 L501.1,230.8 L501.9,231.0 L502.8,231.1 L503.6,231.3 L504.4,231.4 L505.3,231.5 L506.1,231.6 L507.0,231.7 L507.8,231.8 L508.6,231.8 L509.5,231.8 L510.3,231.9 L511.2,231.9 L512.0,231.9 L512.8,231.9 L513.7,231.8 L514.5,231.8 L515.4,231.8 L516.2,231.8" fill="none" stroke="#1818c8" stroke-width="1.3" stroke-linejoin="round"/>
<path d="M441.5,231.8 L442.3,232.1 L443.2,232.5 L444.0,232.8 L444.9,233.2 L445.7,233.5 L446.5,233.8 L447.4,234.2 L448.2,234.5 L449.1,234.8 L449.9,235.1 L450.7,235.4 L451.6,235.6 L452.4,235.9 L453.3,236.1 L454.1,236.3 L454.9,236.5 L455.8,236.7 L456.6,236.8 L457.4,236.9 L458.3,236.9 L459.1,237.0 L460.0,237.0 L460.8,237.0 L461.6,237.1 L462.5,237.1 L463.3,237.1 L464.2,237.1 L465.0,237.1 L465.8,237.2 L466.7,237.2 L467.5,237.3 L468.4,237.5 L469.2,237.6 L470.0,237.8 L470.9,238.1 L471.7,238.3 L472.6,238.6 L473.4,238.9 L474.2,239.2 L475.1,239.6 L475.9,239.9 L476.8,240.2 L477.6,240.5 L478.4,240.8 L479.3,241.1 L480.1,241.4 L480.9,241.6 L481.8,241.8 L482.6,242.0 L483.5,242.1 L484.3,242.1 L485.1,242.2 L486.0,242.1 L486.8,242.0 L487.7,241.9 L488.5,241.8 L489.3,241.6 L490.2,241.3 L491.0,241.1 L491.9,240.8 L492.7,240.5 L493.5,240.2 L494.4,239.9 L495.2,239.6 L496.1,239.2 L496.9,238.9 L497.7,238.5 L498.6,238.1 L499.4,237.7 L500.3,237.3 L501.1,236.9 L501.9,236.5 L502.8,236.1 L503.6,235.7 L504.4,235.3 L505.3,234.9 L506.1,234.6 L507.0,234.2 L507.8,233.9 L508.6,233.6 L509.5,233.3 L510.3,233.1 L511.2,232.8 L512.0,232.6 L512.8,232.4 L513.7,232.3 L514.5,232.1 L515.4,231.9 L516.2,231.8" fill="none" stroke="#1818c8" stroke-width="1.3" stroke-linejoin="round"/>
<path d="M441.5,250.8 L442.3,250.4 L443.2,250.0 L444.0,249.7 L444.9,249.3 L445.7,248.9 L446.5,248.5 L447.4,248.1 L448.2,247.6 L449.1,247.1 L449.9,246.6 L450.7,246.1 L451.6,245.6 L452.4,245.1 L453.3,244.7 L454.1,244.5 L454.9,244.3 L455.8,244.4 L456.6,244.6 L457.4,245.0 L458.3,245.5 L459.1,246.1 L460.0,246.7 L460.8,247.4 L461.6,248.1 L462.5,248.8 L463.3,249.4 L464.2,250.0 L465.0,250.5 L465.8,250.9 L466.7,251.2 L467.5,251.3 L468.4,251.4 L469.2,251.3 L470.0,251.1 L470.9,250.7 L471.7,250.3 L472.6,249.7 L473.4,249.2 L474.2,248.5 L475.1,247.9 L475.9,247.3 L476.8,246.7 L477.6,246.1 L478.4,245.5 L479.3,245.0 L480.1,244.5 L480.9,244.1 L481.8,243.6 L482.6,243.2 L483.5,242.8 L484.3,242.3 L485.1,241.9 L486.0,241.5 L486.8,241.1 L487.7,240.7 L488.5,240.4 L489.3,240.2 L490.2,240.0 L491.0,240.0 L491.9,240.0 L492.7,240.2 L493.5,240.4 L494.4,240.7 L495.2,241.1 L496.1,241.5 L496.9,242.0 L497.7,242.5 L498.6,243.0 L499.4,243.5 L500.3,244.0 L501.1,244.5 L501.9,244.9 L502.8,245.4 L503.6,245.9 L504.4,246.4 L505.3,246.8 L506.1,247.2 L507.0,247.6 L507.8,248.0 L508.6,248.4 L509.5,248.7 L510.3,249.0 L511.2,249.3 L512.0,249.5 L512.8,249.8 L513.7,250.0 L514.5,250.3 L515.4,250.5 L516.2,250.8" fill="none" stroke="#1818c8" stroke-width="1.3" stroke-linejoin="round"/>
<path d="M441.5,312.7 L442.3,310.0 L443.2,307.3 L444.0,304.6 L444.9,301.9 L445.7,299.1 L446.5,296.4 L447.4,293.7 L448.2,291.0 L449.1,288.3 L449.9,285.6 L450.7,283.0 L451.6,280.6 L452.4,278.2 L453.3,276.0 L454.1,274.1 L454.9,272.3 L455.8,270.6 L456.6,269.1 L457.4,267.7 L458.3,266.4 L459.1,265.1 L460.0,263.9 L460.8,262.8 L461.6,261.7 L462.5,260.6 L463.3,259.7 L464.2,258.8 L465.0,258.0 L465.8,257.4 L466.7,256.8 L467.5,256.4 L468.4,256.1 L469.2,255.9 L470.0,255.8 L470.9,255.8 L471.7,255.9 L472.6,256.1 L473.4,256.3 L474.2,256.5 L475.1,256.8 L475.9,257.1 L476.8,257.4 L477.6,257.7 L478.4,257.9 L479.3,258.2 L480.1,258.4 L480.9,258.6 L481.8,258.8 L482.6,259.0 L483.5,259.2 L484.3,259.3 L485.1,259.4 L486.0,259.6 L486.8,259.7 L487.7,259.8 L488.5,259.9 L489.3,260.1 L490.2,260.3 L491.0,260.6 L491.9,260.9 L492.7,261.3 L493.5,261.7 L494.4,262.3 L495.2,262.9 L496.1,263.6 L496.9,264.5 L497.7,265.4 L498.6,266.5 L499.4,267.7 L500.3,268.9 L501.1,270.2 L501.9,271.6 L502.8,273.0 L503.6,274.4 L504.4,275.9 L505.3,277.5 L506.1,279.1 L507.0,280.9 L507.8,282.9 L508.6,285.1 L509.5,287.5 L510.3,290.1 L511.2,292.9 L512.0,295.8 L512.8,299.0 L513.7,302.3 L514.5,305.7 L515.4,309.2 L516.2,312.7" fill="none" stroke="#1818c8" stroke-width="1.3" stroke-linejoin="round"/>
<path d="M441.5,312.7 L442.3,310.2 L443.2,307.7 L444.0,305.3 L444.9,303.0 L445.7,300.9 L446.5,299.0 L447.4,297.3 L448.2,295.8 L449.1,294.4 L449.9,293.1 L450.7,291.8 L451.6,290.5 L452.4,289.2 L453.3,288.0 L454.1,286.8 L454.9,285.6 L455.8,284.5 L456.6,283.5 L457.4,282.7 L458.3,281.9 L459.1,281.2 L460.0,280.6 L460.8,280.1 L461.6,279.7 L462.5,279.4 L463.3,279.2 L464.2,279.0 L465.0,278.9 L465.8,278.8 L466.7,278.7 L467.5,278.5 L468.4,278.3 L469.2,278.0 L470.0,277.6 L470.9,277.1 L471.7,276.5 L472.6,275.9 L473.4,275.2 L474.2,274.5 L475.1,273.7 L475.9,272.8 L476.8,272.0 L477.6,271.1 L478.4,270.3 L479.3,269.4 L480.1,268.6 L480.9,267.9 L481.8,267.3 L482.6,266.9 L483.5,266.5 L484.3,266.4 L485.1,266.4 L486.0,266.6 L486.8,267.0 L487.7,267.5 L488.5,268.2 L489.3,269.0 L490.2,269.9 L491.0,270.8 L491.9,271.8 L492.7,272.8 L493.5,273.8 L494.4,274.9 L495.2,276.0 L496.1,277.1 L496.9,278.3 L497.7,279.5 L498.6,280.7 L499.4,281.9 L500.3,283.2 L501.1,284.5 L501.9,285.9 L502.8,287.3 L503.6,288.7 L504.4,290.1 L505.3,291.6 L506.1,293.1 L507.0,294.6 L507.8,296.2 L508.6,297.7 L509.5,299.4 L510.3,301.0 L511.2,302.6 L512.0,304.3 L512.8,305.9 L513.7,307.6 L514.5,309.3 L515.4,311.0 L516.2,312.7" fill="none" stroke="#1818c8" stroke-width="1.3" stroke-linejoin="round"/>
<path d="M441.5,312.7 L442.3,310.3 L443.2,307.9 L444.0,305.6 L444.9,303.5 L445.7,301.5 L446.5,299.6 L447.4,298.0 L448.2,296.5 L449.1,295.2 L449.9,294.0 L450.7,292.8 L451.6,291.6 L452.4,290.4 L453.3,289.3 L454.1,288.3 L454.9,287.2 L455.8,286.3 L456.6,285.4 L457.4,284.5 L458.3,283.8 L459.1,283.1 L460.0,282.4 L460.8,281.9 L461.6,281.4 L462.5,281.0 L463.3,280.6 L464.2,280.3 L465.0,280.0 L465.8,279.8 L466.7,279.6 L467.5,279.4 L468.4,279.2 L469.2,279.1 L470.0,278.9 L470.9,278.8 L471.7,278.7 L472.6,278.6 L473.4,278.5 L474.2,278.4 L475.1,278.3 L475.9,278.2 L476.8,278.1 L477.6,278.1 L478.4,278.0 L479.3,278.0 L480.1,277.9 L480.9,277.9 L481.8,278.0 L482.6,278.0 L483.5,278.1 L484.3,278.3 L485.1,278.4 L486.0,278.7 L486.8,278.9 L487.7,279.2 L488.5,279.5 L489.3,279.9 L490.2,280.2 L491.0,280.6 L491.9,281.0 L492.7,281.4 L493.5,281.8 L494.4,282.2 L495.2,282.7 L496.1,283.2 L496.9,283.8 L497.7,284.5 L498.6,285.2 L499.4,286.0 L500.3,286.9 L501.1,287.9 L501.9,289.0 L502.8,290.3 L503.6,291.6 L504.4,293.0 L505.3,294.5 L506.1,296.0 L507.0,297.6 L507.8,299.2 L508.6,300.7 L509.5,302.2 L510.3,303.7 L511.2,305.1 L512.0,306.4 L512.8,307.7 L513.7,309.0 L514.5,310.3 L515.4,311.5 L516.2,312.7" fill="none" stroke="#1818c8" stroke-width="1.3" stroke-linejoin="round"/>
<path d="M441.5,312.7 L442.3,310.8 L443.2,309.0 L444.0,307.1 L444.9,305.4 L445.7,303.7 L446.5,302.1 L447.4,300.6 L448.2,299.3 L449.1,298.0 L449.9,296.7 L450.7,295.6 L451.6,294.4 L452.4,293.4 L453.3,292.4 L454.1,291.4 L454.9,290.5 L455.8,289.6 L456.6,288.8 L457.4,288.0 L458.3,287.3 L459.1,286.7 L460.0,286.1 L460.8,285.6 L461.6,285.1 L462.5,284.8 L463.3,284.5 L464.2,284.3 L465.0,284.1 L465.8,284.0 L466.7,283.9 L467.5,283.7 L468.4,283.6 L469.2,283.5 L470.0,283.3 L470.9,283.1 L471.7,282.9 L472.6,282.6 L473.4,282.3 L474.2,282.0 L475.1,281.7 L475.9,281.4 L476.8,281.1 L477.6,280.7 L478.4,280.4 L479.3,280.1 L480.1,279.8 L480.9,279.6 L481.8,279.4 L482.6,279.3 L483.5,279.2 L484.3,279.3 L485.1,279.5 L486.0,279.7 L486.8,280.1 L487.7,280.5 L488.5,281.0 L489.3,281.5 L490.2,282.0 L491.0,282.5 L491.9,283.0 L492.7,283.4 L493.5,283.9 L494.4,284.3 L495.2,284.7 L496.1,285.2 L496.9,285.6 L497.7,286.2 L498.6,286.8 L499.4,287.5 L500.3,288.3 L501.1,289.2 L501.9,290.2 L502.8,291.4 L503.6,292.7 L504.4,294.1 L505.3,295.5 L506.1,297.0 L507.0,298.5 L507.8,300.1 L508.6,301.6 L509.5,303.0 L510.3,304.4 L511.2,305.8 L512.0,307.0 L512.8,308.2 L513.7,309.4 L514.5,310.5 L515.4,311.6 L516.2,312.7" fill="none" stroke="#1818c8" stroke-width="1.3" stroke-linejoin="round"/>
<path d="M441.5,312.7 L442.3,311.3 L443.2,309.9 L444.0,308.6 L444.9,307.3 L445.7,306.2 L446.5,305.1 L447.4,304.2 L448.2,303.4 L449.1,302.6 L449.9,301.9 L450.7,301.1 L451.6,300.4 L452.4,299.6 L453.3,298.8 L454.1,298.1 L454.9,297.3 L455.8,296.6 L456.6,296.0 L457.4,295.4 L458.3,295.0 L459.1,294.5 L460.0,294.1 L460.8,293.8 L461.6,293.5 L462.5,293.2 L463.3,292.9 L464.2,292.7 L465.0,292.5 L465.8,292.3 L466.7,292.1 L467.5,291.9 L468.4,291.8 L469.2,291.7 L470.0,291.6 L470.9,291.5 L471.7,291.4 L472.6,291.3 L473.4,291.2 L474.2,291.2 L475.1,291.1 L475.9,291.0 L476.8,290.9 L477.6,290.8 L478.4,290.7 L479.3,290.6 L480.1,290.5 L480.9,290.4 L481.8,290.3 L482.6,290.3 L483.5,290.3 L484.3,290.3 L485.1,290.4 L486.0,290.5 L486.8,290.7 L487.7,290.8 L488.5,291.1 L489.3,291.3 L490.2,291.5 L491.0,291.7 L491.9,291.9 L492.7,292.1 L493.5,292.3 L494.4,292.5 L495.2,292.8 L496.1,293.0 L496.9,293.3 L497.7,293.6 L498.6,293.9 L499.4,294.3 L500.3,294.8 L501.1,295.3 L501.9,296.0 L502.8,296.7 L503.6,297.5 L504.4,298.4 L505.3,299.3 L506.1,300.3 L507.0,301.3 L507.8,302.3 L508.6,303.4 L509.5,304.5 L510.3,305.5 L511.2,306.6 L512.0,307.6 L512.8,308.6 L513.7,309.7 L514.5,310.7 L515.4,311.7 L516.2,312.7" fill="none" stroke="#1818c8" stroke-width="1.3" stroke-linejoin="round"/>
<rect x="441.50" y="192.80" width="74.70" height="129.90" stroke="#000" stroke-width="1.3" fill="none"/>
<line x1="441.50" y1="312.71" x2="444.30" y2="312.71" stroke="#000" stroke-width="1.2"/>
<line x1="513.40" y1="312.71" x2="516.20" y2="312.71" stroke="#000" stroke-width="1.2"/>
<text transform="translate(437.70,316.11) scale(0.82,1)" font-family="'Liberation Serif', 'Times New Roman', serif" font-size="9.4" font-weight="bold" text-anchor="end" fill="#000" stroke="#000" stroke-width="0.1">0</text>
<line x1="441.50" y1="292.72" x2="444.30" y2="292.72" stroke="#000" stroke-width="1.2"/>
<line x1="513.40" y1="292.72" x2="516.20" y2="292.72" stroke="#000" stroke-width="1.2"/>
<text transform="translate(437.70,296.12) scale(0.82,1)" font-family="'Liberation Serif', 'Times New Roman', serif" font-size="9.4" font-weight="bold" text-anchor="end" fill="#000" stroke="#000" stroke-width="0.1">10</text>
<line x1="441.50" y1="272.74" x2="444.30" y2="272.74" stroke="#000" stroke-width="1.2"/>
<line x1="513.40" y1="272.74" x2="516.20" y2="272.74" stroke="#000" stroke-width="1.2"/>
<text transform="translate(437.70,276.14) scale(0.82,1)" font-family="'Liberation Serif', 'Times New Roman', serif" font-size="9.4" font-weight="bold" text-anchor="end" fill="#000" stroke="#000" stroke-width="0.1">20</text>
<line x1="441.50" y1="252.75" x2="444.30" y2="252.75" stroke="#000" stroke-width="1.2"/>
<line x1="513.40" y1="252.75" x2="516.20" y2="252.75" stroke="#000" stroke-width="1.2"/>
<text transform="translate(437.70,256.15) scale(0.82,1)" font-family="'Liberation Serif', 'Times New Roman', serif" font-size="9.4" font-weight="bold" text-anchor="end" fill="#000" stroke="#000" stroke-width="0.1">30</text>
<line x1="441.50" y1="232.77" x2="444.30" y2="232.77" stroke="#000" stroke-width="1.2"/>
<line x1="513.40" y1="232.77" x2="516.20" y2="232.77" stroke="#000" stroke-width="1.2"/>
<text transform="translate(437.70,236.17) scale(0.82,1)" font-family="'Liberation Serif', 'Times New Roman', serif" font-size="9.4" font-weight="bold" text-anchor="end" fill="#000" stroke="#000" stroke-width="0.1">40</text>
<line x1="441.50" y1="212.78" x2="444.30" y2="212.78" stroke="#000" stroke-width="1.2"/>
<line x1="513.40" y1="212.78" x2="516.20" y2="212.78" stroke="#000" stroke-width="1.2"/>
<text transform="translate(437.70,216.18) scale(0.82,1)" font-family="'Liberation Serif', 'Times New Roman', serif" font-size="9.4" font-weight="bold" text-anchor="end" fill="#000" stroke="#000" stroke-width="0.1">50</text>
<text transform="translate(437.70,196.20) scale(0.82,1)" font-family="'Liberation Serif', 'Times New Roman', serif" font-size="9.4" font-weight="bold" text-anchor="end" fill="#000" stroke="#000" stroke-width="0.1">60</text>
<text transform="translate(442.50,332.00) scale(0.95,1)" font-family="'Liberation Serif', 'Times New Roman', serif" font-size="9.0" font-weight="normal" text-anchor="middle" fill="#000" stroke="#000" stroke-width="0.15">Γ</text>
<text transform="translate(467.24,332.00) scale(0.95,1)" font-family="'Liberation Serif', 'Times New Roman', serif" font-size="9.0" font-weight="normal" text-anchor="middle" fill="#000" stroke="#000" stroke-width="0.15">M</text>
<text transform="translate(486.12,332.00) scale(0.95,1)" font-family="'Liberation Serif', 'Times New Roman', serif" font-size="9.0" font-weight="normal" text-anchor="middle" fill="#000" stroke="#000" stroke-width="0.15">K</text>
<text transform="translate(513.90,332.00) scale(0.95,1)" font-family="'Liberation Serif', 'Times New Roman', serif" font-size="9.0" font-weight="normal" text-anchor="middle" fill="#000" stroke="#000" stroke-width="0.15">Γ</text>
<text transform="translate(424.80,254.75) rotate(-90)" font-family="'Liberation Serif', 'Times New Roman', serif" font-size="11.2" font-weight="bold" text-anchor="middle" fill="#000">Frequency (THz)</text>
<text transform="translate(485.50,199.70) scale(0.95,1)" font-family="'Liberation Serif', 'Times New Roman', serif" font-size="9.2" font-weight="bold" text-anchor="start" fill="#000" stroke="#000" stroke-width="0.3">(i)</text>
<text transform="translate(484.50,257.70) scale(0.88,1)" font-family="'Liberation Serif', 'Times New Roman', serif" font-size="9.6" font-weight="bold" text-anchor="start" fill="#000" stroke="#000" stroke-width="0.25">HBL 6</text>
<text transform="translate(339.00,23.20) scale(0.88,1)" font-family="'Liberation Serif', 'Times New Roman', serif" font-size="10" font-weight="bold" text-anchor="start" fill="#000">Phonon dispersion curves</text>
</svg>
</body></html>
